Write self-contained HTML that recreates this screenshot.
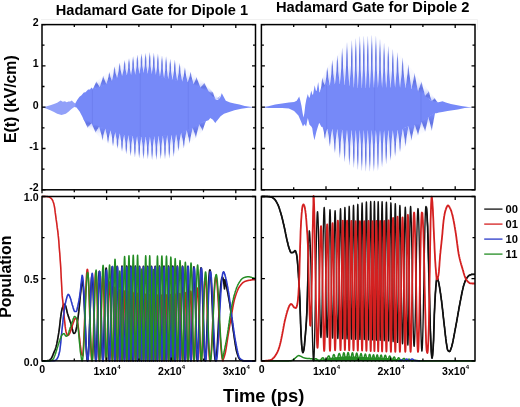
<!DOCTYPE html>
<html><head><meta charset="utf-8"><title>Hadamard Gate</title>
<style>html,body{margin:0;padding:0;background:#fff;}svg{display:block;}</style>
</head><body>
<svg width="520" height="407" viewBox="0 0 520 407">
<rect width="520" height="407" fill="#fff"/>
<path d="M41 19.6 H477.5 V30" stroke="#f0f0f0" stroke-width="1" fill="none"/>
<defs>
<clipPath id="ctl"><rect x="42.0" y="22.6" width="213.5" height="169.2"/></clipPath>
<clipPath id="ctr"><rect x="261.4" y="22.6" width="213.6" height="169.2"/></clipPath>
<clipPath id="cbl"><rect x="42.0" y="194.5" width="213.5" height="168.4"/></clipPath>
<clipPath id="cbr"><rect x="261.4" y="194.5" width="213.6" height="168.4"/></clipPath>
<linearGradient id="gu" x1="0" y1="0" x2="0" y2="1"><stop offset="0" stop-color="#6274e4" stop-opacity="0.45"/><stop offset="0.2" stop-color="#6274e4" stop-opacity="0.85"/><stop offset="0.45" stop-color="#6274e4"/><stop offset="0.85" stop-color="#7689f8"/></linearGradient>
<linearGradient id="ggu" x1="0" y1="0" x2="0" y2="1"><stop offset="0" stop-color="#7689f8" stop-opacity="0"/><stop offset="0.5" stop-color="#7689f8" stop-opacity="0.08"/><stop offset="1" stop-color="#7689f8" stop-opacity="0.45"/></linearGradient>
<linearGradient id="gd" x1="0" y1="1" x2="0" y2="0"><stop offset="0" stop-color="#6274e4" stop-opacity="0.45"/><stop offset="0.2" stop-color="#6274e4" stop-opacity="0.85"/><stop offset="0.45" stop-color="#6274e4"/><stop offset="0.85" stop-color="#7689f8"/></linearGradient>
<linearGradient id="ggd" x1="0" y1="1" x2="0" y2="0"><stop offset="0" stop-color="#7689f8" stop-opacity="0"/><stop offset="0.5" stop-color="#7689f8" stop-opacity="0.08"/><stop offset="1" stop-color="#7689f8" stop-opacity="0.45"/></linearGradient>
</defs>
<g clip-path="url(#ctl)"><path d="M42 107.2 L46 106.6 L50.3 105.3 L54 104 L57.2 102.7 L60.6 100.5 L62.8 101.8 L64.9 101.2 L66.8 102.2 L68.4 101.6 L70.2 101.4 L71.8 100.5 L73.5 102.2 L75.2 103.4 L77.5 99.5 L79.5 96.7 L81.5 95.3 L83.8 92.4 L85.5 92.3 L88.1 89.5 L90 89.4 L91.5 87.5 L92.5 88.5 L92.8 88.9 L93.3 88.8 L93.8 88.6 L94.3 88.5 L94.8 88.4 L95.3 88.3 L95.8 88.1 L96.3 88 L96.8 87.9 L97.3 87.7 L97.8 87.5 L98.3 87.4 L98.8 87.2 L99.3 87.1 L99.8 86.9 L100.3 86.7 L100.8 86.5 L101.3 86.3 L101.8 86 L102.3 85.8 L102.8 85.6 L103.3 85.3 L103.8 85.1 L104.3 84.8 L104.8 84.5 L105.3 84.3 L105.8 84 L106.3 83.8 L106.8 83.5 L107.3 83.2 L107.8 83 L108.3 82.7 L108.8 82.4 L109.3 82.1 L109.8 81.8 L110.3 81.5 L110.8 81.2 L111.3 81 L111.8 80.7 L112.3 80.4 L112.8 80.1 L113.3 79.8 L113.8 79.6 L114.3 79.3 L114.8 79 L115.3 78.7 L115.8 78.5 L116.3 78.2 L116.8 78 L117.3 77.7 L117.8 77.5 L118.3 77.3 L118.8 77.1 L119.3 76.8 L119.8 76.6 L120.3 76.4 L120.8 76.3 L121.3 76.1 L121.8 75.9 L122.3 75.8 L122.8 75.7 L123.3 75.6 L123.8 75.5 L124.3 75.4 L124.8 75.3 L125.3 75.2 L125.8 75.1 L126.3 75.1 L126.8 75 L127.3 75 L127.8 75 L128.3 74.9 L128.8 74.9 L129.3 74.9 L129.8 74.9 L130.3 74.8 L130.8 74.8 L131.3 74.8 L131.8 74.7 L132.3 74.7 L132.8 74.7 L133.3 74.6 L133.8 74.6 L134.3 74.5 L134.8 74.5 L135.3 74.4 L135.8 74.3 L136.3 74.2 L136.8 74.1 L137.3 74 L137.8 73.9 L138.3 73.8 L138.8 73.7 L139.3 73.6 L139.8 73.5 L140.3 73.3 L140.8 73.2 L141.3 73.1 L141.8 72.9 L142.3 72.8 L142.8 72.7 L143.3 72.6 L143.8 72.6 L144.3 72.6 L144.8 72.7 L145.3 72.8 L145.8 72.9 L146.3 73.1 L146.8 73.2 L147.3 73.3 L147.8 73.4 L148.3 73.5 L148.8 73.6 L149.3 73.6 L149.8 73.6 L150.3 73.6 L150.8 73.7 L151.3 73.7 L151.8 73.7 L152.3 73.8 L152.8 73.8 L153.3 73.9 L153.8 74 L154.3 74.2 L154.8 74.3 L155.3 74.5 L155.8 74.7 L156.3 74.9 L156.8 75.1 L157.3 75.3 L157.8 75.4 L158.3 75.6 L158.8 75.8 L159.3 76.1 L159.8 76.3 L160.3 76.6 L160.8 76.8 L161.3 77 L161.8 77.3 L162.3 77.5 L162.8 77.6 L163.3 77.8 L163.8 77.9 L164.3 78 L164.8 78.1 L165.3 78.2 L165.8 78.3 L166.3 78.3 L166.8 78.4 L167.3 78.5 L167.8 78.6 L168.3 78.7 L168.8 78.7 L169.3 78.8 L169.8 78.9 L170.3 79 L170.8 79.1 L171.3 79.2 L171.8 79.3 L172.3 79.4 L172.8 79.5 L173.3 79.7 L173.8 79.8 L174.3 79.9 L174.8 80 L175.3 80.1 L175.8 80.2 L176.3 80.2 L176.8 80.3 L177.3 80.4 L177.8 80.5 L178.3 80.6 L178.8 80.7 L179.3 80.7 L179.8 80.8 L180.3 80.9 L180.8 81 L181.3 81 L181.8 81.1 L182.3 81.2 L182.8 81.2 L183.3 81.3 L183.8 81.4 L184.3 81.4 L184.8 81.5 L185.3 81.6 L185.8 81.7 L186.3 81.8 L186.8 81.9 L187.3 82 L187.8 82.1 L188.3 82.2 L188.8 82.3 L189.3 82.4 L189.8 82.6 L190.3 82.7 L190.8 82.9 L191.3 83 L191.8 83.2 L192.3 83.4 L192.8 83.6 L193.3 83.7 L193.8 83.9 L194.3 84.1 L194.8 84.4 L195.3 84.6 L195.8 84.9 L196.3 85.1 L196.8 85.4 L197.3 85.7 L197.8 86 L198.3 86.2 L198.8 86.5 L199.3 86.8 L199.8 87 L200.3 87.3 L200.8 87.5 L201.3 87.7 L201.8 87.9 L202.3 88.1 L202.8 88.3 L203.3 88.5 L203.8 88.7 L204.3 88.9 L204.8 89.1 L205.3 89.3 L205.8 89.5 L206.3 89.7 L206.8 90 L207.3 90.3 L207.8 90.6 L208.3 91 L208.8 91.4 L209.3 92 L209.8 92.5 L210.3 93.1 L210.8 93.7 L211.3 94.3 L211.8 94.8 L212.3 95.4 L212.8 96.1 L213.3 96.8 L213.8 97.6 L214.3 98.3 L214.8 99 L215.3 99.5 L215.8 99.8 L216.3 99.9 L216.8 99.9 L217.3 99.8 L217.8 99.7 L218.3 99.5 L218.8 99.1 L219.3 98.6 L219.8 98 L220.3 97.2 L220.8 96.1 L221.3 94.8 L221.8 93.3 L225.8 100.8 L230.1 102.5 L234.4 103.4 L239.5 104.6 L244.7 105.9 L249.8 106.8 L255.5 107.2 L255.5 107.2 L248.1 107.7 L241.2 108.8 L234.4 110.2 L229.2 111.9 L224 113.7 L220.6 116.2 L217.2 120.5 L216.3 121.5 L215.5 123.1 L214.5 122 L212.9 119.7 L210.3 118 L208.5 120.3 L205.5 121.2 L205 121.3 L204.5 121.5 L204 121.7 L203.5 121.9 L203 122.2 L202.5 122.4 L202 122.7 L201.5 123 L201 123.3 L200.5 123.6 L200 123.9 L199.5 124.2 L199 124.5 L198.5 124.8 L198 125.1 L197.5 125.4 L197 125.7 L196.5 126 L196 126.4 L195.5 126.7 L195 127 L194.5 127.2 L194 127.5 L193.5 127.7 L193 128 L192.5 128.2 L192 128.4 L191.5 128.6 L191 128.8 L190.5 128.9 L190 129.1 L189.5 129.3 L189 129.5 L188.5 129.7 L188 129.9 L187.5 130.1 L187 130.4 L186.5 130.6 L186 130.8 L185.5 131.1 L185 131.3 L184.5 131.6 L184 131.8 L183.5 132.1 L183 132.3 L182.5 132.5 L182 132.7 L181.5 132.9 L181 133.1 L180.5 133.3 L180 133.5 L179.5 133.7 L179 133.9 L178.5 134.1 L178 134.2 L177.5 134.4 L177 134.5 L176.5 134.6 L176 134.7 L175.5 134.8 L175 134.9 L174.5 134.9 L174 135 L173.5 135.1 L173 135.1 L172.5 135.2 L172 135.2 L171.5 135.3 L171 135.3 L170.5 135.4 L170 135.4 L169.5 135.4 L169 135.5 L168.5 135.5 L168 135.5 L167.5 135.6 L167 135.6 L166.5 135.6 L166 135.6 L165.5 135.7 L165 135.7 L164.5 135.7 L164 135.8 L163.5 135.8 L163 135.9 L162.5 135.9 L162 135.9 L161.5 136 L161 136 L160.5 136 L160 136.1 L159.5 136.1 L159 136.2 L158.5 136.2 L158 136.3 L157.5 136.3 L157 136.3 L156.5 136.4 L156 136.4 L155.5 136.5 L155 136.5 L154.5 136.6 L154 136.6 L153.5 136.7 L153 136.8 L152.5 136.9 L152 136.9 L151.5 137 L151 137 L150.5 137 L150 137 L149.5 137 L149 137 L148.5 137 L148 137 L147.5 137 L147 137 L146.5 137 L146 137 L145.5 137 L145 137 L144.5 137 L144 137 L143.5 137 L143 137 L142.5 137 L142 137 L141.5 137 L141 136.9 L140.5 136.9 L140 136.8 L139.5 136.7 L139 136.6 L138.5 136.6 L138 136.5 L137.5 136.4 L137 136.4 L136.5 136.3 L136 136.3 L135.5 136.2 L135 136.1 L134.5 136.1 L134 136 L133.5 136 L133 135.9 L132.5 135.9 L132 135.9 L131.5 135.8 L131 135.8 L130.5 135.8 L130 135.7 L129.5 135.7 L129 135.7 L128.5 135.6 L128 135.6 L127.5 135.5 L127 135.5 L126.5 135.4 L126 135.3 L125.5 135.2 L125 135.2 L124.5 135.1 L124 135 L123.5 134.8 L123 134.7 L122.5 134.5 L122 134.4 L121.5 134.2 L121 134 L120.5 133.9 L120 133.7 L119.5 133.6 L119 133.5 L118.5 133.4 L118 133.3 L117.5 133.1 L117 133 L116.5 132.9 L116 132.7 L115.5 132.6 L115 132.4 L114.5 132.3 L114 132.1 L113.5 131.9 L113 131.7 L112.5 131.5 L112 131.3 L111.5 131.1 L111 130.9 L110.5 130.7 L110 130.5 L109.5 130.4 L109 130.2 L108.5 130 L108 129.8 L107.5 129.6 L107 129.5 L106.5 129.3 L106 129.1 L105.5 128.9 L105 128.8 L104.5 128.6 L104 128.4 L103.5 128.3 L103 128.1 L102.5 128 L102 127.8 L101.5 127.7 L101 127.5 L100.5 127.4 L100 127.2 L99.5 127.1 L99 126.9 L98.5 126.7 L98 126.6 L97.5 126.4 L97 126.2 L96.5 126 L96 125.8 L95.5 125.6 L95 125.4 L94.5 125.2 L94 125 L93.5 124.8 L93 124.5 L92.5 124.2 L92 123.8 L91.5 123.4 L91 123 L90.5 122.6 L90 122.3 L89.5 122.1 L89 122 L88.5 121.9 L88 121.8 L87.5 121.7 L87 121.6 L86.5 121.5 L86 121.4 L85.5 121.2 L85 121 L84.5 120.8 L84 120.2 L83.5 119.2 L82 116 L79.6 111.5 L76.5 107.6 L74.4 107.1 L72.8 107.9 L70.9 109.5 L68.5 111.8 L65.8 113.7 L61.5 115.1 L57.2 113.7 L54 112 L50.3 110.3 L46 108.5 L42 107.2 Z" fill="#7689f8"/><path d="M96.3 81.4 L99.8 87.2 L103.2 75.8 Z" fill="url(#ggu)"/><path d="M103.2 75.8 L106.2 84.1 L109.3 72.1 Z" fill="url(#ggu)"/><path d="M109.3 72.1 L111.9 81 L114.5 66.4 Z" fill="url(#ggu)"/><path d="M114.5 66.4 L117 78.2 L119.6 62.8 Z" fill="url(#ggu)"/><path d="M119.6 62.8 L122.1 76.2 L124.6 60.1 Z" fill="url(#ggu)"/><path d="M124.6 60.1 L126.8 75.3 L129 58.2 Z" fill="url(#ggu)"/><path d="M129 58.2 L131.1 75.1 L133.1 56.3 Z" fill="url(#ggu)"/><path d="M133.1 56.3 L135.2 74.7 L137.4 54.7 Z" fill="url(#ggu)"/><path d="M137.4 54.7 L139.4 73.9 L141.5 53.4 Z" fill="url(#ggu)"/><path d="M141.5 53.4 L143.6 72.9 L145.6 53 Z" fill="url(#ggu)"/><path d="M145.6 53 L147.6 73.7 L149.7 52 Z" fill="url(#ggu)"/><path d="M149.7 52 L151.8 74 L153.8 52.8 Z" fill="url(#ggu)"/><path d="M153.8 52.8 L155.9 75 L157.9 53.6 Z" fill="url(#ggu)"/><path d="M157.9 53.6 L159.9 76.7 L162 55.6 Z" fill="url(#ggu)"/><path d="M162 55.6 L164.1 78.2 L166.1 56.3 Z" fill="url(#ggu)"/><path d="M166.1 56.3 L168.2 78.9 L170.3 58.9 Z" fill="url(#ggu)"/><path d="M170.3 58.9 L172.6 79.8 L174.8 59.7 Z" fill="url(#ggu)"/><path d="M174.8 59.7 L177.2 80.7 L179.6 63 Z" fill="url(#ggu)"/><path d="M179.6 63 L182.2 81.4 L184.9 67.5 Z" fill="url(#ggu)"/><path d="M184.9 67.5 L187.8 82.4 L190.6 71.8 Z" fill="url(#ggu)"/><path d="M190.6 71.8 L193.6 84.1 L196.6 77 Z" fill="url(#ggu)"/><path d="M196.6 77 L200.6 87.7 L204.5 82.8 Z" fill="url(#ggu)"/><path d="M204.5 82.8 L208.7 91.6 L212.9 92.2 Z" fill="url(#ggu)"/><path d="M212.9 92.2 L215.9 100.1 L218.9 98.2 Z" fill="url(#ggu)"/><path d="M92.8 89.5 L93.2 88.3 L93.5 87.7 L93.8 87 L94.2 86.2 L94.5 85.5 L95 84.4 L95.4 83.5 L95.8 82.7 L96 82.2 L96.1 81.7 L96.3 81.4 L96.5 81.6 L96.6 82 L96.8 82.4 L97.2 82.9 L97.6 83.6 L98.1 84.4 L98.4 85 L98.8 85.5 L99.1 86 L99.4 86.5 L99.8 87.5 Z" fill="url(#gu)"/><path d="M99.8 87.5 L100.1 86 L100.4 85.1 L100.7 84.1 L101.1 83 L101.4 81.9 L102 80.2 L102.4 78.9 L102.7 77.8 L102.9 76.9 L103 76.2 L103.2 75.8 L103.4 76.1 L103.5 76.6 L103.7 77.2 L103.9 78 L104.3 79 L104.7 80.2 L105.1 81 L105.4 81.8 L105.7 82.5 L106 83.2 L106.2 84.4 Z" fill="url(#gu)"/><path d="M106.2 84.4 L106.6 82.9 L106.9 81.9 L107.3 80.9 L107.7 79.7 L108 78.5 L108.5 76.8 L108.6 75.4 L108.8 74.2 L109 73.3 L109.1 72.5 L109.3 72.1 L109.5 72.4 L109.6 72.9 L109.8 73.6 L110 74.5 L110.1 75.5 L110.4 76.8 L110.7 77.7 L111 78.5 L111.3 79.3 L111.6 80 L111.9 81.3 Z" fill="url(#gu)"/><path d="M111.9 81.3 L112.2 79.5 L112.5 78.4 L112.8 77.1 L113.1 75.7 L113.4 74.2 L113.7 72.1 L113.8 70.4 L114 69 L114.2 67.8 L114.3 67 L114.5 66.4 L114.7 66.9 L114.8 67.5 L115 68.5 L115.2 69.6 L115.3 71 L115.5 72.7 L115.8 73.9 L116.2 75 L116.5 76 L116.8 77 L117 78.5 Z" fill="url(#gu)"/><path d="M117 78.5 L117.4 76.7 L117.6 75.5 L118 74.1 L118.3 72.6 L118.6 71.1 L118.8 68.8 L118.9 67 L119.1 65.5 L119.3 64.3 L119.4 63.4 L119.6 62.8 L119.8 63.3 L119.9 64.1 L120.1 65.2 L120.3 66.5 L120.4 68 L120.6 70 L120.9 71.3 L121.2 72.6 L121.5 73.8 L121.8 74.8 L122.1 76.5 Z" fill="url(#gu)"/><path d="M122.1 76.5 L122.4 74.6 L122.8 73.3 L123.1 71.9 L123.4 70.4 L123.7 68.8 L123.8 66.4 L123.9 64.5 L124.1 62.9 L124.3 61.7 L124.4 60.7 L124.6 60.1 L124.8 60.7 L124.9 61.6 L125.1 62.8 L125.3 64.3 L125.4 66.1 L125.4 68.3 L125.6 69.8 L125.9 71.3 L126.2 72.6 L126.5 73.8 L126.8 75.6 Z" fill="url(#gu)"/><path d="M126.8 75.6 L127.1 73.7 L127.4 72.3 L127.7 70.8 L128 69.1 L128.2 67.5 L128.2 64.9 L128.3 62.9 L128.5 61.2 L128.7 59.9 L128.8 58.9 L129 58.2 L129.2 58.9 L129.3 59.9 L129.5 61.2 L129.7 62.8 L129.8 64.8 L129.8 67.3 L129.9 69 L130.2 70.7 L130.5 72.1 L130.8 73.5 L131.1 75.4 Z" fill="url(#gu)"/><path d="M131.1 75.4 L131.3 73.3 L131.6 71.8 L131.9 70.2 L132.2 68.3 L132.3 66.5 L132.3 63.7 L132.4 61.5 L132.6 59.6 L132.8 58.2 L132.9 57 L133.1 56.3 L133.3 57 L133.4 58.1 L133.6 59.6 L133.8 61.4 L133.9 63.5 L133.9 66.3 L134.1 68.1 L134.4 69.9 L134.7 71.5 L135 73 L135.2 75 Z" fill="url(#gu)"/><path d="M135.2 75 L135.5 72.8 L135.8 71.3 L136.1 69.5 L136.4 67.5 L136.6 65.5 L136.6 62.6 L136.7 60.2 L136.9 58.2 L137.1 56.6 L137.2 55.5 L137.4 54.7 L137.6 55.4 L137.7 56.6 L137.9 58.1 L138.1 60 L138.2 62.2 L138.2 65.1 L138.3 66.9 L138.6 68.8 L138.9 70.5 L139.2 72 L139.4 74.2 Z" fill="url(#gu)"/><path d="M139.4 74.2 L139.7 71.9 L140 70.3 L140.3 68.5 L140.6 66.5 L140.7 64.5 L140.7 61.5 L140.8 59.1 L141 57.1 L141.2 55.4 L141.3 54.2 L141.5 53.4 L141.7 54.2 L141.8 55.4 L142 56.9 L142.2 58.8 L142.3 61.1 L142.3 64 L142.4 65.9 L142.7 67.8 L143 69.5 L143.3 71.1 L143.6 73.2 Z" fill="url(#gu)"/><path d="M143.6 73.2 L143.8 71 L144.1 69.5 L144.4 67.7 L144.7 65.7 L144.8 63.8 L144.8 60.8 L144.9 58.5 L145.1 56.5 L145.3 54.9 L145.4 53.8 L145.6 53 L145.8 53.8 L145.9 55 L146.1 56.7 L146.3 58.7 L146.4 61.1 L146.4 64.2 L146.5 66.3 L146.8 68.3 L147.1 70.1 L147.4 71.8 L147.6 74 Z" fill="url(#gu)"/><path d="M147.6 74 L147.9 71.7 L148.2 70 L148.5 68.1 L148.8 65.9 L148.9 63.8 L148.9 60.6 L149 58 L149.2 55.9 L149.4 54.2 L149.5 52.9 L149.7 52 L149.9 52.9 L150 54.2 L150.2 55.9 L150.4 58.1 L150.5 60.7 L150.5 64 L150.6 66.1 L150.9 68.3 L151.2 70.3 L151.5 72 L151.8 74.3 Z" fill="url(#gu)"/><path d="M151.8 74.3 L152 72 L152.3 70.4 L152.6 68.5 L152.9 66.4 L153 64.3 L153 61.2 L153.1 58.6 L153.3 56.6 L153.5 54.9 L153.6 53.6 L153.8 52.8 L154 53.7 L154.1 55 L154.3 56.7 L154.5 58.9 L154.6 61.5 L154.6 64.8 L154.7 67 L155 69.2 L155.3 71.2 L155.6 72.9 L155.9 75.3 Z" fill="url(#gu)"/><path d="M155.9 75.3 L156.1 73 L156.4 71.3 L156.7 69.4 L157 67.3 L157.1 65.2 L157.1 62 L157.2 59.5 L157.4 57.4 L157.6 55.7 L157.7 54.4 L157.9 53.6 L158.1 54.5 L158.2 55.8 L158.4 57.7 L158.6 59.9 L158.7 62.7 L158.7 66.1 L158.8 68.4 L159.1 70.7 L159.4 72.7 L159.7 74.5 L159.9 77 Z" fill="url(#gu)"/><path d="M159.9 77 L160.2 74.7 L160.5 73 L160.8 71.2 L161.1 69.1 L161.2 67 L161.2 63.9 L161.3 61.4 L161.5 59.3 L161.7 57.7 L161.8 56.4 L162 55.6 L162.2 56.5 L162.3 57.8 L162.5 59.6 L162.7 61.8 L162.8 64.5 L162.8 67.9 L162.9 70.1 L163.2 72.4 L163.5 74.4 L163.8 76.2 L164.1 78.5 Z" fill="url(#gu)"/><path d="M164.1 78.5 L164.3 76.2 L164.6 74.5 L164.9 72.5 L165.2 70.4 L165.3 68.2 L165.3 65 L165.4 62.4 L165.6 60.2 L165.8 58.5 L165.9 57.2 L166.1 56.3 L166.3 57.2 L166.4 58.6 L166.6 60.3 L166.8 62.6 L166.9 65.3 L166.9 68.6 L167.1 70.8 L167.4 73.1 L167.6 75.1 L167.9 76.8 L168.2 79.2 Z" fill="url(#gu)"/><path d="M168.2 79.2 L168.5 77.1 L168.8 75.5 L169 73.7 L169.3 71.7 L169.5 69.8 L169.5 66.8 L169.6 64.4 L169.8 62.5 L170 60.9 L170.1 59.7 L170.3 58.9 L170.5 59.7 L170.6 61 L170.8 62.6 L171 64.7 L171.1 67.1 L171.1 70.2 L171.3 72.3 L171.6 74.3 L171.9 76.2 L172.2 77.8 L172.6 80.1 Z" fill="url(#gu)"/><path d="M172.6 80.1 L172.8 77.9 L173.1 76.3 L173.4 74.5 L173.7 72.6 L174 70.6 L174 67.6 L174.1 65.3 L174.3 63.3 L174.5 61.7 L174.6 60.5 L174.8 59.7 L175 60.5 L175.1 61.8 L175.3 63.4 L175.5 65.5 L175.6 68 L175.7 71.1 L176 73.2 L176.3 75.2 L176.6 77.1 L176.9 78.7 L177.2 81 Z" fill="url(#gu)"/><path d="M177.2 81 L177.5 79 L177.8 77.6 L178.1 76.1 L178.4 74.3 L178.7 72.6 L178.8 70 L178.9 67.9 L179.1 66.2 L179.3 64.8 L179.4 63.7 L179.6 63 L179.8 63.8 L179.9 64.9 L180.1 66.3 L180.3 68.1 L180.4 70.3 L180.6 73 L180.9 74.8 L181.3 76.6 L181.6 78.2 L181.9 79.7 L182.2 81.7 Z" fill="url(#gu)"/><path d="M182.2 81.7 L182.5 80 L182.8 79 L183.1 77.7 L183.5 76.4 L183.8 75 L184.1 73 L184.2 71.3 L184.4 70 L184.6 68.9 L184.7 68 L184.9 67.5 L185.1 68.1 L185.2 69 L185.4 70.1 L185.6 71.6 L185.7 73.3 L186.1 75.5 L186.4 77 L186.8 78.4 L187.1 79.7 L187.4 80.9 L187.8 82.7 Z" fill="url(#gu)"/><path d="M187.8 82.7 L188 81.2 L188.3 80.4 L188.6 79.5 L189 78.5 L189.3 77.4 L189.7 75.9 L189.9 74.7 L190.1 73.6 L190.3 72.8 L190.4 72.2 L190.6 71.8 L190.8 72.3 L190.9 73 L191.1 74 L191.3 75.2 L191.5 76.6 L192 78.4 L192.3 79.6 L192.7 80.8 L193 81.9 L193.3 82.9 L193.6 84.4 Z" fill="url(#gu)"/><path d="M193.6 84.4 L193.9 83.3 L194.2 82.7 L194.5 82.1 L194.8 81.4 L195.1 80.8 L195.6 79.7 L195.9 78.9 L196.1 78.2 L196.3 77.7 L196.4 77.3 L196.6 77 L196.8 77.4 L196.9 78 L197.1 78.9 L197.5 79.9 L198 81.1 L198.6 82.7 L199 83.7 L199.4 84.8 L199.8 85.7 L200.2 86.5 L200.6 88 Z" fill="url(#gu)"/><path d="M200.6 88 L200.9 87 L201.2 86.6 L201.6 86.2 L202 85.8 L202.5 85.3 L203.1 84.6 L203.5 84.1 L203.9 83.6 L204.2 83.3 L204.3 83 L204.5 82.8 L204.7 83.1 L204.8 83.6 L205.1 84.3 L205.5 85.2 L206 86.2 L206.7 87.5 L207.1 88.3 L207.6 89.2 L208 89.9 L208.3 90.6 L208.7 91.9 Z" fill="url(#gu)"/><path d="M208.7 91.9 L209.1 91.4 L209.5 91.4 L209.9 91.5 L210.4 91.6 L210.8 91.7 L211.5 91.8 L212 91.9 L212.3 92 L212.6 92.1 L212.7 92.2 L212.9 92.2 L213.1 92.5 L213.2 93 L213.4 93.6 L213.6 94.3 L213.9 95.2 L214.4 96.4 L214.7 97.2 L215 97.9 L215.3 98.6 L215.6 99.2 L215.9 100.4 Z" fill="url(#gu)"/><path d="M215.9 100.4 L216.2 99.7 L216.5 99.6 L216.8 99.4 L217.1 99.3 L217.4 99.1 L217.9 98.8 L218.2 98.7 L218.4 98.5 L218.6 98.4 L218.7 98.3 L218.9 98.2 L219.1 98 L219.2 97.7 L219.4 97.3 L219.6 96.8 L219.9 96.2 L220.4 95.4 L220.7 94.9 L221 94.4 L221.3 93.9 L221.6 93.5 L221.9 93.7 Z" fill="url(#gu)"/><path d="M87.5 127.9 L91.5 123.1 L95.5 132.7 Z" fill="url(#ggd)"/><path d="M95.5 132.7 L99 126.6 L102.5 140.5 Z" fill="url(#ggd)"/><path d="M102.5 140.5 L105.2 128.6 L108 143.4 Z" fill="url(#ggd)"/><path d="M108 143.4 L110.5 130.4 L113 146.3 Z" fill="url(#ggd)"/><path d="M113 146.3 L115.2 132.2 L117.5 148.7 Z" fill="url(#ggd)"/><path d="M117.5 148.7 L119.8 133.4 L122 151.6 Z" fill="url(#ggd)"/><path d="M122 151.6 L124.2 134.7 L126.3 154.1 Z" fill="url(#ggd)"/><path d="M126.3 154.1 L128.4 135.3 L130.6 156.1 Z" fill="url(#ggd)"/><path d="M130.6 156.1 L132.8 135.6 L134.9 157.3 Z" fill="url(#ggd)"/><path d="M134.9 157.3 L137.1 136.1 L139.2 158.2 Z" fill="url(#ggd)"/><path d="M139.2 158.2 L141.3 136.7 L143.5 159.1 Z" fill="url(#ggd)"/><path d="M143.5 159.1 L145.7 136.7 L147.8 159.1 Z" fill="url(#ggd)"/><path d="M147.8 159.1 L149.9 136.7 L152.1 160 Z" fill="url(#ggd)"/><path d="M152.1 160 L154.2 136.3 L156.4 160 Z" fill="url(#ggd)"/><path d="M156.4 160 L158.6 135.9 L160.7 159.1 Z" fill="url(#ggd)"/><path d="M160.7 159.1 L162.8 135.6 L165 159.1 Z" fill="url(#ggd)"/><path d="M165 159.1 L167.2 135.3 L169.3 158.4 Z" fill="url(#ggd)"/><path d="M169.3 158.4 L171.5 135 L173.7 156.7 Z" fill="url(#ggd)"/><path d="M173.7 156.7 L176.1 134.4 L178.5 151.1 Z" fill="url(#ggd)"/><path d="M178.5 151.1 L181.2 132.8 L183.8 148.3 Z" fill="url(#ggd)"/><path d="M183.8 148.3 L186.7 130.2 L189.6 143.5 Z" fill="url(#ggd)"/><path d="M189.6 143.5 L192.8 127.8 L195.9 138.1 Z" fill="url(#ggd)"/><path d="M195.9 138.1 L199.2 124.1 L202.6 131 Z" fill="url(#ggd)"/><path d="M83.5 118.6 L83.9 119.9 L84.2 120.6 L84.6 121.4 L85 122.3 L85.4 123.1 L86 124.4 L86.5 125.5 L86.9 126.3 L87.2 127 L87.3 127.6 L87.5 127.9 L87.7 127.7 L87.8 127.5 L88.1 127.1 L88.5 126.6 L89 126.1 L89.6 125.4 L90 125 L90.4 124.5 L90.8 124.1 L91.1 123.8 L91.5 122.8 Z" fill="url(#gd)"/><path d="M91.5 122.8 L91.9 124.1 L92.2 124.9 L92.6 125.7 L93 126.7 L93.4 127.6 L94 129 L94.5 130.1 L94.9 131 L95.2 131.8 L95.3 132.3 L95.5 132.7 L95.7 132.5 L95.8 132.1 L96 131.7 L96.4 131.1 L96.8 130.4 L97.3 129.5 L97.7 128.9 L98.1 128.4 L98.4 127.8 L98.7 127.4 L99 126.3 Z" fill="url(#gd)"/><path d="M99 126.3 L99.4 128 L99.7 129.1 L100.1 130.3 L100.5 131.7 L100.9 133 L101.5 135.1 L101.8 136.7 L102 138.1 L102.2 139.1 L102.3 140 L102.5 140.5 L102.7 140 L102.8 139.3 L103 138.4 L103.2 137.2 L103.3 135.8 L103.7 134.1 L104 132.9 L104.4 131.8 L104.7 130.7 L105 129.8 L105.2 128.3 Z" fill="url(#gd)"/><path d="M105.2 128.3 L105.6 130 L105.9 131.2 L106.2 132.5 L106.6 133.9 L106.9 135.4 L107.2 137.6 L107.3 139.3 L107.5 140.8 L107.7 141.9 L107.8 142.8 L108 143.4 L108.2 142.9 L108.3 142.1 L108.5 141.1 L108.7 139.9 L108.8 138.3 L109 136.4 L109.3 135.2 L109.6 133.9 L109.9 132.8 L110.2 131.7 L110.5 130.1 Z" fill="url(#gd)"/><path d="M110.5 130.1 L110.8 132 L111.1 133.2 L111.5 134.6 L111.8 136.2 L112.1 137.7 L112.2 140.1 L112.3 141.9 L112.5 143.5 L112.7 144.7 L112.8 145.7 L113 146.3 L113.2 145.7 L113.3 144.9 L113.5 143.8 L113.7 142.4 L113.8 140.8 L113.8 138.7 L114.1 137.3 L114.4 136 L114.7 134.7 L115 133.6 L115.2 131.9 Z" fill="url(#gd)"/><path d="M115.2 131.9 L115.5 133.8 L115.8 135.1 L116.1 136.6 L116.4 138.2 L116.7 139.8 L116.7 142.2 L116.8 144.2 L117 145.8 L117.2 147.1 L117.3 148.1 L117.5 148.7 L117.7 148.1 L117.8 147.2 L118 146 L118.2 144.5 L118.3 142.7 L118.3 140.4 L118.6 138.9 L118.9 137.4 L119.2 136.1 L119.5 134.9 L119.8 133.1 Z" fill="url(#gd)"/><path d="M119.8 133.1 L120.1 135.1 L120.3 136.5 L120.6 138.2 L120.9 140 L121.2 141.7 L121.2 144.4 L121.3 146.6 L121.5 148.4 L121.7 149.8 L121.8 150.9 L122 151.6 L122.2 150.9 L122.3 149.9 L122.5 148.6 L122.7 146.9 L122.8 145 L122.8 142.5 L123 140.8 L123.3 139.1 L123.6 137.6 L123.9 136.3 L124.2 134.4 Z" fill="url(#gd)"/><path d="M124.2 134.4 L124.4 136.5 L124.7 138 L125 139.8 L125.3 141.7 L125.5 143.6 L125.5 146.5 L125.6 148.7 L125.8 150.7 L126 152.2 L126.1 153.3 L126.3 154.1 L126.5 153.4 L126.6 152.3 L126.8 150.8 L127 148.9 L127.1 146.7 L127.1 143.9 L127.3 142.1 L127.6 140.2 L127.9 138.6 L128.2 137.1 L128.4 135 Z" fill="url(#gd)"/><path d="M128.4 135 L128.7 137.3 L129 138.9 L129.3 140.8 L129.6 142.8 L129.8 144.9 L129.8 147.9 L129.9 150.4 L130.1 152.4 L130.3 154.1 L130.4 155.3 L130.6 156.1 L130.8 155.3 L130.9 154.1 L131.1 152.5 L131.3 150.5 L131.4 148 L131.4 145 L131.6 143 L131.9 141 L132.2 139.2 L132.5 137.5 L132.8 135.3 Z" fill="url(#gd)"/><path d="M132.8 135.3 L133 137.6 L133.3 139.3 L133.6 141.3 L133.9 143.4 L134.1 145.5 L134.1 148.7 L134.2 151.3 L134.4 153.4 L134.6 155.1 L134.7 156.4 L134.9 157.3 L135.1 156.4 L135.2 155.2 L135.4 153.5 L135.6 151.4 L135.7 148.9 L135.7 145.8 L135.9 143.7 L136.2 141.6 L136.5 139.7 L136.8 138.1 L137.1 135.8 Z" fill="url(#gd)"/><path d="M137.1 135.8 L137.3 138.1 L137.6 139.9 L137.9 141.8 L138.2 144 L138.4 146.2 L138.4 149.5 L138.5 152.1 L138.7 154.3 L138.9 156 L139 157.3 L139.2 158.2 L139.4 157.4 L139.5 156.1 L139.7 154.4 L139.9 152.3 L140 149.7 L140 146.5 L140.2 144.4 L140.5 142.3 L140.8 140.4 L141.1 138.7 L141.3 136.4 Z" fill="url(#gd)"/><path d="M141.3 136.4 L141.6 138.7 L141.9 140.5 L142.2 142.5 L142.5 144.7 L142.7 146.9 L142.7 150.2 L142.8 152.9 L143 155.1 L143.2 156.9 L143.3 158.2 L143.5 159.1 L143.7 158.2 L143.8 156.9 L144 155.1 L144.2 152.9 L144.3 150.2 L144.3 146.9 L144.5 144.7 L144.8 142.5 L145.1 140.5 L145.4 138.8 L145.7 136.4 Z" fill="url(#gd)"/><path d="M145.7 136.4 L145.9 138.8 L146.2 140.5 L146.5 142.5 L146.8 144.7 L147 146.9 L147 150.3 L147.1 152.9 L147.3 155.1 L147.5 156.9 L147.6 158.2 L147.8 159.1 L148 158.2 L148.1 156.9 L148.3 155.1 L148.5 152.9 L148.6 150.3 L148.6 146.9 L148.8 144.7 L149.1 142.5 L149.4 140.5 L149.7 138.8 L149.9 136.4 Z" fill="url(#gd)"/><path d="M149.9 136.4 L150.2 138.8 L150.5 140.7 L150.8 142.7 L151.1 145 L151.3 147.3 L151.3 150.8 L151.4 153.5 L151.6 155.8 L151.8 157.7 L151.9 159 L152.1 160 L152.3 159 L152.4 157.6 L152.6 155.8 L152.8 153.4 L152.9 150.6 L152.9 147.1 L153.1 144.8 L153.4 142.4 L153.7 140.3 L154 138.5 L154.2 136 Z" fill="url(#gd)"/><path d="M154.2 136 L154.5 138.5 L154.8 140.3 L155.1 142.5 L155.4 144.8 L155.6 147.1 L155.6 150.6 L155.7 153.4 L155.9 155.8 L156.1 157.7 L156.2 159.1 L156.4 160 L156.6 159 L156.7 157.6 L156.9 155.7 L157.1 153.3 L157.2 150.5 L157.2 146.9 L157.4 144.5 L157.7 142.2 L158 140 L158.3 138.1 L158.6 135.6 Z" fill="url(#gd)"/><path d="M158.6 135.6 L158.8 138 L159.1 139.9 L159.4 141.9 L159.7 144.2 L159.9 146.5 L159.9 150 L160 152.7 L160.2 155 L160.4 156.8 L160.5 158.2 L160.7 159.1 L160.9 158.2 L161 156.8 L161.2 154.9 L161.4 152.6 L161.5 149.8 L161.5 146.3 L161.7 144 L162 141.7 L162.3 139.6 L162.6 137.7 L162.8 135.3 Z" fill="url(#gd)"/><path d="M162.8 135.3 L163.1 137.7 L163.4 139.6 L163.7 141.7 L164 144 L164.2 146.3 L164.2 149.8 L164.3 152.6 L164.5 154.9 L164.7 156.8 L164.8 158.2 L165 159.1 L165.2 158.2 L165.3 156.7 L165.5 154.9 L165.7 152.5 L165.8 149.7 L165.8 146.2 L166 143.8 L166.3 141.5 L166.6 139.3 L166.9 137.5 L167.2 135 Z" fill="url(#gd)"/><path d="M167.2 135 L167.4 137.4 L167.7 139.2 L168 141.3 L168.3 143.6 L168.5 145.9 L168.5 149.3 L168.6 152 L168.8 154.3 L169 156.1 L169.1 157.5 L169.3 158.4 L169.5 157.5 L169.6 156.1 L169.8 154.3 L170 151.9 L170.1 149.2 L170.1 145.7 L170.3 143.4 L170.6 141.1 L170.9 139 L171.2 137.1 L171.5 134.7 Z" fill="url(#gd)"/><path d="M171.5 134.7 L171.8 137 L172.1 138.7 L172.4 140.6 L172.7 142.8 L172.9 144.9 L172.9 148.2 L173 150.7 L173.2 152.9 L173.4 154.6 L173.5 155.9 L173.7 156.7 L173.9 155.9 L174 154.5 L174.2 152.8 L174.4 150.6 L174.5 147.9 L174.6 144.6 L174.8 142.4 L175.2 140.2 L175.5 138.2 L175.8 136.5 L176.1 134.1 Z" fill="url(#gd)"/><path d="M176.1 134.1 L176.4 136 L176.7 137.3 L177 138.8 L177.3 140.4 L177.6 142.1 L177.7 144.5 L177.8 146.5 L178 148.2 L178.2 149.5 L178.3 150.5 L178.5 151.1 L178.7 150.4 L178.8 149.3 L179 147.9 L179.2 146.1 L179.3 143.9 L179.5 141.2 L179.8 139.4 L180.2 137.6 L180.5 135.9 L180.8 134.5 L181.2 132.5 Z" fill="url(#gd)"/><path d="M181.2 132.5 L181.4 134.3 L181.7 135.5 L182 136.9 L182.4 138.4 L182.7 139.9 L183 142.2 L183.1 144.1 L183.3 145.6 L183.5 146.8 L183.6 147.7 L183.8 148.3 L184 147.6 L184.1 146.6 L184.3 145.1 L184.5 143.3 L184.6 141.2 L185 138.5 L185.4 136.7 L185.7 135 L186.1 133.4 L186.4 131.9 L186.7 129.9 Z" fill="url(#gd)"/><path d="M186.7 129.9 L187 131.5 L187.3 132.6 L187.6 133.8 L187.9 135.1 L188.2 136.4 L188.7 138.3 L188.9 139.9 L189.1 141.2 L189.3 142.2 L189.4 143 L189.6 143.5 L189.8 142.9 L189.9 142 L190.1 140.7 L190.3 139.2 L190.6 137.3 L191.1 135 L191.4 133.5 L191.8 131.9 L192.1 130.5 L192.4 129.3 L192.8 127.5 Z" fill="url(#gd)"/><path d="M192.8 127.5 L193 128.9 L193.3 129.7 L193.6 130.6 L193.9 131.6 L194.3 132.6 L194.8 134.1 L195.1 135.3 L195.4 136.3 L195.6 137.1 L195.7 137.7 L195.9 138.1 L196.1 137.5 L196.2 136.7 L196.4 135.6 L196.7 134.2 L197.1 132.6 L197.6 130.5 L198 129.2 L198.3 127.8 L198.7 126.6 L199 125.5 L199.2 123.8 Z" fill="url(#gd)"/><path d="M199.2 123.8 L199.5 124.9 L199.8 125.4 L200.2 126 L200.5 126.7 L200.9 127.3 L201.4 128.3 L201.8 129.1 L202.1 129.8 L202.3 130.3 L202.4 130.7 L202.6 131 L202.8 130.6 L202.9 130 L203.1 129.2 L203.4 128.2 L203.8 127 L204.3 125.5 L204.7 124.5 L205 123.5 L205.4 122.6 L205.7 121.9 L205.9 120.5 Z" fill="url(#gd)"/></g>
<g clip-path="url(#ctr)"><path d="M261.4 107.2 L268.3 106.3 L275.2 104.6 L282.1 103.4 L288.9 102.5 L294.1 102.1 L296.7 100.8 L299.2 96.5 L300.3 100.5 L301.5 106 L302.6 113 L303.5 117.5 L304.4 113 L305.3 105 L306.3 99.5 L307.8 93.9 L308.8 97.3 L309.6 97.8 L311.3 90.5 L312.3 94.5 L313 94.8 L314.7 85.3 L315.8 90.5 L316.6 91 L318.2 81.9 L319.5 92.5 L319.9 91.9 L320.4 90.7 L320.9 89.6 L321.4 88.5 L321.9 87.5 L322.4 86.7 L322.9 86 L323.4 85.5 L323.9 85.1 L324.4 85 L324.9 85 L325.4 85 L325.9 85.1 L326.4 85.1 L326.9 85.1 L327.4 85.2 L327.9 85.2 L328.4 85.3 L328.9 85.3 L329.4 85.3 L329.9 85.3 L330.4 85.2 L330.9 85.1 L331.4 85 L331.9 84.8 L332.4 84.7 L332.9 84.5 L333.4 84.3 L333.9 84.2 L334.4 84.1 L334.9 84 L335.4 84 L335.9 84 L336.4 84 L336.9 84 L337.4 84 L337.9 84 L338.4 84 L338.9 84 L339.4 84 L339.9 84 L340.4 84 L340.9 84 L341.4 84.1 L341.9 84.2 L342.4 84.3 L342.9 84.4 L343.4 84.5 L343.9 84.7 L344.4 84.8 L344.9 84.9 L345.4 85 L345.9 85 L346.4 85.1 L346.9 85.2 L347.4 85.3 L347.9 85.4 L348.4 85.5 L348.9 85.6 L349.4 85.7 L349.9 85.8 L350.4 86 L350.9 86.2 L351.4 86.4 L351.9 86.6 L352.4 86.8 L352.9 87 L353.4 87.2 L353.9 87.4 L354.4 87.5 L354.9 87.6 L355.4 87.7 L355.9 87.8 L356.4 87.8 L356.9 87.9 L357.4 88 L357.9 88 L358.4 88 L358.9 88 L359.4 88 L359.9 88 L360.4 88 L360.9 88 L361.4 88 L361.9 88 L362.4 88 L362.9 88 L363.4 88 L363.9 88 L364.4 88 L364.9 88 L365.4 87.9 L365.9 87.9 L366.4 87.9 L366.9 87.9 L367.4 87.9 L367.9 87.8 L368.4 87.8 L368.9 87.8 L369.4 87.8 L369.9 87.8 L370.4 87.7 L370.9 87.7 L371.4 87.7 L371.9 87.7 L372.4 87.6 L372.9 87.6 L373.4 87.6 L373.9 87.6 L374.4 87.6 L374.9 87.6 L375.4 87.6 L375.9 87.6 L376.4 87.6 L376.9 87.6 L377.4 87.5 L377.9 87.5 L378.4 87.5 L378.9 87.5 L379.4 87.5 L379.9 87.5 L380.4 87.5 L380.9 87.5 L381.4 87.5 L381.9 87.5 L382.4 87.5 L382.9 87.5 L383.4 87.5 L383.9 87.4 L384.4 87.4 L384.9 87.4 L385.4 87.4 L385.9 87.4 L386.4 87.4 L386.9 87.4 L387.4 87.4 L387.9 87.4 L388.4 87.4 L388.9 87.4 L389.4 87.4 L389.9 87.4 L390.4 87.4 L390.9 87.4 L391.4 87.4 L391.9 87.4 L392.4 87.4 L392.9 87.4 L393.4 87.4 L393.9 87.4 L394.4 87.4 L394.9 87.4 L395.4 87.4 L395.9 87.4 L396.4 87.4 L396.9 87.4 L397.4 87.4 L397.9 87.4 L398.4 87.4 L398.9 87.4 L399.4 87.4 L399.9 87.4 L400.4 87.4 L400.9 87.4 L401.4 87.4 L401.9 87.5 L402.4 87.5 L402.9 87.5 L403.4 87.5 L403.9 87.6 L404.4 87.6 L404.9 87.7 L405.4 87.7 L405.9 87.7 L406.4 87.8 L406.9 87.9 L407.4 87.9 L407.9 88 L408.4 88.1 L408.9 88.2 L409.4 88.3 L409.9 88.4 L410.4 88.6 L410.9 88.7 L411.4 88.8 L411.9 88.9 L412.4 89 L412.9 89.2 L413.4 89.3 L413.9 89.5 L414.4 89.6 L414.9 89.8 L415.4 90 L415.9 90.1 L416.4 90.3 L416.9 90.5 L417.4 90.7 L417.9 90.9 L418.4 91.2 L418.9 91.4 L419.4 91.7 L419.9 92 L420.4 92.3 L420.9 92.6 L421.4 93 L421.9 93.3 L422.4 93.7 L422.9 94.1 L423.4 94.4 L423.9 94.8 L424.4 95.1 L424.9 95.5 L425.4 95.9 L425.9 96.3 L426.4 96.7 L426.9 97.2 L427.4 97.7 L427.9 98.1 L428.4 98.6 L428.9 99 L429.4 99.4 L429.9 99.8 L430.4 100.2 L430.9 100.5 L431.4 100.8 L431.9 101 L432.4 101.2 L432.9 101.3 L433.4 101.5 L433.9 101.7 L434.4 101.8 L434.9 101.9 L435.4 102.1 L435.9 102.1 L436.4 102.2 L436.9 102.3 L437.4 102.3 L438.5 102.3 L440.6 101.8 L442.5 101.3 L445.8 102.5 L450.9 103.9 L456.1 105.1 L461.2 106 L468.1 107 L475 107.2 L475 107.2 L469.8 107.5 L464.7 108 L457.8 109.4 L452.6 110.2 L447.5 111.1 L442.3 111.9 L439 112.6 L436.5 113.3 L434.9 113.3 L434.4 113.5 L433.9 113.7 L433.4 114 L432.9 114.3 L432.4 114.6 L431.9 114.9 L431.4 115.2 L430.9 115.6 L430.4 115.9 L429.9 116.3 L429.4 116.6 L428.9 117 L428.4 117.3 L427.9 117.7 L427.4 118 L426.9 118.4 L426.4 118.7 L425.9 119 L425.4 119.3 L424.9 119.7 L424.4 120 L423.9 120.4 L423.4 120.7 L422.9 121.1 L422.4 121.4 L421.9 121.8 L421.4 122.1 L420.9 122.4 L420.4 122.7 L419.9 123 L419.4 123.2 L418.9 123.5 L418.4 123.7 L417.9 123.9 L417.4 124.1 L416.9 124.3 L416.4 124.4 L415.9 124.6 L415.4 124.7 L414.9 124.9 L414.4 125.1 L413.9 125.2 L413.4 125.3 L412.9 125.5 L412.4 125.6 L411.9 125.7 L411.4 125.9 L410.9 126 L410.4 126.1 L409.9 126.2 L409.4 126.3 L408.9 126.4 L408.4 126.5 L407.9 126.6 L407.4 126.8 L406.9 126.9 L406.4 127.1 L405.9 127.3 L405.4 127.5 L404.9 127.8 L404.4 128.1 L403.9 128.4 L403.4 128.7 L402.9 129 L402.4 129.3 L401.9 129.5 L401.4 129.7 L400.9 129.9 L400.4 130 L399.9 130 L399.4 130.1 L398.9 130.2 L398.4 130.2 L397.9 130.3 L397.4 130.3 L396.9 130.3 L396.4 130.4 L395.9 130.4 L395.4 130.5 L394.9 130.5 L394.4 130.5 L393.9 130.5 L393.4 130.6 L392.9 130.6 L392.4 130.6 L391.9 130.6 L391.4 130.6 L390.9 130.6 L390.4 130.6 L389.9 130.6 L389.4 130.6 L388.9 130.6 L388.4 130.6 L387.9 130.6 L387.4 130.6 L386.9 130.6 L386.4 130.6 L385.9 130.6 L385.4 130.6 L384.9 130.6 L384.4 130.6 L383.9 130.6 L383.4 130.6 L382.9 130.6 L382.4 130.6 L381.9 130.6 L381.4 130.6 L380.9 130.6 L380.4 130.6 L379.9 130.6 L379.4 130.6 L378.9 130.6 L378.4 130.6 L377.9 130.6 L377.4 130.6 L376.9 130.6 L376.4 130.6 L375.9 130.6 L375.4 130.6 L374.9 130.6 L374.4 130.6 L373.9 130.6 L373.4 130.6 L372.9 130.6 L372.4 130.6 L371.9 130.6 L371.4 130.6 L370.9 130.6 L370.4 130.6 L369.9 130.6 L369.4 130.6 L368.9 130.6 L368.4 130.6 L367.9 130.6 L367.4 130.6 L366.9 130.6 L366.4 130.6 L365.9 130.6 L365.4 130.6 L364.9 130.6 L364.4 130.6 L363.9 130.6 L363.4 130.6 L362.9 130.6 L362.4 130.6 L361.9 130.6 L361.4 130.6 L360.9 130.6 L360.4 130.6 L359.9 130.6 L359.4 130.6 L358.9 130.6 L358.4 130.6 L357.9 130.6 L357.4 130.5 L356.9 130.5 L356.4 130.5 L355.9 130.5 L355.4 130.5 L354.9 130.5 L354.4 130.5 L353.9 130.4 L353.4 130.4 L352.9 130.4 L352.4 130.4 L351.9 130.4 L351.4 130.4 L350.9 130.3 L350.4 130.3 L349.9 130.3 L349.4 130.3 L348.9 130.3 L348.4 130.2 L347.9 130.2 L347.4 130.2 L346.9 130.2 L346.4 130.1 L345.9 130.1 L345.4 130.1 L344.9 130 L344.4 130 L343.9 130 L343.4 129.9 L342.9 129.9 L342.4 129.9 L341.9 129.8 L341.4 129.8 L340.9 129.7 L340.4 129.7 L339.9 129.6 L339.4 129.6 L338.9 129.5 L338.4 129.5 L337.9 129.4 L337.4 129.4 L336.9 129.4 L336.4 129.3 L335.9 129.3 L335.4 129.3 L334.9 129.3 L334.4 129.2 L333.9 129.2 L333.4 129.2 L332.9 129.2 L332.4 129.2 L331.9 129.2 L331.4 129.2 L330.9 129.2 L330.4 129.1 L329.9 129.1 L329.4 129.1 L328.9 129.1 L328.4 129.1 L327.9 129 L327.4 129 L326.9 128.9 L326.4 128.8 L325.9 128.7 L325.4 128.5 L324.9 128.3 L324.4 128 L323.9 127.8 L323.4 127.5 L322.9 127.2 L322.4 126.7 L321.5 127 L319.2 122.7 L317.5 128 L316.4 131.7 L314.4 140.3 L313 133.4 L312.2 128 L311.3 126.5 L309.5 124.8 L307.8 118 L307.2 121 L306.1 126.5 L304.4 124 L303 126.5 L301 121.4 L298.4 115.4 L294.1 111.1 L288.9 108.5 L282.1 108 L275.2 108 L268.3 108 L261.4 107.2 Z" fill="#7689f8"/><path d="M322.4 77.9 L324.9 85.3 L327.3 67.3 Z" fill="url(#ggu)"/><path d="M327.3 67.3 L329.8 85.6 L332.3 59.9 Z" fill="url(#ggu)"/><path d="M332.3 59.9 L334.9 84.3 L337.4 55.2 Z" fill="url(#ggu)"/><path d="M337.4 55.2 L339.8 84.3 L342.2 47.7 Z" fill="url(#ggu)"/><path d="M342.2 47.7 L344.6 85.1 L347 42.1 Z" fill="url(#ggu)"/><path d="M347 42.1 L349.4 86 L351.8 40 Z" fill="url(#ggu)"/><path d="M351.8 40 L353.8 87.6 L355.8 37.9 Z" fill="url(#ggu)"/><path d="M355.8 37.9 L357.8 88.3 L359.8 35.7 Z" fill="url(#ggu)"/><path d="M359.8 35.7 L361.8 88.3 L363.8 35.6 Z" fill="url(#ggu)"/><path d="M363.8 35.6 L365.8 88.2 L367.8 35.6 Z" fill="url(#ggu)"/><path d="M367.8 35.6 L369.8 88.1 L371.8 34.7 Z" fill="url(#ggu)"/><path d="M371.8 34.7 L373.9 87.9 L375.9 35.6 Z" fill="url(#ggu)"/><path d="M375.9 35.6 L377.9 87.8 L380 38.7 Z" fill="url(#ggu)"/><path d="M380 38.7 L382.1 87.8 L384.1 42.7 Z" fill="url(#ggu)"/><path d="M384.1 42.7 L386.2 87.7 L388.3 46 Z" fill="url(#ggu)"/><path d="M388.3 46 L390.6 87.7 L392.8 49.1 Z" fill="url(#ggu)"/><path d="M392.8 49.1 L395.1 87.7 L397.5 52.2 Z" fill="url(#ggu)"/><path d="M397.5 52.2 L400.1 87.7 L402.6 57.5 Z" fill="url(#ggu)"/><path d="M402.6 57.5 L405.5 88 L408.4 64.4 Z" fill="url(#ggu)"/><path d="M408.4 64.4 L411.5 89.1 L414.6 73 Z" fill="url(#ggu)"/><path d="M414.6 73 L418.1 91.3 L421.5 81.5 Z" fill="url(#ggu)"/><path d="M421.5 81.5 L425.1 96 L428.8 91 Z" fill="url(#ggu)"/><path d="M428.8 91 L431.8 101.2 L434.7 98 Z" fill="url(#ggu)"/><path d="M319.9 92.5 L320.2 90.8 L320.5 89.7 L320.8 88.4 L321.1 87 L321.4 85.6 L321.6 83.5 L321.7 81.8 L321.9 80.4 L322.1 79.3 L322.2 78.5 L322.4 77.9 L322.6 78.2 L322.7 78.6 L322.9 79.2 L323.1 79.9 L323.2 80.7 L323.4 81.8 L323.7 82.5 L324 83.2 L324.3 83.9 L324.6 84.4 L324.9 85.6 Z" fill="url(#gu)"/><path d="M324.9 85.6 L325.1 83.6 L325.4 82.2 L325.7 80.6 L326 78.8 L326.3 77 L326.5 74.4 L326.6 72.3 L326.8 70.5 L327 69.1 L327.1 68 L327.3 67.3 L327.5 68 L327.6 69.1 L327.8 70.5 L328 72.3 L328.1 74.5 L328.3 77.2 L328.6 79 L328.9 80.8 L329.2 82.4 L329.5 83.9 L329.8 85.9 Z" fill="url(#gu)"/><path d="M329.8 85.9 L330.1 83.3 L330.4 81.2 L330.7 79 L331 76.4 L331.3 73.9 L331.5 70.1 L331.6 67 L331.8 64.5 L332 62.4 L332.1 60.9 L332.3 59.9 L332.5 60.9 L332.6 62.3 L332.8 64.2 L333 66.7 L333.1 69.5 L333.3 73.2 L333.6 75.6 L333.9 78 L334.3 80.2 L334.5 82.1 L334.9 84.6 Z" fill="url(#gu)"/><path d="M334.9 84.6 L335.2 81.7 L335.5 79.4 L335.8 76.8 L336.1 73.9 L336.4 71 L336.6 66.7 L336.7 63.2 L336.9 60.3 L337.1 58 L337.2 56.3 L337.4 55.2 L337.6 56.3 L337.7 58 L337.9 60.3 L338.1 63.2 L338.2 66.7 L338.3 71 L338.6 73.9 L338.9 76.8 L339.2 79.4 L339.5 81.7 L339.8 84.6 Z" fill="url(#gu)"/><path d="M339.8 84.6 L340.1 81.1 L340.4 78.2 L340.7 74.9 L341 71.3 L341.3 67.7 L341.4 62.2 L341.5 57.9 L341.7 54.2 L341.9 51.3 L342 49.2 L342.2 47.7 L342.4 49.2 L342.5 51.4 L342.7 54.4 L342.9 58.1 L343 62.5 L343.1 68.1 L343.4 71.8 L343.7 75.5 L344 78.9 L344.3 81.8 L344.6 85.4 Z" fill="url(#gu)"/><path d="M344.6 85.4 L344.9 81.4 L345.2 78 L345.5 74.1 L345.8 69.8 L346.1 65.6 L346.2 59.2 L346.3 54 L346.5 49.8 L346.7 46.3 L346.8 43.8 L347 42.1 L347.2 43.8 L347.3 46.4 L347.5 49.9 L347.7 54.3 L347.8 59.5 L347.9 66.1 L348.2 70.4 L348.5 74.8 L348.8 78.7 L349.1 82.2 L349.4 86.3 Z" fill="url(#gu)"/><path d="M349.4 86.3 L349.7 82 L350 78.4 L350.4 74.3 L350.7 69.7 L351 65.1 L351 58.3 L351.1 52.8 L351.3 48.2 L351.5 44.6 L351.6 41.8 L351.8 40 L352 41.9 L352.1 44.7 L352.3 48.5 L352.5 53.2 L352.6 58.9 L352.6 66 L352.7 70.8 L353 75.5 L353.3 79.8 L353.5 83.5 L353.8 87.9 Z" fill="url(#gu)"/><path d="M353.8 87.9 L354.1 83.4 L354.3 79.4 L354.6 75 L354.9 70 L355 65.1 L355 57.7 L355.1 51.7 L355.3 46.8 L355.5 42.8 L355.6 39.9 L355.8 37.9 L356 39.9 L356.1 42.9 L356.3 46.9 L356.5 51.9 L356.6 57.9 L356.6 65.5 L356.7 70.5 L357 75.5 L357.3 80 L357.5 84 L357.8 88.6 Z" fill="url(#gu)"/><path d="M357.8 88.6 L358.1 83.8 L358.3 79.6 L358.6 74.9 L358.9 69.7 L359 64.5 L359 56.6 L359.1 50.3 L359.3 45.1 L359.5 40.9 L359.6 37.8 L359.8 35.7 L360 37.8 L360.1 40.9 L360.3 45.1 L360.5 50.3 L360.6 56.6 L360.6 64.5 L360.7 69.7 L361 74.9 L361.3 79.6 L361.5 83.8 L361.8 88.6 Z" fill="url(#gu)"/><path d="M361.8 88.6 L362.1 83.8 L362.3 79.6 L362.6 74.9 L362.9 69.7 L363 64.4 L363 56.6 L363.1 50.3 L363.3 45 L363.5 40.8 L363.6 37.7 L363.8 35.6 L364 37.7 L364.1 40.8 L364.3 45 L364.5 50.3 L364.6 56.5 L364.6 64.4 L364.7 69.6 L365 74.9 L365.3 79.6 L365.5 83.8 L365.8 88.5 Z" fill="url(#gu)"/><path d="M365.8 88.5 L366.1 83.8 L366.3 79.6 L366.6 74.9 L366.9 69.6 L367 64.4 L367 56.5 L367.1 50.3 L367.3 45 L367.5 40.8 L367.6 37.7 L367.8 35.6 L368 37.7 L368.1 40.8 L368.3 45 L368.5 50.2 L368.6 56.5 L368.6 64.3 L368.7 69.5 L369 74.7 L369.3 79.4 L369.5 83.6 L369.8 88.4 Z" fill="url(#gu)"/><path d="M369.8 88.4 L370.1 83.5 L370.3 79.3 L370.6 74.5 L370.9 69.2 L371 63.9 L371 55.9 L371.1 49.6 L371.3 44.2 L371.5 40 L371.6 36.8 L371.8 34.7 L372 36.8 L372.1 40 L372.3 44.2 L372.5 49.5 L372.6 55.9 L372.6 63.8 L372.7 69.1 L373 74.4 L373.3 79.1 L373.6 83.4 L373.9 88.2 Z" fill="url(#gu)"/><path d="M373.9 88.2 L374.1 83.4 L374.4 79.3 L374.7 74.6 L375 69.4 L375.1 64.2 L375.1 56.4 L375.2 50.2 L375.4 45 L375.6 40.8 L375.7 37.7 L375.9 35.6 L376.1 37.7 L376.2 40.8 L376.4 44.9 L376.6 50.1 L376.7 56.4 L376.7 64.2 L376.8 69.4 L377.1 74.6 L377.4 79.2 L377.7 83.4 L377.9 88.1 Z" fill="url(#gu)"/><path d="M377.9 88.1 L378.2 83.6 L378.5 79.7 L378.8 75.3 L379.1 70.4 L379.2 65.6 L379.2 58.2 L379.3 52.4 L379.5 47.5 L379.7 43.6 L379.8 40.7 L380 38.7 L380.2 40.7 L380.3 43.6 L380.5 47.5 L380.7 52.4 L380.8 58.2 L380.8 65.5 L380.9 70.4 L381.2 75.3 L381.5 79.7 L381.8 83.6 L382.1 88.1 Z" fill="url(#gu)"/><path d="M382.1 88.1 L382.3 83.9 L382.6 80.3 L382.9 76.3 L383.2 71.8 L383.3 67.3 L383.3 60.6 L383.4 55.3 L383.6 50.8 L383.8 47.2 L383.9 44.5 L384.1 42.7 L384.3 44.5 L384.4 47.2 L384.6 50.8 L384.8 55.2 L384.9 60.6 L384.9 67.3 L385.1 71.8 L385.4 76.3 L385.6 80.3 L385.9 83.8 L386.2 88 Z" fill="url(#gu)"/><path d="M386.2 88 L386.5 84.1 L386.8 80.8 L387 77.1 L387.3 72.9 L387.5 68.8 L387.5 62.6 L387.6 57.6 L387.8 53.4 L388 50.1 L388.1 47.6 L388.3 46 L388.5 47.6 L388.6 50.1 L388.8 53.4 L389 57.6 L389.1 62.6 L389.1 68.8 L389.3 72.9 L389.6 77 L389.9 80.8 L390.2 84.1 L390.6 88 Z" fill="url(#gu)"/><path d="M390.6 88 L390.8 84.3 L391.1 81.3 L391.4 77.8 L391.7 74 L392 70.1 L392 64.4 L392.1 59.8 L392.3 56 L392.5 52.9 L392.6 50.6 L392.8 49.1 L393 50.6 L393.1 52.9 L393.3 56 L393.5 59.8 L393.6 64.4 L393.7 70.1 L393.9 74 L394.2 77.8 L394.5 81.3 L394.8 84.3 L395.1 88 Z" fill="url(#gu)"/><path d="M395.1 88 L395.4 84.6 L395.7 81.8 L396 78.6 L396.3 75.1 L396.6 71.6 L396.7 66.3 L396.8 62 L397 58.5 L397.2 55.7 L397.3 53.6 L397.5 52.2 L397.7 53.6 L397.8 55.7 L398 58.5 L398.2 62 L398.3 66.3 L398.5 71.6 L398.8 75.1 L399.1 78.6 L399.4 81.8 L399.7 84.6 L400.1 88 Z" fill="url(#gu)"/><path d="M400.1 88 L400.3 85 L400.6 82.6 L400.9 79.9 L401.3 76.9 L401.6 73.9 L401.8 69.5 L401.9 65.9 L402.1 62.9 L402.3 60.5 L402.4 58.7 L402.6 57.5 L402.8 58.7 L402.9 60.5 L403.1 62.9 L403.3 66 L403.4 69.6 L403.8 74.1 L404.1 77.1 L404.5 80.2 L404.8 82.9 L405.2 85.3 L405.5 88.3 Z" fill="url(#gu)"/><path d="M405.5 88.3 L405.8 85.8 L406.1 84 L406.4 81.9 L406.7 79.5 L407 77.2 L407.5 73.7 L407.7 70.9 L407.9 68.6 L408.1 66.7 L408.2 65.3 L408.4 64.4 L408.6 65.4 L408.7 66.8 L408.9 68.8 L409.1 71.2 L409.4 74.2 L409.9 77.8 L410.2 80.3 L410.6 82.7 L410.9 84.9 L411.2 86.8 L411.5 89.4 Z" fill="url(#gu)"/><path d="M411.5 89.4 L411.8 87.5 L412 86.3 L412.3 84.8 L412.7 83.3 L413 81.7 L413.5 79.3 L413.8 77.4 L414.1 75.8 L414.3 74.6 L414.4 73.6 L414.6 73 L414.8 73.7 L414.9 74.8 L415.1 76.2 L415.5 78 L415.9 80.2 L416.4 82.9 L416.7 84.7 L417.1 86.5 L417.4 88.1 L417.7 89.5 L418.1 91.6 Z" fill="url(#gu)"/><path d="M418.1 91.6 L418.4 90.2 L418.7 89.5 L419 88.6 L419.4 87.7 L419.7 86.7 L420.2 85.3 L420.6 84.2 L421 83.2 L421.2 82.4 L421.3 81.9 L421.5 81.5 L421.7 82.1 L421.8 82.9 L422.1 84 L422.4 85.5 L422.8 87.2 L423.4 89.3 L423.8 90.7 L424.2 92.1 L424.5 93.4 L424.8 94.5 L425.1 96.3 Z" fill="url(#gu)"/><path d="M425.1 96.3 L425.5 95.3 L425.8 94.9 L426.2 94.5 L426.6 94 L427 93.6 L427.6 92.9 L428 92.3 L428.3 91.8 L428.5 91.5 L428.6 91.2 L428.8 91 L429 91.4 L429.1 92 L429.3 92.8 L429.5 93.8 L429.8 95 L430.2 96.4 L430.6 97.4 L430.9 98.4 L431.2 99.3 L431.5 100.1 L431.8 101.5 Z" fill="url(#gu)"/><path d="M431.8 101.5 L432 100.7 L432.3 100.4 L432.6 100.2 L432.9 99.9 L433.3 99.6 L433.7 99.2 L434 98.8 L434.2 98.5 L434.4 98.3 L434.5 98.1 L434.7 98 L434.9 98.2 L435 98.4 L435.2 98.8 L435.4 99.2 L435.7 99.7 L436.1 100.4 L436.5 100.8 L436.8 101.2 L437.1 101.6 L437.4 102 L437.6 102.9 Z" fill="url(#gu)"/><path d="M324.9 139.2 L327.3 128.7 L329.8 146.6 Z" fill="url(#ggd)"/><path d="M329.8 146.6 L332.3 128.9 L334.9 153.1 Z" fill="url(#ggd)"/><path d="M334.9 153.1 L337.3 129.1 L339.8 158 Z" fill="url(#ggd)"/><path d="M339.8 158 L342.2 129.5 L344.6 162.1 Z" fill="url(#ggd)"/><path d="M344.6 162.1 L347 129.9 L349.4 165.6 Z" fill="url(#ggd)"/><path d="M349.4 165.6 L351.6 130.1 L353.8 168 Z" fill="url(#ggd)"/><path d="M353.8 168 L355.8 130.2 L357.8 170.1 Z" fill="url(#ggd)"/><path d="M357.8 170.1 L359.8 130.3 L361.8 171.2 Z" fill="url(#ggd)"/><path d="M361.8 171.2 L363.8 130.3 L365.8 171.7 Z" fill="url(#ggd)"/><path d="M365.8 171.7 L367.8 130.3 L369.8 171.8 Z" fill="url(#ggd)"/><path d="M369.8 171.8 L371.8 130.3 L373.9 171.8 Z" fill="url(#ggd)"/><path d="M373.9 171.8 L375.9 130.3 L377.9 171 Z" fill="url(#ggd)"/><path d="M377.9 171 L380 130.3 L382.1 167.4 Z" fill="url(#ggd)"/><path d="M382.1 167.4 L384.1 130.3 L386.2 164.3 Z" fill="url(#ggd)"/><path d="M386.2 164.3 L388.4 130.3 L390.6 160.9 Z" fill="url(#ggd)"/><path d="M390.6 160.9 L392.9 130.3 L395.1 156.7 Z" fill="url(#ggd)"/><path d="M395.1 156.7 L397.6 130 L400.1 152.3 Z" fill="url(#ggd)"/><path d="M400.1 152.3 L402.8 128.8 L405.5 146.5 Z" fill="url(#ggd)"/><path d="M405.5 146.5 L408.5 126.2 L411.5 140.5 Z" fill="url(#ggd)"/><path d="M411.5 140.5 L414.8 124.6 L418.1 135.5 Z" fill="url(#ggd)"/><path d="M418.1 135.5 L421.6 121.6 L425.1 131.8 Z" fill="url(#ggd)"/><path d="M425.1 131.8 L428.4 117 L431.8 131 Z" fill="url(#ggd)"/><path d="M322.4 126.1 L322.7 127.7 L323 128.7 L323.3 129.8 L323.6 131.1 L323.9 132.3 L324.1 134.2 L324.2 135.7 L324.3 136.9 L324.5 137.9 L324.7 138.7 L324.9 139.2 L325 138.7 L325.2 138.1 L325.4 137.3 L325.5 136.3 L325.6 135.1 L325.8 133.6 L326.1 132.5 L326.4 131.5 L326.7 130.6 L327 129.8 L327.3 128.4 Z" fill="url(#gd)"/><path d="M327.3 128.4 L327.6 130.4 L327.9 131.8 L328.2 133.4 L328.5 135.1 L328.8 136.9 L329 139.5 L329.1 141.6 L329.3 143.4 L329.5 144.8 L329.6 145.9 L329.8 146.6 L330 145.9 L330.1 144.8 L330.3 143.4 L330.5 141.7 L330.6 139.6 L330.8 137 L331.1 135.3 L331.4 133.5 L331.7 132 L332 130.6 L332.3 128.6 Z" fill="url(#gd)"/><path d="M332.3 128.6 L332.6 131.1 L332.9 133 L333.2 135.2 L333.5 137.6 L333.8 140 L334.1 143.5 L334.2 146.4 L334.3 148.8 L334.5 150.7 L334.7 152.2 L334.9 153.1 L335 152.2 L335.2 150.7 L335.4 148.8 L335.5 146.5 L335.6 143.6 L335.8 140.1 L336.1 137.7 L336.4 135.3 L336.7 133.2 L337 131.3 L337.3 128.8 Z" fill="url(#gd)"/><path d="M337.3 128.8 L337.6 131.7 L337.9 134 L338.2 136.5 L338.6 139.4 L338.8 142.3 L339 146.6 L339.1 150 L339.3 152.9 L339.5 155.2 L339.6 156.9 L339.8 158 L340 156.9 L340.1 155.2 L340.3 152.9 L340.5 150.1 L340.6 146.7 L340.7 142.5 L341 139.7 L341.3 136.9 L341.6 134.4 L341.9 132.1 L342.2 129.2 Z" fill="url(#gd)"/><path d="M342.2 129.2 L342.5 132.4 L342.8 135 L343.1 137.9 L343.4 141.1 L343.7 144.4 L343.8 149.2 L343.9 153.1 L344.1 156.3 L344.3 158.9 L344.4 160.8 L344.6 162.1 L344.8 160.8 L344.9 158.9 L345.1 156.3 L345.3 153.2 L345.4 149.3 L345.5 144.5 L345.8 141.3 L346.1 138.1 L346.4 135.3 L346.7 132.7 L347 129.6 Z" fill="url(#gd)"/><path d="M347 129.6 L347.3 133 L347.6 135.8 L347.9 139 L348.3 142.6 L348.5 146.1 L348.6 151.4 L348.7 155.7 L348.9 159.2 L349.1 162 L349.2 164.2 L349.4 165.6 L349.6 164.2 L349.7 162.1 L349.9 159.2 L350.1 155.7 L350.2 151.5 L350.2 146.2 L350.4 142.7 L350.7 139.2 L351 136 L351.3 133.2 L351.6 129.8 Z" fill="url(#gd)"/><path d="M351.6 129.8 L351.9 133.4 L352.2 136.4 L352.5 139.8 L352.8 143.5 L353 147.3 L353 153 L353.1 157.5 L353.3 161.2 L353.5 164.2 L353.6 166.5 L353.8 168 L354 166.5 L354.1 164.3 L354.3 161.3 L354.5 157.5 L354.6 153 L354.6 147.4 L354.7 143.6 L355 139.9 L355.3 136.5 L355.5 133.5 L355.8 129.9 Z" fill="url(#gd)"/><path d="M355.8 129.9 L356.1 133.7 L356.3 136.8 L356.6 140.4 L356.9 144.4 L357 148.3 L357 154.3 L357.1 159 L357.3 163 L357.5 166.1 L357.6 168.5 L357.8 170.1 L358 168.5 L358.1 166.2 L358.3 163 L358.5 159 L358.6 154.3 L358.6 148.4 L358.7 144.4 L359 140.5 L359.3 136.9 L359.5 133.8 L359.8 130 Z" fill="url(#gd)"/><path d="M359.8 130 L360.1 133.8 L360.3 137.1 L360.6 140.7 L360.9 144.8 L361 148.9 L361 155 L361.1 159.8 L361.3 163.9 L361.5 167.1 L361.6 169.6 L361.8 171.2 L362 169.6 L362.1 167.1 L362.3 163.9 L362.5 159.8 L362.6 155 L362.6 148.9 L362.7 144.8 L363 140.7 L363.3 137.1 L363.5 133.8 L363.8 130 Z" fill="url(#gd)"/><path d="M363.8 130 L364.1 133.9 L364.3 137.2 L364.6 140.9 L364.9 145 L365 149.1 L365 155.2 L365.1 160.2 L365.3 164.3 L365.5 167.6 L365.6 170 L365.8 171.7 L366 170 L366.1 167.6 L366.3 164.3 L366.5 160.2 L366.6 155.2 L366.6 149.1 L366.7 145 L367 140.9 L367.3 137.2 L367.5 133.9 L367.8 130 Z" fill="url(#gd)"/><path d="M367.8 130 L368.1 133.9 L368.3 137.2 L368.6 140.9 L368.9 145 L369 149.1 L369 155.3 L369.1 160.3 L369.3 164.4 L369.5 167.7 L369.6 170.2 L369.8 171.8 L370 170.2 L370.1 167.7 L370.3 164.4 L370.5 160.3 L370.6 155.3 L370.6 149.1 L370.7 145 L371 140.9 L371.3 137.2 L371.5 133.9 L371.8 130 Z" fill="url(#gd)"/><path d="M371.8 130 L372.1 133.9 L372.4 137.2 L372.6 140.9 L372.9 145 L373 149.1 L373.1 155.3 L373.2 160.3 L373.3 164.4 L373.5 167.7 L373.7 170.2 L373.9 171.8 L374 170.2 L374.2 167.7 L374.4 164.4 L374.5 160.3 L374.6 155.3 L374.7 149.1 L374.8 145 L375.1 140.9 L375.3 137.2 L375.6 133.9 L375.9 130 Z" fill="url(#gd)"/><path d="M375.9 130 L376.2 133.8 L376.5 137.1 L376.7 140.7 L377 144.7 L377.1 148.8 L377.2 154.8 L377.3 159.7 L377.4 163.7 L377.6 167 L377.8 169.4 L377.9 171 L378.1 169.4 L378.3 167 L378.5 163.7 L378.6 159.7 L378.7 154.8 L378.8 148.8 L378.9 144.7 L379.2 140.7 L379.4 137.1 L379.7 133.8 L380 130 Z" fill="url(#gd)"/><path d="M380 130 L380.3 133.5 L380.6 136.5 L380.8 139.8 L381.1 143.5 L381.2 147.2 L381.3 152.7 L381.4 157.1 L381.5 160.8 L381.7 163.8 L381.9 166 L382.1 167.4 L382.2 166 L382.4 163.8 L382.6 160.8 L382.7 157.1 L382.8 152.7 L382.9 147.2 L383 143.5 L383.3 139.8 L383.6 136.5 L383.8 133.5 L384.1 130 Z" fill="url(#gd)"/><path d="M384.1 130 L384.4 133.3 L384.7 136 L385 139 L385.2 142.4 L385.4 145.8 L385.4 150.8 L385.5 154.9 L385.7 158.3 L385.9 161 L386 163 L386.2 164.3 L386.4 163 L386.5 161 L386.7 158.3 L386.9 154.9 L387 150.8 L387 145.8 L387.2 142.4 L387.5 139 L387.8 136 L388.1 133.3 L388.4 130 Z" fill="url(#gd)"/><path d="M388.4 130 L388.7 133 L388.9 135.4 L389.2 138.2 L389.5 141.2 L389.7 144.2 L389.8 148.8 L389.9 152.4 L390 155.4 L390.2 157.8 L390.4 159.6 L390.6 160.9 L390.7 159.6 L390.9 157.8 L391.1 155.4 L391.2 152.4 L391.3 148.7 L391.4 144.2 L391.6 141.2 L391.9 138.1 L392.2 135.4 L392.5 133 L392.9 130 Z" fill="url(#gd)"/><path d="M392.9 130 L393.1 132.7 L393.4 134.8 L393.7 137.1 L394 139.7 L394.3 142.3 L394.4 146.3 L394.5 149.4 L394.6 152 L394.8 154.1 L395 155.7 L395.1 156.7 L395.3 155.7 L395.5 154.1 L395.7 152 L395.8 149.3 L395.9 146.1 L396.1 142.2 L396.3 139.5 L396.7 136.9 L397 134.5 L397.3 132.4 L397.6 129.7 Z" fill="url(#gd)"/><path d="M397.6 129.7 L397.9 132 L398.2 133.8 L398.5 135.8 L398.8 138 L399.1 140.2 L399.3 143.5 L399.4 146.1 L399.5 148.3 L399.7 150.1 L399.9 151.4 L400.1 152.3 L400.2 151.3 L400.4 150 L400.6 148.1 L400.7 145.8 L400.8 143 L401.1 139.5 L401.4 137.2 L401.8 134.9 L402.1 132.8 L402.4 130.9 L402.8 128.5 Z" fill="url(#gd)"/><path d="M402.8 128.5 L403.1 130.5 L403.4 131.8 L403.7 133.4 L404 135.2 L404.3 136.9 L404.7 139.5 L404.8 141.6 L405 143.4 L405.2 144.8 L405.3 145.8 L405.5 146.5 L405.7 145.7 L405.8 144.5 L406 142.9 L406.2 140.9 L406.4 138.5 L406.8 135.5 L407.2 133.5 L407.5 131.5 L407.9 129.7 L408.2 128.1 L408.5 125.9 Z" fill="url(#gd)"/><path d="M408.5 125.9 L408.8 127.6 L409.1 128.7 L409.4 130 L409.7 131.4 L410 132.8 L410.5 134.9 L410.8 136.6 L411 138 L411.2 139.1 L411.3 139.9 L411.5 140.5 L411.7 139.9 L411.8 138.9 L412 137.7 L412.2 136.1 L412.6 134.3 L413.1 131.9 L413.5 130.4 L413.8 128.8 L414.2 127.4 L414.5 126.2 L414.8 124.3 Z" fill="url(#gd)"/><path d="M414.8 124.3 L415.1 125.8 L415.3 126.6 L415.7 127.6 L416 128.6 L416.4 129.7 L416.9 131.3 L417.2 132.5 L417.5 133.6 L417.7 134.4 L417.9 135 L418.1 135.5 L418.2 134.9 L418.4 134.1 L418.6 133 L418.9 131.7 L419.3 130.1 L419.9 128 L420.3 126.7 L420.6 125.3 L421 124.1 L421.3 123 L421.6 121.3 Z" fill="url(#gd)"/><path d="M421.6 121.3 L421.9 122.7 L422.2 123.5 L422.6 124.4 L422.9 125.4 L423.3 126.4 L423.9 127.9 L424.3 129 L424.6 130 L424.8 130.8 L425 131.4 L425.1 131.8 L425.3 131.2 L425.5 130.4 L425.7 129.2 L426 127.7 L426.4 126 L426.9 123.8 L427.2 122.4 L427.6 120.9 L427.9 119.6 L428.2 118.4 L428.4 116.7 Z" fill="url(#gd)"/><path d="M428.4 116.7 L428.7 118.4 L429 119.5 L429.3 120.7 L429.7 122.1 L430 123.5 L430.5 125.5 L430.9 127.2 L431.2 128.5 L431.4 129.6 L431.6 130.5 L431.8 131 L431.9 130.3 L432.1 129.2 L432.3 127.8 L432.6 126 L433 123.9 L433.5 121.2 L433.8 119.4 L434.2 117.7 L434.5 116.1 L434.8 114.6 L435.1 112.6 Z" fill="url(#gd)"/></g>
<rect x="42.8" y="96" width="32.6" height="22" fill="#fff" fill-opacity="0.2"/>
<line x1="92.4" y1="90" x2="92.4" y2="124" stroke="#6a7cec" stroke-width="0.7"/>
<line x1="140.3" y1="73.35934068698351" x2="140.3" y2="136.83397688253862" stroke="#6a7cec" stroke-width="0.7"/>
<line x1="188.3" y1="82.17935143958562" x2="188.3" y2="129.79016715097347" stroke="#6a7cec" stroke-width="0.7"/>
<line x1="326.6" y1="85.10397240675188" x2="326.6" y2="128.86079486265692" stroke="#6a7cec" stroke-width="0.7"/>
<line x1="374.6" y1="87.59274040788208" x2="374.6" y2="130.6" stroke="#6a7cec" stroke-width="0.7"/>
<line x1="421" y1="92.66509348346837" x2="421" y2="122.32539224997072" stroke="#6a7cec" stroke-width="0.7"/>
<path d="M42 360.9 L42.2 360.9 L42.5 360.9 L42.8 360.9 L43 360.9 L43.2 360.9 L43.5 360.9 L43.8 360.9 L44 360.9 L44.2 360.9 L44.5 360.9 L44.8 360.9 L45 360.9 L45.2 360.8 L45.5 360.8 L45.8 360.8 L46 360.8 L46.2 360.8 L46.5 360.8 L46.8 360.8 L47 360.8 L47.2 360.7 L47.5 360.7 L47.8 360.7 L48 360.7 L48.2 360.7 L48.5 360.6 L48.8 360.5 L49 360.4 L49.2 360.3 L49.5 360.1 L49.8 359.9 L50 359.7 L50.2 359.5 L50.5 359.3 L50.8 359 L51 358.8 L51.2 358.5 L51.5 358.1 L51.8 357.7 L52 357.1 L52.2 356.6 L52.5 356 L52.8 355.4 L53 354.7 L53.2 354.1 L53.5 353.5 L53.8 352.9 L54 352.3 L54.2 351.7 L54.5 351.1 L54.8 350.5 L55 349.9 L55.2 349.2 L55.5 348.5 L55.8 347.7 L56 346.9 L56.2 345.9 L56.5 345 L56.8 343.9 L57 342.7 L57.2 341.5 L57.5 340.2 L57.8 338.8 L58 337.3 L58.2 335.9 L58.5 334.3 L58.8 332.7 L59 331.1 L59.2 329.3 L59.5 327.3 L59.8 325.1 L60 322.8 L60.2 320.6 L60.5 318.5 L60.8 316.7 L61 314.9 L61.2 313.2 L61.5 311.7 L61.8 310.3 L62 309.2 L62.2 308.3 L62.5 307.5 L62.8 306.7 L63 306 L63.2 305.4 L63.5 304.9 L63.8 304.5 L64 304.3 L64.2 304.2 L64.5 304.3 L64.8 304.6 L65 304.9 L65.2 305.3 L65.5 305.8 L65.8 306.3 L66 307.1 L66.2 308.1 L66.5 309.2 L66.8 310.3 L67 311.5 L67.2 312.6 L67.5 313.5 L67.8 314.3 L68 315.1 L68.2 315.9 L68.5 316.7 L68.8 317.4 L69 318.1 L69.2 318.8 L69.5 319.5 L69.8 320.2 L70 320.9 L70.2 321.6 L70.5 322.3 L70.8 323 L71 323.8 L71.2 324.6 L71.5 325.5 L71.8 326.5 L72 327.5 L72.2 328.7 L72.5 329.7 L72.8 330.8 L73 331.7 L73.2 332.5 L73.5 333 L73.8 333.3 L74 333.4 L74.2 333.3 L74.5 333.2 L74.8 333 L75 332.7 L75.2 332.4 L75.5 331.9 L75.8 331.1 L76 330.1 L76.2 328.9 L76.5 327.7 L76.8 326.4 L77 325 L77.2 323.5 L77.5 321.8 L77.8 319.9 L78 318 L78.2 316 L78.5 313.9 L78.8 311.7 L79 309.5 L79.2 307.2 L79.5 304.7 L79.8 302 L80 299.2 L80.2 296.6 L80.5 294.2 L80.8 291.8 L81 289.6 L81.2 287.4 L82.3 280.1 L82.4 280.4 L82.5 280.7 L82.6 281.2 L82.7 281.7 L82.8 282.4 L82.9 283.2 L83 284.1 L83.1 285.1 L83.2 286.2 L83.3 287.4 L83.4 288.7 L83.5 290.1 L83.6 291.7 L83.7 293.3 L83.8 295 L83.9 296.8 L84 298.7 L84.1 300.6 L84.2 302.7 L84.3 304.8 L84.4 306.9 L84.5 309.1 L84.6 311.4 L84.7 313.7 L84.8 316.1 L84.9 318.4 L85 320.8 L85.1 323.2 L85.2 325.6 L85.3 328 L85.4 330.4 L85.5 332.8 L85.6 335.1 L85.7 337.4 L85.8 339.6 L85.9 341.7 L86 343.8 L86.1 345.8 L86.2 347.7 L86.3 349.6 L86.4 351.3 L86.5 352.9 L86.6 354.3 L86.7 355.7 L86.8 356.9 L86.9 357.9 L87 358.8 L87.1 359.6 L87.2 360.2 L87.3 360.6 L87.4 360.8 L87.5 360.9 L87.6 360.8 L87.7 360.5 L87.8 360.1 L87.9 359.4 L88 358.6 L88.1 357.6 L88.2 356.4 L88.3 355.1 L88.4 353.6 L88.5 351.9 L88.6 350.1 L88.7 348.1 L88.8 346 L88.9 343.8 L89 341.4 L89.1 338.9 L89.2 336.4 L89.3 333.7 L89.4 330.9 L89.5 328.1 L89.6 325.2 L89.7 322.3 L89.8 319.4 L89.9 316.4 L90 313.5 L90.1 310.5 L90.2 307.6 L90.3 304.8 L90.4 301.9 L90.5 299.2 L90.6 296.6 L90.7 294.1 L90.8 291.6 L90.9 289.4 L91 287.2 L91.1 285.2 L91.2 283.4 L91.3 281.8 L91.4 280.3 L91.5 279.1 L91.6 278 L91.7 277.2 L91.8 276.6 L91.9 276.2 L92 276 L92.1 276.1 L92.2 276.3 L92.3 276.9 L92.4 277.6 L92.5 278.6 L92.6 279.8 L92.7 281.3 L92.8 283 L92.9 284.9 L93 287 L93.1 289.4 L93.2 291.9 L93.3 294.6 L93.4 297.5 L93.5 300.5 L93.6 303.7 L93.7 306.9 L93.8 310.3 L93.9 313.8 L94 317.3 L94.1 320.8 L94.2 324.3 L94.3 327.8 L94.4 331.3 L94.5 334.7 L94.6 337.9 L94.7 341.1 L94.8 344.1 L94.9 346.9 L95 349.5 L95.1 351.9 L95.2 354.1 L95.3 355.9 L95.4 357.5 L95.5 358.9 L95.6 359.8 L95.7 360.5 L95.8 360.9 L95.9 360.9 L96 360.5 L96.1 359.8 L96.2 358.8 L96.3 357.5 L96.4 355.8 L96.5 353.8 L96.6 351.5 L96.7 348.9 L96.8 346.1 L96.9 343 L97 339.7 L97.1 336.2 L97.2 332.6 L97.3 328.8 L97.4 324.9 L97.5 320.9 L97.6 316.9 L97.7 312.8 L97.8 308.8 L97.9 304.9 L98 301 L98.1 297.3 L98.2 293.7 L98.3 290.3 L98.4 287.1 L98.5 284.1 L98.6 281.4 L98.7 279 L98.8 276.9 L98.9 275.1 L99 273.7 L99.1 272.6 L99.2 271.8 L99.3 271.4 L99.4 271.4 L99.5 271.7 L99.6 272.4 L99.7 273.4 L99.8 274.8 L99.9 276.5 L100 278.5 L100.1 280.9 L100.2 283.5 L100.3 286.4 L100.4 289.5 L100.5 292.8 L100.6 296.4 L100.7 300.1 L100.8 303.9 L100.9 307.9 L101 311.9 L101.1 316 L101.2 320 L101.3 324.1 L101.4 328 L101.5 331.9 L101.6 335.7 L101.7 339.3 L101.8 342.7 L101.9 345.9 L102 348.8 L102.1 351.5 L102.2 353.9 L102.3 355.9 L102.4 357.6 L102.5 359 L102.6 360 L102.7 360.6 L102.8 360.9 L102.9 360.8 L103 360.2 L103.1 359.3 L103.2 358 L103.3 356.4 L103.4 354.3 L103.5 352 L103.6 349.3 L103.7 346.3 L103.8 343 L103.9 339.5 L104 335.7 L104.1 331.8 L104.2 327.7 L104.3 323.4 L104.4 319.1 L104.5 314.8 L104.6 310.4 L104.7 306.1 L104.8 301.8 L104.9 297.6 L105 293.6 L105.1 289.8 L105.2 286.2 L105.3 282.8 L105.4 279.7 L105.5 276.9 L105.6 274.5 L105.7 272.4 L105.8 270.7 L105.9 269.4 L106 268.6 L106.1 268.1 L106.2 268.1 L106.3 268.6 L106.4 269.4 L106.5 270.7 L106.6 272.5 L106.7 274.6 L106.8 277.1 L106.9 279.9 L107 283.1 L107.1 286.6 L107.2 290.4 L107.3 294.3 L107.4 298.5 L107.5 302.9 L107.6 307.3 L107.7 311.9 L107.8 316.4 L107.9 321 L108 325.5 L108.1 329.9 L108.2 334.1 L108.3 338.2 L108.4 342 L108.5 345.6 L108.6 348.9 L108.7 351.8 L108.8 354.4 L108.9 356.6 L109 358.3 L109.1 359.6 L109.2 360.5 L109.3 360.9 L109.4 360.8 L109.5 360.2 L109.6 359.2 L109.7 357.6 L109.8 355.7 L109.9 353.2 L110 350.4 L110.1 347.1 L110.2 343.5 L110.3 339.6 L110.4 335.3 L110.5 330.8 L110.6 326.1 L110.7 321.3 L110.8 316.3 L110.9 311.3 L111 306.3 L111.1 301.4 L111.2 296.6 L111.3 291.9 L111.4 287.5 L111.5 283.4 L111.6 279.7 L111.7 276.3 L111.8 273.4 L111.9 271 L112 269.1 L112.1 267.7 L112.2 266.9 L112.3 266.7 L112.4 267.1 L112.5 268.2 L112.6 269.8 L112.7 272 L112.8 274.9 L112.9 278.3 L113 282.2 L113.1 286.6 L113.2 291.5 L113.3 296.7 L113.4 302.2 L113.5 307.9 L113.6 313.7 L113.7 319.5 L113.8 325.4 L113.9 331 L114 336.4 L114.1 341.5 L114.2 346.1 L114.3 350.2 L114.4 353.8 L114.5 356.7 L114.6 358.8 L114.7 360.2 L114.8 360.9 L114.9 360.7 L115 359.7 L115.1 357.9 L115.2 355.4 L115.3 352.1 L115.4 348.1 L115.5 343.5 L115.6 338.4 L115.7 332.9 L115.8 327 L115.9 320.9 L116 314.6 L116.1 308.4 L116.2 302.2 L116.3 296.2 L116.4 290.6 L116.5 285.3 L116.6 280.5 L116.7 276.4 L116.8 272.9 L116.9 270.1 L117 268 L117.1 266.7 L117.2 266.3 L117.3 266.6 L117.4 267.8 L117.5 269.7 L117.6 272.3 L117.7 275.6 L117.8 279.6 L117.9 284.1 L118 289.2 L118.1 294.6 L118.2 300.4 L118.3 306.4 L118.4 312.6 L118.5 318.7 L118.6 324.8 L118.7 330.7 L118.8 336.2 L118.9 341.4 L119 346.2 L119.1 350.4 L119.2 353.9 L119.3 356.8 L119.4 358.9 L119.5 360.3 L119.6 360.9 L119.7 360.6 L119.8 359.6 L119.9 357.8 L120 355.2 L120.1 351.9 L120.2 347.9 L120.3 343.3 L120.4 338.3 L120.5 332.8 L120.6 326.9 L120.7 320.9 L120.8 314.7 L120.9 308.5 L121 302.3 L121.1 296.4 L121.2 290.8 L121.3 285.5 L121.4 280.7 L121.5 276.5 L121.6 273 L121.7 270.1 L121.8 268 L121.9 266.7 L122 266.2 L122.1 266.5 L122.2 267.7 L122.3 269.6 L122.4 272.4 L122.5 275.8 L122.6 279.8 L122.7 284.5 L122.8 289.6 L122.9 295.2 L123 301 L123.1 307.1 L123.2 313.2 L123.3 319.4 L123.4 325.5 L123.5 331.3 L123.6 336.9 L123.7 342 L123.8 346.7 L123.9 350.8 L124 354.3 L124.1 357.1 L124.2 359.2 L124.3 360.4 L124.4 360.9 L124.5 360.5 L124.6 359.4 L124.7 357.4 L124.8 354.7 L124.9 351.2 L125 347.1 L125.1 342.4 L125.2 337.1 L125.3 331.4 L125.4 325.4 L125.5 319.1 L125.6 312.7 L125.7 306.4 L125.8 300.1 L125.9 294 L126 288.3 L126.1 283.1 L126.2 278.4 L126.3 274.3 L126.4 271 L126.5 268.5 L126.6 266.9 L126.7 266.2 L126.8 266.5 L126.9 267.7 L127 269.8 L127.1 272.9 L127.2 276.9 L127.3 281.7 L127.4 287.2 L127.5 293.4 L127.6 300.1 L127.7 307.1 L127.8 314.2 L127.9 321.4 L128 328.5 L128.1 335.2 L128.2 341.5 L128.3 347.1 L128.4 351.8 L128.5 355.7 L128.6 358.6 L128.7 360.3 L128.8 360.9 L128.9 360.3 L129 358.6 L129.1 355.7 L129.2 351.8 L129.3 347 L129.4 341.3 L129.5 335 L129.6 328.1 L129.7 320.9 L129.8 313.6 L129.9 306.2 L130 299.1 L130.1 292.3 L130.2 286.1 L130.3 280.5 L130.4 275.7 L130.5 271.8 L130.6 268.9 L130.7 267.1 L130.8 266.2 L130.9 266.5 L131 267.7 L131.1 269.9 L131.2 273 L131.3 276.9 L131.4 281.6 L131.5 286.9 L131.6 292.7 L131.7 298.9 L131.8 305.3 L131.9 311.9 L132 318.5 L132.1 325 L132.2 331.3 L132.3 337.1 L132.4 342.6 L132.5 347.4 L132.6 351.6 L132.7 355.1 L132.8 357.8 L132.9 359.7 L133 360.7 L133.1 360.8 L133.2 360.1 L133.3 358.5 L133.4 356.1 L133.5 352.8 L133.6 348.9 L133.7 344.2 L133.8 339 L133.9 333.4 L134 327.3 L134.1 320.9 L134.2 314.4 L134.3 307.9 L134.4 301.5 L134.5 295.2 L134.6 289.3 L134.7 283.9 L134.8 279 L134.9 274.8 L135 271.3 L135.1 268.7 L135.2 267 L135.3 266.2 L135.4 266.5 L135.5 267.7 L135.6 269.9 L135.7 273.1 L135.8 277.1 L135.9 282 L136 287.5 L136.1 293.7 L136.2 300.4 L136.3 307.3 L136.4 314.4 L136.5 321.5 L136.6 328.5 L136.7 335.1 L136.8 341.2 L136.9 346.8 L137 351.5 L137.1 355.4 L137.2 358.3 L137.3 360.1 L137.4 360.9 L137.5 360.5 L137.6 359 L137.7 356.4 L137.8 352.8 L137.9 348.3 L138 342.9 L138.1 336.8 L138.2 330.1 L138.3 323 L138.4 315.7 L138.5 308.4 L138.6 301.1 L138.7 294.2 L138.8 287.7 L138.9 281.9 L139 276.8 L139.1 272.6 L139.2 269.4 L139.3 267.3 L139.4 266.3 L139.5 266.4 L139.6 267.7 L139.7 270.1 L139.8 273.5 L139.9 277.9 L140 283.2 L140.1 289.2 L140.2 295.9 L140.3 303 L140.4 310.3 L140.5 317.8 L140.6 325.2 L140.7 332.2 L140.8 338.9 L140.9 344.8 L141 350.1 L141.1 354.4 L141.2 357.6 L141.3 359.8 L141.4 360.8 L141.5 360.7 L141.6 359.3 L141.7 356.8 L141.8 353.2 L141.9 348.6 L142 343.2 L142.1 337 L142.2 330.3 L142.3 323.1 L142.4 315.7 L142.5 308.3 L142.6 301 L142.7 294 L142.8 287.5 L142.9 281.7 L143 276.6 L143.1 272.5 L143.2 269.3 L143.3 267.2 L143.4 266.3 L143.5 266.4 L143.6 267.7 L143.7 270 L143.8 273.3 L143.9 277.6 L144 282.6 L144.1 288.4 L144.2 294.6 L144.3 301.3 L144.4 308.2 L144.5 315.2 L144.6 322.2 L144.7 329 L144.8 335.4 L144.9 341.3 L145 346.7 L145.1 351.3 L145.2 355 L145.3 357.9 L145.4 359.9 L145.5 360.8 L145.6 360.7 L145.7 359.6 L145.8 357.6 L145.9 354.5 L146 350.6 L146.1 345.9 L146.2 340.5 L146.3 334.4 L146.4 327.9 L146.5 321.1 L146.6 314.1 L146.7 307 L146.8 300.1 L146.9 293.4 L147 287.2 L147.1 281.6 L147.2 276.6 L147.3 272.6 L147.4 269.4 L147.5 267.3 L147.6 266.3 L147.7 266.4 L147.8 267.7 L147.9 270.1 L148 273.6 L148.1 278.2 L148.2 283.6 L148.3 289.9 L148.4 296.8 L148.5 304.1 L148.6 311.8 L148.7 319.5 L148.8 327.1 L148.9 334.3 L149 341 L149.1 347 L149.2 352.1 L149.3 356.1 L149.4 358.9 L149.5 360.6 L149.6 360.9 L149.7 359.8 L149.8 357.5 L149.9 354 L150 349.3 L150.1 343.6 L150.2 337 L150.3 329.8 L150.4 322.2 L150.5 314.3 L150.6 306.3 L150.7 298.6 L150.8 291.3 L150.9 284.7 L151 278.8 L151.1 273.9 L151.2 270.2 L151.3 267.6 L151.4 266.4 L151.5 266.4 L151.6 267.7 L151.7 270.3 L151.8 274 L151.9 278.9 L152 284.7 L152.1 291.3 L152.2 298.6 L152.3 306.3 L152.4 314.2 L152.5 322.1 L152.6 329.8 L152.7 337 L152.8 343.5 L152.9 349.2 L153 353.9 L153.1 357.5 L153.2 359.8 L153.3 360.9 L153.4 360.5 L153.5 358.9 L153.6 356 L153.7 352 L153.8 346.8 L153.9 340.8 L154 334 L154.1 326.7 L154.2 319 L154.3 311.3 L154.4 303.5 L154.5 296.1 L154.6 289.2 L154.7 283 L154.8 277.5 L154.9 273.1 L155 269.6 L155.1 267.4 L155.2 266.3 L155.3 266.4 L155.4 267.7 L155.5 270.1 L155.6 273.6 L155.7 278 L155.8 283.3 L155.9 289.3 L156 295.8 L156.1 302.8 L156.2 310 L156.3 317.3 L156.4 324.5 L156.5 331.4 L156.6 337.8 L156.7 343.7 L156.8 348.9 L156.9 353.3 L157 356.7 L157.1 359.1 L157.2 360.5 L157.3 360.9 L157.4 360.2 L157.5 358.4 L157.6 355.6 L157.7 352 L157.8 347.4 L157.9 342.2 L158 336.3 L158.1 330 L158.2 323.3 L158.3 316.4 L158.4 309.5 L158.5 302.6 L158.6 296 L158.7 289.8 L158.8 284.2 L158.9 279.1 L159 274.8 L159.1 271.3 L159.2 268.6 L159.3 267 L159.4 266.2 L159.5 266.5 L159.6 267.7 L159.7 269.8 L159.8 272.8 L159.9 276.7 L160 281.2 L160.1 286.3 L160.2 292 L160.3 298.1 L160.4 304.4 L160.5 310.9 L160.6 317.5 L160.7 323.9 L160.8 330.1 L160.9 336 L161 341.5 L161.1 346.4 L161.2 350.7 L161.3 354.4 L161.4 357.2 L161.5 359.3 L161.6 360.5 L161.7 360.9 L161.8 360.4 L161.9 359.1 L162 356.9 L162.1 354 L162.2 350.3 L162.3 346 L162.4 341 L162.5 335.6 L162.6 329.8 L162.7 323.7 L162.8 317.4 L162.9 311 L163 304.7 L163.1 298.5 L163.2 292.6 L163.3 287.1 L163.4 282 L163.5 277.5 L163.6 273.7 L163.7 270.6 L163.8 268.3 L163.9 266.8 L164 266.2 L164.1 266.5 L164.2 267.7 L164.3 269.7 L164.4 272.6 L164.5 276.3 L164.6 280.7 L164.7 285.7 L164.8 291.2 L164.9 297.2 L165 303.5 L165.1 309.9 L165.2 316.5 L165.3 323 L165.4 329.3 L165.5 335.3 L165.6 340.9 L165.7 346 L165.8 350.4 L165.9 354.2 L166 357.1 L166.1 359.3 L166.2 360.5 L166.3 360.9 L166.4 360.3 L166.5 358.9 L166.6 356.5 L166.7 353.3 L166.8 349.4 L166.9 344.7 L167 339.4 L167.1 333.7 L167.2 327.5 L167.3 321 L167.4 314.4 L167.5 307.8 L167.6 301.2 L167.7 294.9 L167.8 289 L167.9 283.6 L168 278.7 L168.1 274.5 L168.2 271.1 L168.3 268.6 L168.4 266.9 L168.5 266.2 L168.6 266.5 L168.7 267.7 L168.8 269.8 L168.9 272.9 L169 276.8 L169.1 281.5 L169.2 286.8 L169.3 292.7 L169.4 299.1 L169.5 305.8 L169.6 312.7 L169.7 319.6 L169.8 326.4 L169.9 332.9 L170 339 L170.1 344.6 L170.2 349.5 L170.3 353.6 L170.4 356.9 L170.5 359.2 L170.6 360.6 L170.7 360.9 L170.8 360.2 L170.9 358.4 L171 355.7 L171.1 352.1 L171.2 347.6 L171.3 342.4 L171.4 336.6 L171.5 330.2 L171.6 323.5 L171.7 316.7 L171.8 309.7 L171.9 302.8 L172 296.2 L172.1 290 L172.2 284.3 L172.3 279.2 L172.4 274.8 L172.5 271.3 L172.6 268.7 L172.7 267 L172.8 266.2 L172.9 266.5 L173 267.7 L173.1 269.8 L173.2 272.9 L173.3 276.7 L173.4 281.4 L173.5 286.7 L173.6 292.5 L173.7 298.8 L173.8 305.4 L173.9 312.1 L174 318.9 L174.1 325.6 L174.2 332 L174.3 338 L174.4 343.5 L174.5 348.5 L174.6 352.7 L174.7 356.1 L174.8 358.6 L174.9 360.2 L175 360.9 L175.1 360.6 L175.2 359.4 L175.3 357.2 L175.4 354.3 L175.5 350.5 L175.6 345.9 L175.7 340.8 L175.8 335.2 L175.9 329.1 L176 322.8 L176.1 316.3 L176.2 309.8 L176.3 303.3 L176.4 297.1 L176.5 291.2 L176.6 285.8 L176.7 280.9 L176.8 276.6 L176.9 272.9 L177 270.1 L177.1 268 L177.2 266.7 L177.3 266.2 L177.4 266.5 L177.5 267.7 L177.6 269.6 L177.7 272.2 L177.8 275.5 L177.9 279.4 L178 283.9 L178.1 288.8 L178.2 294 L178.3 299.6 L178.4 305.4 L178.5 311.2 L178.6 317.1 L178.7 322.9 L178.8 328.5 L178.9 333.9 L179 339 L179.1 343.7 L179.2 347.9 L179.3 351.6 L179.4 354.7 L179.5 357.3 L179.6 359.1 L179.7 360.3 L179.8 360.9 L179.9 360.7 L180 359.9 L180.1 358.4 L180.2 356.3 L180.3 353.6 L180.4 350.3 L180.5 346.6 L180.6 342.3 L180.7 337.7 L180.8 332.7 L180.9 327.5 L181 322.1 L181.1 316.5 L181.2 311 L181.3 305.4 L181.4 300 L181.5 294.8 L181.6 289.8 L181.7 285.2 L181.8 280.9 L181.9 277.1 L182 273.8 L182.1 271.1 L182.2 268.9 L182.3 267.4 L182.4 266.5 L182.5 266.2 L182.6 266.6 L182.7 267.7 L182.8 269.4 L182.9 271.7 L183 274.7 L183.1 278.2 L183.2 282.1 L183.3 286.6 L183.4 291.4 L183.5 296.5 L183.6 301.9 L183.7 307.4 L183.8 313 L183.9 318.6 L184 324.2 L184.1 329.6 L184.2 334.8 L184.3 339.6 L184.4 344.1 L184.5 348.2 L184.6 351.8 L184.7 354.8 L184.8 357.3 L184.9 359.1 L185 360.3 L185.1 360.9 L185.2 360.8 L185.3 360 L185.4 358.6 L185.5 356.6 L185.6 354 L185.7 350.8 L185.8 347.2 L185.9 343.1 L186 338.6 L186.1 333.7 L186.2 328.6 L186.3 323.4 L186.4 318 L186.5 312.5 L186.6 307.1 L186.7 301.8 L186.8 296.7 L186.9 291.8 L187 287.1 L187.1 282.9 L187.2 279 L187.3 275.6 L187.4 272.7 L187.5 270.4 L187.6 268.5 L187.7 267.2 L187.8 266.6 L187.9 266.4 L188 266.9 L188.1 267.9 L188.2 269.5 L188.3 271.6 L188.4 274.1 L188.5 277.2 L188.6 280.7 L188.7 284.5 L188.8 288.7 L188.9 293.2 L189 297.9 L189.1 302.8 L189.2 307.8 L189.3 312.9 L189.4 317.9 L189.5 322.9 L189.6 327.8 L189.7 332.5 L189.8 337 L189.9 341.3 L190 345.2 L190.1 348.7 L190.2 351.8 L190.3 354.6 L190.4 356.8 L190.5 358.6 L190.6 359.9 L190.7 360.6 L190.8 360.9 L190.9 360.6 L191 359.9 L191.1 358.6 L191.2 356.9 L191.3 354.7 L191.4 352.1 L191.5 349.1 L191.6 345.7 L191.7 342 L191.8 338 L191.9 333.8 L192 329.4 L192.1 324.8 L192.2 320.1 L192.3 315.4 L192.4 310.7 L192.5 306 L192.6 301.5 L192.7 297 L192.8 292.8 L192.9 288.7 L193 284.9 L193.1 281.4 L193.2 278.3 L193.3 275.4 L193.4 273 L193.5 270.9 L193.6 269.3 L193.7 268.1 L193.8 267.3 L193.9 266.9 L194 267 L194.1 267.5 L194.2 268.4 L194.3 269.7 L194.4 271.4 L194.5 273.5 L194.6 276 L194.7 278.7 L194.8 281.8 L194.9 285.1 L195 288.7 L195.1 292.5 L195.2 296.5 L195.3 300.7 L195.4 304.9 L195.5 309.2 L195.6 313.5 L195.7 317.9 L195.8 322.1 L195.9 326.3 L196 330.4 L196.1 334.4 L196.2 338.2 L196.3 341.7 L196.4 345 L196.5 348.1 L196.6 350.9 L196.7 353.3 L196.8 355.5 L196.9 357.3 L197 358.7 L197.1 359.8 L197.2 360.5 L197.3 360.9 L197.4 360.8 L197.5 360.5 L197.6 359.7 L197.7 358.6 L197.8 357.2 L197.9 355.4 L198 353.3 L198.1 350.9 L198.2 348.3 L198.3 345.4 L198.4 342.3 L198.5 339 L198.6 335.5 L198.7 331.8 L198.8 328.1 L198.9 324.3 L199 320.4 L199.1 316.4 L199.2 312.5 L199.3 308.6 L199.4 304.7 L199.5 301 L199.6 297.3 L199.7 293.7 L199.8 290.4 L199.9 287.1 L200 284.1 L200.1 281.3 L200.2 278.8 L200.3 276.4 L200.4 274.4 L200.5 272.6 L200.6 271 L200.7 269.8 L200.8 268.9 L200.9 268.2 L201 267.8 L201.1 267.8 L201.2 268 L201.3 268.5 L201.4 269.3 L201.5 270.3 L201.6 271.7 L201.7 273.2 L201.8 275.1 L201.9 277.1 L202 279.4 L202.1 281.9 L202.2 284.6 L202.3 287.4 L202.4 290.4 L202.5 293.6 L202.6 296.8 L202.7 300.2 L202.8 303.6 L202.9 307.1 L203 310.6 L203.1 314.2 L203.2 317.7 L203.3 321.2 L203.4 324.7 L203.5 328.1 L203.6 331.4 L203.7 334.6 L203.8 337.7 L203.9 340.7 L204 343.5 L204.1 346.1 L204.2 348.5 L204.3 350.8 L204.4 352.8 L204.5 354.7 L204.6 356.3 L204.7 357.6 L204.8 358.8 L204.9 359.7 L205 360.3 L205.1 360.7 L205.2 360.9 L205.3 360.8 L205.4 360.5 L205.5 359.9 L205.6 359.1 L205.7 358.1 L205.8 356.9 L205.9 355.4 L206 353.8 L206.1 352 L206.2 349.9 L206.3 347.8 L206.4 345.4 L206.5 342.9 L206.6 340.3 L206.7 337.6 L206.8 334.8 L206.9 331.9 L207 328.9 L207.1 325.9 L207.2 322.9 L207.3 319.8 L207.4 316.7 L207.5 313.6 L207.6 310.6 L207.7 307.5 L207.8 304.6 L207.9 301.7 L208 298.8 L208.1 296.1 L208.2 293.4 L208.3 290.8 L208.4 288.4 L208.5 286.1 L208.6 283.9 L208.7 281.9 L208.8 280 L208.9 278.2 L209 276.6 L209.1 275.2 L209.2 274 L209.3 272.9 L209.4 272 L209.5 271.2 L209.6 270.6 L209.7 270.2 L209.8 270 L209.9 269.9 L210 270 L210.1 270.2 L210.2 270.6 L210.3 271.2 L210.4 271.9 L210.5 272.7 L210.6 273.7 L210.7 274.8 L210.8 276.1 L210.9 277.5 L211 279 L211.1 280.6 L211.2 282.3 L211.3 284.2 L211.4 286.1 L211.5 288.2 L211.6 290.3 L211.7 292.5 L211.8 294.7 L211.9 297.1 L212 299.4 L212.1 301.9 L212.2 304.3 L212.3 306.8 L212.4 309.3 L212.5 311.8 L212.6 314.4 L212.7 316.9 L212.8 319.4 L212.9 321.9 L213 324.4 L213.1 326.8 L213.2 329.2 L213.3 331.6 L213.4 333.9 L213.5 336.1 L213.6 338.3 L213.7 340.4 L213.8 342.4 L213.9 344.3 L214 346.2 L214.1 347.9 L214.2 349.6 L214.3 351.1 L214.4 352.6 L214.5 353.9 L214.6 355.1 L214.7 356.2 L214.8 357.2 L214.9 358.1 L215 358.9 L215.1 359.5 L215.2 360 L215.3 360.4 L215.4 360.7 L215.5 360.9 L215.6 360.9 L215.7 360.8 L215.8 360.6 L215.9 360.3 L216 359.9 L216.1 359.3 L216.2 358.7 L216.3 358 L216.4 357.1 L216.5 356.2 L216.6 355.1 L216.7 354 L216.8 352.8 L216.9 351.5 L217 350.1 L217.1 348.6 L217.2 347.1 L217.3 345.5 L217.4 343.9 L217.5 342.2 L217.6 340.4 L217.7 338.6 L217.8 336.8 L217.9 334.9 L218 333 L218.1 331.1 L218.2 329.1 L218.3 327.2 L218.4 325.2 L218.5 323.2 L218.6 321.2 L218.7 319.3 L218.8 317.3 L218.9 315.3 L219 313.4 L219.1 311.5 L219.2 309.6 L219.3 307.7 L219.4 305.9 L219.5 304.1 L219.6 302.4 L219.7 300.6 L219.8 299 L219.9 297.4 L220 295.8 L220.1 294.3 L220.2 292.8 L220.3 291.4 L220.4 290.1 L220.5 288.8 L220.6 287.6 L220.7 286.4 L220.8 285.3 L220.9 284.3 L221 283.3 L221.1 282.5 L221.2 281.6 L221.3 280.9 L221.4 280.2 L221.5 279.6 L221.6 279.1 L221.7 278.6 L221.8 278.2 L221.9 277.8 L222 277.6 L222.1 277.4 L222.2 277.2 L222.3 277.2 L222.4 277.2 L222.5 277.2 L222.6 277.3 L222.7 277.5 L222.8 277.7 L222.9 278 L223 278.4 L223.1 278.8 L223.2 279.2 L223.3 279.7 L223.4 280.3 L223.5 280.9 L223.6 281.5 L223.7 282.2 L223.8 282.9 L223.9 283.7 L224 284.5 L224.1 285.3 L224.2 286.2 L224.3 287.1 L224.4 288 L224.5 288.9 L225 279.5 L225.2 280.6 L225.5 281.8 L225.8 282.9 L226 284.1 L226.2 285.3 L226.5 286.5 L226.8 287.7 L227 289 L227.2 290.3 L227.5 291.5 L227.8 292.8 L228 294.1 L228.2 295.5 L228.5 296.8 L228.8 298.2 L229 299.6 L229.2 301.1 L229.5 302.6 L229.8 304.1 L230 305.8 L230.2 307.5 L230.5 309.3 L230.8 311.2 L231 313.2 L231.2 315.1 L231.5 317.1 L231.8 319.1 L232 321.1 L232.2 323.1 L232.5 325 L232.8 326.9 L233 328.7 L233.2 330.5 L233.5 332.1 L233.8 333.9 L234 335.6 L234.2 337.3 L234.5 339.1 L234.8 340.8 L235 342.5 L235.2 344.1 L235.5 345.7 L235.8 347.2 L236 348.6 L236.2 349.8 L236.5 351 L236.8 352 L237 352.9 L237.2 353.7 L237.5 354.4 L237.8 355.2 L238 355.9 L238.2 356.6 L238.5 357.2 L238.8 357.7 L239 358.2 L239.2 358.7 L239.5 359 L239.8 359.3 L240 359.5 L240.2 359.6 L240.5 359.8 L240.8 359.9 L241 360 L241.2 360.1 L241.5 360.2 L241.8 360.3 L242 360.4 L242.2 360.5 L242.5 360.6 L242.8 360.6 L243 360.7 L243.2 360.7 L243.5 360.8 L243.8 360.8 L244 360.8 L244.2 360.8 L244.5 360.8 L244.8 360.8 L245 360.8 L245.2 360.8 L245.5 360.8 L245.8 360.8 L246 360.8 L246.2 360.8 L246.5 360.8 L246.8 360.8 L247 360.8 L247.2 360.9 L247.5 360.9 L247.8 360.9 L248 360.9 L248.2 360.9 L248.5 360.9 L248.8 360.9 L249 360.9 L249.2 360.9 L249.5 360.9 L249.8 360.9 L250 360.9 L250.2 360.9 L250.5 360.9 L250.8 360.9 L251 360.9 L251.2 360.9 L251.5 360.9 L251.8 360.9 L252 360.9 L252.2 360.9 L252.5 360.9 L252.8 360.9 L253 360.9 L253.2 360.9 L253.5 360.9 L253.8 360.9 L254 360.9 L254.2 360.9 L254.5 360.9 L254.8 360.9 L255 360.9 L255.2 360.9 L255.5 360.9" fill="none" stroke="#111" stroke-width="1.7" stroke-linejoin="round" clip-path="url(#cbl)"/>
<path d="M42 196.5 L42.2 196.5 L42.5 196.5 L42.8 196.5 L43 196.5 L43.2 196.5 L43.5 196.5 L43.8 196.5 L44 196.5 L44.2 196.5 L44.5 196.5 L44.8 196.5 L45 196.5 L45.2 196.5 L45.5 196.5 L45.8 196.5 L46 196.5 L46.2 196.5 L46.5 196.5 L46.8 196.5 L47 196.6 L47.2 196.6 L47.5 196.6 L47.8 196.7 L48 196.7 L48.2 196.8 L48.5 196.8 L48.8 196.9 L49 197 L49.2 197.1 L49.5 197.1 L49.8 197.2 L50 197.4 L50.2 197.6 L50.5 197.8 L50.8 198 L51 198.2 L51.2 198.4 L51.5 198.7 L51.8 199 L52 199.4 L52.2 199.8 L52.5 200.2 L52.8 200.7 L53 201.3 L53.2 202 L53.5 202.8 L53.8 203.6 L54 204.6 L54.2 205.6 L54.5 207 L54.8 208.6 L55 210.5 L55.2 212.4 L55.5 214.4 L55.8 216.3 L56 218.1 L56.2 219.9 L56.5 221.7 L56.8 223.6 L57 225.5 L57.2 227.4 L57.5 229.3 L57.8 231.2 L58 233.2 L58.2 235.4 L58.5 237.8 L58.8 240.8 L59 244 L59.2 247.3 L59.5 250.6 L59.8 253.7 L60 256.9 L60.2 260.2 L60.5 263.9 L60.8 268.1 L61 272.8 L61.2 277.6 L61.5 282.5 L61.8 287.8 L62 292.5 L62.2 295.9 L62.5 298.6 L62.8 300.9 L63 303.1 L63.2 305.5 L63.5 308.2 L63.8 311.2 L64 314.2 L64.2 317.2 L64.5 320 L64.8 322.3 L65 324.6 L65.2 326.7 L65.5 328.7 L65.8 330.3 L66 331.5 L66.2 332.4 L66.5 333.2 L66.8 334 L67 334.6 L67.2 335.1 L67.5 335.4 L67.8 335.5 L68 335.4 L68.2 335.3 L68.5 335 L68.8 334.8 L69 334.5 L69.2 334.1 L69.5 333.7 L69.8 333.1 L70 332.5 L70.2 331.9 L70.5 331.2 L70.8 330.6 L71 329.8 L71.2 329 L71.5 328.2 L71.8 327.4 L72 326.6 L72.2 325.8 L72.5 325 L72.8 324.3 L73 323.6 L73.2 322.9 L73.5 322.2 L73.8 321.5 L74 320.8 L74.2 320.1 L74.5 319.5 L74.8 319.1 L75 318.7 L75.2 318.6 L75.5 318.6 L75.8 318.7 L76 318.7 L76.2 318.8 L76.5 318.9 L76.8 319.2 L77 319.8 L77.2 320.8 L77.5 322 L77.8 323.3 L78 324.8 L78.2 326.6 L78.5 328.7 L78.8 330.9 L79 333 L79.2 335.2 L79.5 337.5 L79.8 339.9 L80 342.2 L80.2 344.4 L80.5 346.5 L80.8 348.6 L81 350.6 L81.2 352.6 L81.5 354.5 L82.8 355.8 L82.9 354.7 L83 353.4 L83.1 352 L83.2 350.6 L83.3 349 L83.4 347.3 L83.5 345.5 L83.6 343.6 L83.7 341.6 L83.8 339.5 L83.9 337.4 L84 335.1 L84.1 332.8 L84.2 330.4 L84.3 328 L84.4 325.5 L84.5 322.9 L84.6 320.3 L84.7 317.7 L84.8 315.1 L84.9 312.4 L85 309.7 L85.1 307.1 L85.2 304.5 L85.3 301.8 L85.4 299.3 L85.5 296.7 L85.6 294.3 L85.7 291.8 L85.8 289.5 L85.9 287.2 L86 285.1 L86.1 283 L86.2 281.1 L86.3 279.2 L86.4 277.5 L86.5 276 L86.6 274.6 L86.7 273.3 L86.8 272.2 L86.9 271.3 L87 270.5 L87.1 270 L87.2 269.6 L87.3 269.3 L87.4 269.3 L87.5 269.5 L87.6 269.9 L87.7 270.4 L87.8 271.2 L87.9 272.1 L88 273.2 L88.1 274.6 L88.2 276.1 L88.3 277.7 L88.4 279.6 L88.5 281.6 L88.6 283.7 L88.7 286 L88.8 288.5 L88.9 291 L89 293.7 L89.1 296.5 L89.2 299.4 L89.3 302.4 L89.4 305.4 L89.5 308.5 L89.6 311.7 L89.7 314.8 L89.8 318 L89.9 321.1 L90 324.3 L90.1 327.4 L90.2 330.4 L90.3 333.4 L90.4 336.3 L90.5 339.1 L90.6 341.8 L90.7 344.3 L90.8 346.8 L90.9 349 L91 351.1 L91.1 353 L91.2 354.8 L91.3 356.3 L91.4 357.6 L91.5 358.7 L91.6 359.6 L91.7 360.3 L91.8 360.7 L91.9 360.9 L92 360.8 L92.1 360.5 L92.2 360 L92.3 359.2 L92.4 358.2 L92.5 357 L92.6 355.5 L92.7 353.7 L92.8 351.8 L92.9 349.6 L93 347.2 L93.1 344.6 L93.2 341.8 L93.3 338.8 L93.4 335.7 L93.5 332.4 L93.6 329 L93.7 325.5 L93.8 322 L93.9 318.4 L94 314.7 L94.1 311.1 L94.2 307.4 L94.3 303.8 L94.4 300.3 L94.5 296.9 L94.6 293.6 L94.7 290.4 L94.8 287.5 L94.9 284.7 L95 282.1 L95.1 279.8 L95.2 277.8 L95.3 276 L95.4 274.5 L95.5 273.4 L95.6 272.5 L95.7 272 L95.8 271.8 L95.9 272 L96 272.5 L96.1 273.3 L96.2 274.5 L96.3 276 L96.4 277.8 L96.5 280 L96.6 282.4 L96.7 285.1 L96.8 288 L96.9 291.2 L97 294.6 L97.1 298.1 L97.2 301.8 L97.3 305.7 L97.4 309.6 L97.5 313.5 L97.6 317.5 L97.7 321.5 L97.8 325.4 L97.9 329.3 L98 333.1 L98.1 336.7 L98.2 340.2 L98.3 343.4 L98.4 346.5 L98.5 349.3 L98.6 351.8 L98.7 354.1 L98.8 356.1 L98.9 357.7 L99 359 L99.1 360 L99.2 360.6 L99.3 360.9 L99.4 360.8 L99.5 360.4 L99.6 359.6 L99.7 358.6 L99.8 357.2 L99.9 355.4 L100 353.4 L100.1 351.1 L100.2 348.5 L100.3 345.7 L100.4 342.6 L100.5 339.4 L100.6 336 L100.7 332.4 L100.8 328.7 L100.9 324.9 L101 321.1 L101.1 317.2 L101.2 313.4 L101.3 309.6 L101.4 305.8 L101.5 302.2 L101.6 298.7 L101.7 295.3 L101.8 292.2 L101.9 289.2 L102 286.5 L102.1 284.1 L102.2 281.9 L102.3 280.1 L102.4 278.5 L102.5 277.3 L102.6 276.5 L102.7 276 L102.8 275.8 L102.9 276 L103 276.6 L103.1 277.5 L103.2 278.8 L103.3 280.4 L103.4 282.4 L103.5 284.6 L103.6 287.2 L103.7 290 L103.8 293.1 L103.9 296.4 L104 299.9 L104.1 303.5 L104.2 307.3 L104.3 311.2 L104.4 315.1 L104.5 319.1 L104.6 323.1 L104.7 327 L104.8 330.9 L104.9 334.7 L105 338.3 L105.1 341.8 L105.2 345 L105.3 348 L105.4 350.8 L105.5 353.2 L105.6 355.4 L105.7 357.2 L105.8 358.7 L105.9 359.8 L106 360.5 L106.1 360.9 L106.2 360.8 L106.3 360.4 L106.4 359.6 L106.5 358.4 L106.6 356.9 L106.7 355 L106.8 352.8 L106.9 350.3 L107 347.5 L107.1 344.4 L107.2 341.2 L107.3 337.7 L107.4 334.1 L107.5 330.3 L107.6 326.5 L107.7 322.6 L107.8 318.7 L107.9 314.9 L108 311 L108.1 307.3 L108.2 303.8 L108.3 300.3 L108.4 297.1 L108.5 294.2 L108.6 291.5 L108.7 289.1 L108.8 287 L108.9 285.2 L109 283.8 L109.1 282.8 L109.2 282.2 L109.3 282 L109.4 282.2 L109.5 282.7 L109.6 283.7 L109.7 285.1 L109.8 286.8 L109.9 289 L110 291.4 L110.1 294.2 L110.2 297.3 L110.3 300.7 L110.4 304.3 L110.5 308.1 L110.6 312 L110.7 316.1 L110.8 320.2 L110.9 324.4 L111 328.5 L111.1 332.6 L111.2 336.6 L111.3 340.4 L111.4 344 L111.5 347.3 L111.6 350.4 L111.7 353.1 L111.8 355.5 L111.9 357.5 L112 359 L112.1 360.1 L112.2 360.7 L112.3 360.9 L112.4 360.5 L112.5 359.7 L112.6 358.4 L112.7 356.6 L112.8 354.3 L112.9 351.6 L113 348.5 L113.1 344.9 L113.2 341.1 L113.3 337 L113.4 332.6 L113.5 328.1 L113.6 323.6 L113.7 319 L113.8 314.4 L113.9 310 L114 305.8 L114.1 301.9 L114.2 298.3 L114.3 295.1 L114.4 292.4 L114.5 290.2 L114.6 288.6 L114.7 287.6 L114.8 287.2 L114.9 287.4 L115 288.2 L115.1 289.7 L115.2 291.8 L115.3 294.4 L115.4 297.5 L115.5 301.1 L115.6 305.2 L115.7 309.5 L115.8 314.1 L115.9 318.9 L116 323.7 L116.1 328.6 L116.2 333.3 L116.3 337.9 L116.4 342.3 L116.5 346.4 L116.6 350 L116.7 353.2 L116.8 355.9 L116.9 358 L117 359.6 L117.1 360.6 L117.2 360.9 L117.3 360.6 L117.4 359.8 L117.5 358.3 L117.6 356.3 L117.7 353.8 L117.8 350.8 L117.9 347.3 L118 343.5 L118.1 339.4 L118.2 335.1 L118.3 330.5 L118.4 325.9 L118.5 321.3 L118.6 316.8 L118.7 312.4 L118.8 308.2 L118.9 304.3 L119 300.8 L119.1 297.6 L119.2 295 L119.3 292.9 L119.4 291.3 L119.5 290.3 L119.6 289.9 L119.7 290.1 L119.8 290.9 L119.9 292.3 L120 294.3 L120.1 296.8 L120.2 299.8 L120.3 303.2 L120.4 307 L120.5 311.1 L120.6 315.5 L120.7 320.1 L120.8 324.7 L120.9 329.3 L121 333.9 L121.1 338.4 L121.2 342.6 L121.3 346.5 L121.4 350.1 L121.5 353.2 L121.6 355.9 L121.7 358 L121.8 359.6 L121.9 360.5 L122 360.9 L122.1 360.7 L122.2 359.8 L122.3 358.3 L122.4 356.3 L122.5 353.8 L122.6 350.8 L122.7 347.3 L122.8 343.5 L122.9 339.4 L123 335.1 L123.1 330.6 L123.2 326.1 L123.3 321.5 L123.4 317 L123.5 312.7 L123.6 308.6 L123.7 304.8 L123.8 301.3 L123.9 298.3 L124 295.8 L124.1 293.7 L124.2 292.2 L124.3 291.3 L124.4 291 L124.5 291.3 L124.6 292.2 L124.7 293.6 L124.8 295.7 L124.9 298.2 L125 301.3 L125.1 304.8 L125.2 308.7 L125.3 312.9 L125.4 317.3 L125.5 322 L125.6 326.7 L125.7 331.4 L125.8 336 L125.9 340.5 L126 344.7 L126.1 348.5 L126.2 352 L126.3 354.9 L126.4 357.4 L126.5 359.2 L126.6 360.4 L126.7 360.9 L126.8 360.7 L126.9 359.8 L127 358.2 L127.1 356 L127.2 353.1 L127.3 349.5 L127.4 345.5 L127.5 341 L127.6 336.1 L127.7 331 L127.8 325.8 L127.9 320.5 L128 315.4 L128.1 310.5 L128.2 306 L128.3 301.9 L128.4 298.4 L128.5 295.6 L128.6 293.5 L128.7 292.3 L128.8 291.9 L128.9 292.3 L129 293.6 L129.1 295.7 L129.2 298.6 L129.3 302.1 L129.4 306.2 L129.5 310.9 L129.6 315.9 L129.7 321.1 L129.8 326.5 L129.9 331.8 L130 337 L130.1 342 L130.2 346.5 L130.3 350.5 L130.4 354 L130.5 356.8 L130.6 358.9 L130.7 360.3 L130.8 360.9 L130.9 360.7 L131 359.8 L131.1 358.2 L131.2 356 L131.3 353.1 L131.4 349.8 L131.5 345.9 L131.6 341.7 L131.7 337.3 L131.8 332.6 L131.9 327.8 L132 323.1 L132.1 318.4 L132.2 313.9 L132.3 309.7 L132.4 305.8 L132.5 302.3 L132.6 299.3 L132.7 296.8 L132.8 294.8 L132.9 293.5 L133 292.8 L133.1 292.7 L133.2 293.2 L133.3 294.4 L133.4 296.2 L133.5 298.5 L133.6 301.4 L133.7 304.7 L133.8 308.5 L133.9 312.6 L134 317 L134.1 321.5 L134.2 326.2 L134.3 330.9 L134.4 335.6 L134.5 340.1 L134.6 344.3 L134.7 348.2 L134.8 351.7 L134.9 354.7 L135 357.2 L135.1 359.1 L135.2 360.3 L135.3 360.9 L135.4 360.7 L135.5 359.8 L135.6 358.3 L135.7 356 L135.8 353.1 L135.9 349.6 L136 345.6 L136.1 341.2 L136.2 336.5 L136.3 331.5 L136.4 326.4 L136.5 321.3 L136.6 316.4 L136.7 311.7 L136.8 307.3 L136.9 303.3 L137 300 L137.1 297.2 L137.2 295.2 L137.3 293.9 L137.4 293.3 L137.5 293.6 L137.6 294.7 L137.7 296.5 L137.8 299.1 L137.9 302.4 L138 306.3 L138.1 310.6 L138.2 315.4 L138.3 320.4 L138.4 325.6 L138.5 330.9 L138.6 336 L138.7 341 L138.8 345.6 L138.9 349.8 L139 353.4 L139.1 356.3 L139.2 358.6 L139.3 360.1 L139.4 360.8 L139.5 360.7 L139.6 359.8 L139.7 358.2 L139.8 355.7 L139.9 352.6 L140 348.8 L140.1 344.6 L140.2 339.8 L140.3 334.8 L140.4 329.6 L140.5 324.3 L140.6 319.1 L140.7 314.1 L140.8 309.4 L140.9 305.2 L141 301.5 L141.1 298.5 L141.2 296.1 L141.3 294.6 L141.4 293.9 L141.5 294 L141.6 295 L141.7 296.8 L141.8 299.3 L141.9 302.6 L142 306.4 L142.1 310.8 L142.2 315.6 L142.3 320.7 L142.4 325.9 L142.5 331.2 L142.6 336.3 L142.7 341.3 L142.8 345.9 L142.9 350 L143 353.5 L143.1 356.5 L143.2 358.7 L143.3 360.2 L143.4 360.8 L143.5 360.7 L143.6 359.9 L143.7 358.2 L143.8 355.9 L143.9 352.9 L144 349.3 L144.1 345.3 L144.2 340.9 L144.3 336.2 L144.4 331.3 L144.5 326.4 L144.6 321.4 L144.7 316.7 L144.8 312.2 L144.9 308 L145 304.3 L145.1 301 L145.2 298.4 L145.3 296.4 L145.4 295 L145.5 294.4 L145.6 294.4 L145.7 295.2 L145.8 296.7 L145.9 298.8 L146 301.6 L146.1 304.9 L146.2 308.7 L146.3 313 L146.4 317.5 L146.5 322.4 L146.6 327.3 L146.7 332.2 L146.8 337.1 L146.9 341.8 L147 346.2 L147.1 350.1 L147.2 353.6 L147.3 356.4 L147.4 358.6 L147.5 360.1 L147.6 360.8 L147.7 360.8 L147.8 359.9 L147.9 358.2 L148 355.7 L148.1 352.5 L148.2 348.7 L148.3 344.3 L148.4 339.5 L148.5 334.3 L148.6 329 L148.7 323.6 L148.8 318.3 L148.9 313.2 L149 308.5 L149.1 304.3 L149.2 300.8 L149.3 298 L149.4 296 L149.5 294.9 L149.6 294.7 L149.7 295.4 L149.8 297 L149.9 299.5 L150 302.8 L150.1 306.8 L150.2 311.4 L150.3 316.4 L150.4 321.8 L150.5 327.3 L150.6 332.8 L150.7 338.2 L150.8 343.3 L150.9 348 L151 352.1 L151.1 355.5 L151.2 358.1 L151.3 359.9 L151.4 360.8 L151.5 360.8 L151.6 359.9 L151.7 358.1 L151.8 355.4 L151.9 352 L152 348 L152.1 343.3 L152.2 338.3 L152.3 332.9 L152.4 327.4 L152.5 321.9 L152.6 316.5 L152.7 311.5 L152.8 306.9 L152.9 303 L153 299.7 L153.1 297.2 L153.2 295.6 L153.3 294.9 L153.4 295.1 L153.5 296.2 L153.6 298.3 L153.7 301.1 L153.8 304.7 L153.9 308.9 L154 313.6 L154.1 318.7 L154.2 324.1 L154.3 329.5 L154.4 334.9 L154.5 340 L154.6 344.9 L154.7 349.2 L154.8 353 L154.9 356.1 L155 358.5 L155.1 360.1 L155.2 360.8 L155.3 360.8 L155.4 359.9 L155.5 358.2 L155.6 355.8 L155.7 352.7 L155.8 349 L155.9 344.8 L156 340.3 L156.1 335.4 L156.2 330.4 L156.3 325.3 L156.4 320.3 L156.5 315.5 L156.6 311 L156.7 306.9 L156.8 303.3 L156.9 300.3 L157 297.9 L157.1 296.2 L157.2 295.2 L157.3 295 L157.4 295.5 L157.5 296.7 L157.6 298.6 L157.7 301.2 L157.8 304.4 L157.9 308 L158 312.1 L158.1 316.5 L158.2 321.2 L158.3 326 L158.4 330.8 L158.5 335.6 L158.6 340.1 L158.7 344.4 L158.8 348.4 L158.9 351.9 L159 354.9 L159.1 357.4 L159.2 359.2 L159.3 360.4 L159.4 360.9 L159.5 360.7 L159.6 359.9 L159.7 358.4 L159.8 356.3 L159.9 353.6 L160 350.5 L160.1 346.9 L160.2 342.9 L160.3 338.7 L160.4 334.3 L160.5 329.8 L160.6 325.2 L160.7 320.8 L160.8 316.4 L160.9 312.3 L161 308.5 L161.1 305.1 L161.2 302.1 L161.3 299.5 L161.4 297.5 L161.5 296.1 L161.6 295.2 L161.7 295 L161.8 295.3 L161.9 296.3 L162 297.8 L162.1 299.8 L162.2 302.4 L162.3 305.4 L162.4 308.8 L162.5 312.6 L162.6 316.6 L162.7 320.9 L162.8 325.2 L162.9 329.7 L163 334.1 L163.1 338.4 L163.2 342.5 L163.3 346.4 L163.4 349.9 L163.5 353 L163.6 355.7 L163.7 357.8 L163.8 359.4 L163.9 360.5 L164 360.9 L164.1 360.7 L164.2 359.9 L164.3 358.4 L164.4 356.4 L164.5 353.9 L164.6 350.8 L164.7 347.3 L164.8 343.5 L164.9 339.3 L165 334.9 L165.1 330.4 L165.2 325.9 L165.3 321.3 L165.4 316.9 L165.5 312.7 L165.6 308.8 L165.7 305.3 L165.8 302.2 L165.9 299.6 L166 297.5 L166.1 296 L166.2 295.1 L166.3 294.9 L166.4 295.2 L166.5 296.3 L166.6 297.9 L166.7 300.1 L166.8 302.9 L166.9 306.1 L167 309.8 L167.1 313.8 L167.2 318.1 L167.3 322.6 L167.4 327.2 L167.5 331.9 L167.6 336.4 L167.7 340.8 L167.8 345 L167.9 348.8 L168 352.2 L168.1 355.1 L168.2 357.5 L168.3 359.2 L168.4 360.4 L168.5 360.9 L168.6 360.7 L168.7 359.9 L168.8 358.4 L168.9 356.2 L169 353.5 L169.1 350.2 L169.2 346.5 L169.3 342.3 L169.4 337.9 L169.5 333.2 L169.6 328.4 L169.7 323.5 L169.8 318.8 L169.9 314.2 L170 309.9 L170.1 306 L170.2 302.6 L170.3 299.7 L170.4 297.4 L170.5 295.7 L170.6 294.8 L170.7 294.6 L170.8 295.1 L170.9 296.3 L171 298.2 L171.1 300.7 L171.2 303.8 L171.3 307.5 L171.4 311.6 L171.5 316 L171.6 320.7 L171.7 325.5 L171.8 330.4 L171.9 335.2 L172 339.8 L172.1 344.2 L172.2 348.2 L172.3 351.8 L172.4 354.8 L172.5 357.3 L172.6 359.2 L172.7 360.4 L172.8 360.9 L172.9 360.7 L173 359.9 L173.1 358.3 L173.2 356.2 L173.3 353.5 L173.4 350.2 L173.5 346.5 L173.6 342.4 L173.7 338 L173.8 333.3 L173.9 328.6 L174 323.8 L174.1 319.1 L174.2 314.6 L174.3 310.3 L174.4 306.4 L174.5 303 L174.6 300 L174.7 297.6 L174.8 295.8 L174.9 294.6 L175 294.1 L175.1 294.3 L175.2 295.2 L175.3 296.7 L175.4 298.8 L175.5 301.4 L175.6 304.6 L175.7 308.2 L175.8 312.2 L175.9 316.5 L176 320.9 L176.1 325.5 L176.2 330.1 L176.3 334.7 L176.4 339 L176.5 343.2 L176.6 347.1 L176.7 350.5 L176.8 353.6 L176.9 356.1 L177 358.2 L177.1 359.7 L177.2 360.6 L177.3 360.9 L177.4 360.7 L177.5 359.8 L177.6 358.5 L177.7 356.6 L177.8 354.3 L177.9 351.5 L178 348.4 L178.1 344.9 L178.2 341.2 L178.3 337.2 L178.4 333.1 L178.5 328.9 L178.6 324.8 L178.7 320.6 L178.8 316.6 L178.9 312.8 L179 309.1 L179.1 305.8 L179.2 302.8 L179.3 300.2 L179.4 297.9 L179.5 296.1 L179.6 294.8 L179.7 293.9 L179.8 293.5 L179.9 293.6 L180 294.1 L180.1 295.2 L180.2 296.7 L180.3 298.6 L180.4 300.9 L180.5 303.6 L180.6 306.6 L180.7 309.9 L180.8 313.4 L180.9 317.1 L181 321 L181.1 324.9 L181.2 328.9 L181.3 332.9 L181.4 336.7 L181.5 340.5 L181.6 344 L181.7 347.3 L181.8 350.4 L181.9 353.1 L182 355.4 L182.1 357.4 L182.2 359 L182.3 360.1 L182.4 360.7 L182.5 360.9 L182.6 360.6 L182.7 359.8 L182.8 358.6 L182.9 356.9 L183 354.8 L183.1 352.3 L183.2 349.5 L183.3 346.3 L183.4 342.8 L183.5 339.1 L183.6 335.3 L183.7 331.3 L183.8 327.2 L183.9 323.2 L184 319.2 L184.1 315.3 L184.2 311.5 L184.3 308 L184.4 304.7 L184.5 301.8 L184.6 299.2 L184.7 297 L184.8 295.2 L184.9 293.8 L185 292.9 L185.1 292.5 L185.2 292.6 L185.3 293.1 L185.4 294.1 L185.5 295.5 L185.6 297.4 L185.7 299.7 L185.8 302.3 L185.9 305.3 L186 308.5 L186.1 312 L186.2 315.7 L186.3 319.5 L186.4 323.4 L186.5 327.3 L186.6 331.3 L186.7 335.1 L186.8 338.8 L186.9 342.4 L187 345.8 L187.1 348.9 L187.2 351.7 L187.3 354.1 L187.4 356.3 L187.5 358 L187.6 359.4 L187.7 360.3 L187.8 360.8 L187.9 360.9 L188 360.6 L188.1 359.8 L188.2 358.7 L188.3 357.2 L188.4 355.3 L188.5 353 L188.6 350.5 L188.7 347.7 L188.8 344.6 L188.9 341.3 L189 337.9 L189.1 334.3 L189.2 330.6 L189.3 326.9 L189.4 323.1 L189.5 319.4 L189.6 315.8 L189.7 312.3 L189.8 309 L189.9 305.9 L190 303 L190.1 300.3 L190.2 298 L190.3 296 L190.4 294.3 L190.5 293 L190.6 292 L190.7 291.4 L190.8 291.2 L190.9 291.3 L191 291.9 L191.1 292.8 L191.2 294 L191.3 295.6 L191.4 297.5 L191.5 299.8 L191.6 302.2 L191.7 305 L191.8 307.9 L191.9 311 L192 314.3 L192.1 317.7 L192.2 321.1 L192.3 324.6 L192.4 328.1 L192.5 331.6 L192.6 335 L192.7 338.3 L192.8 341.5 L192.9 344.5 L193 347.4 L193.1 350 L193.2 352.4 L193.3 354.5 L193.4 356.3 L193.5 357.8 L193.6 359.1 L193.7 360 L193.8 360.6 L193.9 360.9 L194 360.8 L194.1 360.5 L194.2 359.8 L194.3 358.8 L194.4 357.5 L194.5 356 L194.6 354.1 L194.7 352 L194.8 349.7 L194.9 347.2 L195 344.5 L195.1 341.6 L195.2 338.6 L195.3 335.5 L195.4 332.2 L195.5 329 L195.6 325.7 L195.7 322.3 L195.8 319.1 L195.9 315.8 L196 312.7 L196.1 309.6 L196.2 306.7 L196.3 303.9 L196.4 301.2 L196.5 298.8 L196.6 296.6 L196.7 294.6 L196.8 292.9 L196.9 291.4 L197 290.1 L197.1 289.2 L197.2 288.5 L197.3 288.1 L197.4 288 L197.5 288.1 L197.6 288.6 L197.7 289.3 L197.8 290.3 L197.9 291.5 L198 293 L198.1 294.8 L198.2 296.7 L198.3 298.9 L198.4 301.2 L198.5 303.7 L198.6 306.4 L198.7 309.2 L198.8 312.1 L198.9 315.1 L199 318.1 L199.1 321.2 L199.2 324.3 L199.3 327.4 L199.4 330.4 L199.5 333.5 L199.6 336.4 L199.7 339.3 L199.8 342 L199.9 344.6 L200 347.1 L200.1 349.4 L200.2 351.5 L200.3 353.5 L200.4 355.2 L200.5 356.7 L200.6 358 L200.7 359.1 L200.8 359.9 L200.9 360.5 L201 360.8 L201.1 360.9 L201.2 360.8 L201.3 360.4 L201.4 359.7 L201.5 358.9 L201.6 357.8 L201.7 356.5 L201.8 355 L201.9 353.2 L202 351.3 L202.1 349.2 L202.2 346.9 L202.3 344.5 L202.4 341.9 L202.5 339.2 L202.6 336.3 L202.7 333.4 L202.8 330.4 L202.9 327.3 L203 324.2 L203.1 321.1 L203.2 318 L203.3 314.8 L203.4 311.7 L203.5 308.7 L203.6 305.7 L203.7 302.8 L203.8 300 L203.9 297.3 L204 294.7 L204.1 292.3 L204.2 290.1 L204.3 288 L204.4 286 L204.5 284.3 L204.6 282.8 L204.7 281.4 L204.8 280.3 L204.9 279.4 L205 278.7 L205.1 278.3 L205.2 278 L205.3 278 L205.4 278.1 L205.5 278.5 L205.6 279.1 L205.7 279.9 L205.8 280.9 L205.9 282.1 L206 283.4 L206.1 285 L206.2 286.7 L206.3 288.5 L206.4 290.5 L206.5 292.6 L206.6 294.9 L206.7 297.2 L206.8 299.7 L206.9 302.2 L207 304.8 L207.1 307.5 L207.2 310.2 L207.3 312.9 L207.4 315.7 L207.5 318.4 L207.6 321.2 L207.7 323.9 L207.8 326.6 L207.9 329.3 L208 331.9 L208.1 334.4 L208.2 336.9 L208.3 339.3 L208.4 341.6 L208.5 343.8 L208.6 345.8 L208.7 347.8 L208.8 349.7 L208.9 351.4 L209 353 L209.1 354.4 L209.2 355.7 L209.3 356.9 L209.4 357.9 L209.5 358.8 L209.6 359.5 L209.7 360.1 L209.8 360.5 L209.9 360.8 L210 360.9 L210.1 360.9 L210.2 360.7 L210.3 360.4 L210.4 360 L210.5 359.5 L210.6 358.8 L210.7 358 L210.8 357 L210.9 356 L211 354.8 L211.1 353.5 L211.2 352.1 L211.3 350.6 L211.4 349 L211.5 347.3 L211.6 345.6 L211.7 343.7 L211.8 341.8 L211.9 339.8 L212 337.8 L212.1 335.7 L212.2 333.5 L212.3 331.3 L212.4 329.1 L212.5 326.8 L212.6 324.6 L212.7 322.3 L212.8 320 L212.9 317.7 L213 315.4 L213.1 313.2 L213.2 310.9 L213.3 308.7 L213.4 306.5 L213.5 304.4 L213.6 302.3 L213.7 300.3 L213.8 298.3 L213.9 296.4 L214 294.5 L214.1 292.7 L214.2 291 L214.3 289.4 L214.4 287.9 L214.5 286.4 L214.6 285.1 L214.7 283.8 L214.8 282.6 L214.9 281.6 L215 280.6 L215.1 279.8 L215.2 279 L215.3 278.4 L215.4 277.8 L215.5 277.4 L215.6 277.1 L215.7 276.8 L215.8 276.7 L215.9 276.7 L216 276.8 L216.1 277 L216.2 277.3 L216.3 277.7 L216.4 278.2 L216.5 278.8 L216.6 279.5 L216.7 280.3 L216.8 281.2 L216.9 282.2 L217 283.2 L217.1 284.3 L217.2 285.5 L217.3 286.8 L217.4 288.1 L217.5 289.5 L217.6 291 L217.7 292.5 L217.8 294.1 L217.9 295.7 L218 297.3 L218.1 299 L218.2 300.8 L218.3 302.5 L218.4 304.3 L218.5 306.2 L218.6 308 L218.7 309.8 L218.8 311.7 L218.9 313.6 L219 315.4 L219.1 317.3 L219.2 319.1 L219.3 321 L219.4 322.8 L219.5 324.7 L219.6 326.5 L219.7 328.2 L219.8 330 L219.9 331.7 L220 333.4 L220.1 335.1 L220.2 336.7 L220.3 338.3 L220.4 339.8 L220.5 341.3 L220.6 342.8 L220.7 344.2 L220.8 345.5 L220.9 346.8 L221 348.1 L221.1 349.3 L221.2 350.4 L221.3 351.5 L221.4 352.5 L221.5 353.5 L221.6 354.4 L221.7 355.2 L221.8 356 L221.9 356.7 L222 357.4 L222.1 358 L222.2 358.6 L222.3 359.1 L222.4 359.5 L222.5 359.9 L222.6 360.2 L222.7 360.4 L222.8 360.6 L222.9 360.8 L223 360.9 L223.3 359 L223.6 358.5 L223.8 357.9 L224.1 357.2 L224.3 356.5 L224.6 355.6 L224.8 354.7 L225.1 353.8 L225.3 352.7 L225.6 351.5 L225.8 350.1 L226.1 348.7 L226.3 347.1 L226.6 345.5 L226.8 343.8 L227.1 342.2 L227.3 340.5 L227.6 338.8 L227.8 337.2 L228.1 335.7 L228.3 334.2 L228.6 332.6 L228.8 331.1 L229.1 329.5 L229.3 328 L229.6 326.4 L229.8 324.9 L230.1 323.4 L230.3 321.8 L230.6 320.3 L230.8 318.9 L231.1 317.4 L231.3 316 L231.6 314.6 L231.8 313.2 L232.1 311.7 L232.3 310.3 L232.6 308.8 L232.8 307.4 L233.1 306 L233.3 304.7 L233.6 303.4 L233.8 302.2 L234.1 301.1 L234.3 300 L234.6 299.1 L234.8 298.2 L235.1 297.4 L235.3 296.6 L235.6 295.8 L235.8 295 L236.1 294.3 L236.3 293.5 L236.6 292.8 L236.8 292.2 L237.1 291.5 L237.3 290.9 L237.6 290.3 L237.8 289.7 L238.1 289.2 L238.3 288.7 L238.6 288.2 L238.8 287.7 L239.1 287.3 L239.3 286.9 L239.6 286.5 L239.8 286.2 L240.1 285.8 L240.3 285.5 L240.6 285.2 L240.8 284.9 L241.1 284.6 L241.3 284.3 L241.6 284 L241.8 283.7 L242.1 283.4 L242.3 283.2 L242.6 283 L242.8 282.7 L243.1 282.5 L243.3 282.4 L243.6 282.2 L243.8 282 L244.1 281.9 L244.3 281.7 L244.6 281.6 L244.8 281.5 L245.1 281.4 L245.3 281.3 L245.6 281.2 L245.8 281.2 L246.1 281.1 L246.3 281 L246.6 280.9 L246.8 280.8 L247.1 280.8 L247.3 280.7 L247.6 280.6 L247.8 280.6 L248.1 280.5 L248.3 280.5 L248.6 280.4 L248.8 280.4 L249.1 280.3 L249.3 280.3 L249.6 280.3 L249.8 280.2 L250.1 280.2 L250.3 280.1 L250.6 280.1 L250.8 280.1 L251.1 280 L251.3 280 L251.6 279.9 L251.8 279.9 L252.1 279.9 L252.3 279.8 L252.6 279.8 L252.8 279.8 L253.1 279.8 L253.3 279.7 L253.6 279.7 L253.8 279.7 L254.1 279.7 L254.3 279.7 L254.6 279.6 L254.8 279.6 L255.1 279.6 L255.3 279.6" fill="none" stroke="#d42020" stroke-width="1.6" stroke-linejoin="round" clip-path="url(#cbl)"/>
<path d="M42 360.9 L42.2 360.9 L42.5 360.9 L42.8 360.9 L43 360.9 L43.2 360.9 L43.5 360.9 L43.8 360.9 L44 360.9 L44.2 360.9 L44.5 360.9 L44.8 360.9 L45 360.9 L45.2 360.9 L45.5 360.9 L45.8 360.9 L46 360.9 L46.2 360.9 L46.5 360.9 L46.8 360.9 L47 360.9 L47.2 360.9 L47.5 360.9 L47.8 360.9 L48 360.9 L48.2 360.9 L48.5 360.9 L48.8 360.9 L49 360.9 L49.2 360.9 L49.5 360.9 L49.8 360.9 L50 360.9 L50.2 360.8 L50.5 360.8 L50.8 360.8 L51 360.8 L51.2 360.8 L51.5 360.8 L51.8 360.8 L52 360.8 L52.2 360.8 L52.5 360.8 L52.8 360.8 L53 360.8 L53.2 360.8 L53.5 360.8 L53.8 360.7 L54 360.7 L54.2 360.7 L54.5 360.6 L54.8 360.5 L55 360.5 L55.2 360.4 L55.5 360.3 L55.8 360.2 L56 360 L56.2 359.8 L56.5 359.5 L56.8 359.2 L57 358.8 L57.2 358.4 L57.5 358 L57.8 357.5 L58 357 L58.2 356.4 L58.5 355.7 L58.8 354.9 L59 354 L59.2 353.1 L59.5 352 L59.8 350.7 L60 349.1 L60.2 347.1 L60.5 344.9 L60.8 342.5 L61 340 L61.2 337.4 L61.5 334.8 L61.8 332.3 L62 329.8 L62.2 327.6 L62.5 325.3 L62.8 322.9 L63 320.5 L63.2 318.2 L63.5 315.9 L63.8 313.9 L64 312 L64.2 310.3 L64.5 308.6 L64.8 307 L65 305.5 L65.2 304.1 L65.5 302.8 L65.8 301.6 L66 300.6 L66.2 299.7 L66.5 298.7 L66.8 297.8 L67 296.9 L67.2 296.1 L67.5 295.5 L67.8 294.9 L68 294.6 L68.2 294.4 L68.5 294.5 L68.8 294.7 L69 295 L69.2 295.5 L69.5 296 L69.8 296.6 L70 297.2 L70.2 297.9 L70.5 298.5 L70.8 299.2 L71 300 L71.2 300.9 L71.5 301.9 L71.8 302.8 L72 303.8 L72.2 304.7 L72.5 305.5 L72.8 306.3 L73 307.1 L73.2 308 L73.5 308.9 L73.8 309.7 L74 310.4 L74.2 310.9 L74.5 311.3 L74.8 311.5 L75 311.5 L75.2 311.5 L75.5 311.5 L75.8 311.5 L76 311.5 L76.2 311.5 L76.5 311.2 L76.8 310.5 L77 309.6 L77.2 308.5 L77.5 307.3 L77.8 306.2 L78 305.1 L78.2 304 L78.5 302.8 L78.8 301.5 L79 300.2 L79.2 298.7 L79.5 297.2 L79.8 295.5 L80 293.7 L80.2 291.8 L80.5 289.5 L80.8 287 L81 284.3 L82.1 275.4 L82.2 275.4 L82.3 275.6 L82.4 275.8 L82.5 276.2 L82.6 276.6 L82.7 277.2 L82.8 277.9 L82.9 278.7 L83 279.6 L83.1 280.6 L83.2 281.7 L83.3 283 L83.4 284.3 L83.5 285.7 L83.6 287.3 L83.7 288.9 L83.8 290.7 L83.9 292.5 L84 294.4 L84.1 296.4 L84.2 298.5 L84.3 300.6 L84.4 302.8 L84.5 305.1 L84.6 307.4 L84.7 309.7 L84.8 312.1 L84.9 314.6 L85 317 L85.1 319.5 L85.2 322 L85.3 324.5 L85.4 326.9 L85.5 329.4 L85.6 331.8 L85.7 334.2 L85.8 336.5 L85.9 338.8 L86 341 L86.1 343.2 L86.2 345.2 L86.3 347.2 L86.4 349.1 L86.5 350.8 L86.6 352.5 L86.7 354 L86.8 355.3 L86.9 356.6 L87 357.7 L87.1 358.6 L87.2 359.4 L87.3 360 L87.4 360.5 L87.5 360.8 L87.6 360.9 L87.7 360.8 L87.8 360.6 L87.9 360.2 L88 359.6 L88.1 358.8 L88.2 357.8 L88.3 356.7 L88.4 355.4 L88.5 353.9 L88.6 352.3 L88.7 350.5 L88.8 348.5 L88.9 346.4 L89 344.2 L89.1 341.8 L89.2 339.4 L89.3 336.8 L89.4 334.1 L89.5 331.3 L89.6 328.5 L89.7 325.6 L89.8 322.7 L89.9 319.7 L90 316.7 L90.1 313.7 L90.2 310.7 L90.3 307.7 L90.4 304.8 L90.5 301.9 L90.6 299.1 L90.7 296.3 L90.8 293.7 L90.9 291.2 L91 288.8 L91.1 286.5 L91.2 284.4 L91.3 282.4 L91.4 280.6 L91.5 279 L91.6 277.5 L91.7 276.3 L91.8 275.3 L91.9 274.5 L92 273.9 L92.1 273.5 L92.2 273.4 L92.3 273.5 L92.4 273.8 L92.5 274.4 L92.6 275.2 L92.7 276.2 L92.8 277.5 L92.9 279 L93 280.8 L93.1 282.8 L93.2 285 L93.3 287.4 L93.4 290 L93.5 292.8 L93.6 295.7 L93.7 298.8 L93.8 302.1 L93.9 305.4 L94 308.9 L94.1 312.4 L94.2 316 L94.3 319.6 L94.4 323.2 L94.5 326.8 L94.6 330.3 L94.7 333.8 L94.8 337.1 L94.9 340.3 L95 343.4 L95.1 346.3 L95.2 348.9 L95.3 351.4 L95.4 353.6 L95.5 355.6 L95.6 357.2 L95.7 358.6 L95.8 359.7 L95.9 360.4 L96 360.8 L96.1 360.9 L96.2 360.6 L96.3 360 L96.4 359.1 L96.5 357.8 L96.6 356.2 L96.7 354.3 L96.8 352.1 L96.9 349.6 L97 346.8 L97.1 343.8 L97.2 340.5 L97.3 337.1 L97.4 333.5 L97.5 329.8 L97.6 325.9 L97.7 322 L97.8 318 L97.9 314 L98 310 L98.1 306.1 L98.2 302.2 L98.3 298.5 L98.4 294.9 L98.5 291.5 L98.6 288.2 L98.7 285.2 L98.8 282.4 L98.9 280 L99 277.8 L99.1 275.9 L99.2 274.3 L99.3 273 L99.4 272.1 L99.5 271.6 L99.6 271.4 L99.7 271.6 L99.8 272.1 L99.9 272.9 L100 274.1 L100.1 275.6 L100.2 277.5 L100.3 279.6 L100.4 282.1 L100.5 284.8 L100.6 287.8 L100.7 291 L100.8 294.4 L100.9 298 L101 301.8 L101.1 305.6 L101.2 309.6 L101.3 313.6 L101.4 317.6 L101.5 321.7 L101.6 325.7 L101.7 329.6 L101.8 333.4 L101.9 337.1 L102 340.6 L102.1 343.9 L102.2 347 L102.3 349.8 L102.4 352.4 L102.5 354.6 L102.6 356.5 L102.7 358.1 L102.8 359.4 L102.9 360.3 L103 360.8 L103.1 360.9 L103.2 360.6 L103.3 360 L103.4 359 L103.5 357.6 L103.6 355.8 L103.7 353.7 L103.8 351.3 L103.9 348.5 L104 345.5 L104.1 342.2 L104.2 338.6 L104.3 334.9 L104.4 330.9 L104.5 326.9 L104.6 322.7 L104.7 318.4 L104.8 314.1 L104.9 309.9 L105 305.6 L105.1 301.4 L105.2 297.4 L105.3 293.5 L105.4 289.8 L105.5 286.4 L105.6 283.1 L105.7 280.2 L105.8 277.6 L105.9 275.4 L106 273.5 L106.1 272 L106.2 270.9 L106.3 270.2 L106.4 270 L106.5 270.2 L106.6 270.8 L106.7 271.8 L106.8 273.3 L106.9 275.1 L107 277.3 L107.1 279.9 L107.2 282.9 L107.3 286.1 L107.4 289.6 L107.5 293.4 L107.6 297.4 L107.7 301.5 L107.8 305.8 L107.9 310.3 L108 314.7 L108.1 319.2 L108.2 323.6 L108.3 328 L108.4 332.3 L108.5 336.4 L108.6 340.3 L108.7 344 L108.8 347.4 L108.9 350.5 L109 353.2 L109.1 355.6 L109.2 357.5 L109.3 359.1 L109.4 360.1 L109.5 360.8 L109.6 360.9 L109.7 360.5 L109.8 359.7 L109.9 358.4 L110 356.6 L110.1 354.4 L110.2 351.7 L110.3 348.6 L110.4 345.1 L110.5 341.3 L110.6 337.1 L110.7 332.7 L110.8 328 L110.9 323.1 L111 318.1 L111.1 313.1 L111.2 308 L111.3 303 L111.4 298.1 L111.5 293.3 L111.6 288.8 L111.7 284.5 L111.8 280.6 L111.9 277.1 L112 274 L112.1 271.4 L112.2 269.3 L112.3 267.8 L112.4 266.9 L112.5 266.6 L112.6 266.9 L112.7 267.9 L112.8 269.4 L112.9 271.6 L113 274.5 L113.1 277.9 L113.2 281.8 L113.3 286.3 L113.4 291.2 L113.5 296.4 L113.6 302 L113.7 307.8 L113.8 313.7 L113.9 319.6 L114 325.5 L114.1 331.2 L114.2 336.6 L114.3 341.7 L114.4 346.4 L114.5 350.5 L114.6 354 L114.7 356.8 L114.8 359 L114.9 360.3 L115 360.9 L115.1 360.6 L115.2 359.6 L115.3 357.7 L115.4 355.1 L115.5 351.7 L115.6 347.7 L115.7 343.1 L115.8 338 L115.9 332.4 L116 326.5 L116.1 320.4 L116.2 314.2 L116.3 308 L116.4 301.8 L116.5 296 L116.6 290.4 L116.7 285.2 L116.8 280.6 L116.9 276.5 L117 273.1 L117.1 270.4 L117.2 268.5 L117.3 267.3 L117.4 266.9 L117.5 267.3 L117.6 268.5 L117.7 270.4 L117.8 273.1 L117.9 276.5 L118 280.5 L118.1 285 L118.2 290.1 L118.3 295.5 L118.4 301.3 L118.5 307.3 L118.6 313.4 L118.7 319.5 L118.8 325.5 L118.9 331.3 L119 336.8 L119.1 342 L119.2 346.6 L119.3 350.7 L119.4 354.2 L119.5 357 L119.6 359.1 L119.7 360.4 L119.8 360.9 L119.9 360.6 L120 359.5 L120.1 357.6 L120.2 355 L120.3 351.6 L120.4 347.7 L120.5 343.1 L120.6 338 L120.7 332.5 L120.8 326.7 L120.9 320.7 L121 314.5 L121.1 308.4 L121.2 302.3 L121.3 296.4 L121.4 290.8 L121.5 285.7 L121.6 281 L121.7 276.9 L121.8 273.4 L121.9 270.6 L122 268.6 L122.1 267.4 L122.2 267 L122.3 267.4 L122.4 268.6 L122.5 270.6 L122.6 273.4 L122.7 276.8 L122.8 280.9 L122.9 285.5 L123 290.6 L123.1 296.1 L123.2 302 L123.3 308 L123.4 314.1 L123.5 320.2 L123.6 326.2 L123.7 332 L123.8 337.5 L123.9 342.6 L124 347.2 L124.1 351.2 L124.2 354.6 L124.3 357.3 L124.4 359.3 L124.5 360.5 L124.6 360.9 L124.7 360.5 L124.8 359.2 L124.9 357.2 L125 354.4 L125.1 350.9 L125.2 346.7 L125.3 341.9 L125.4 336.6 L125.5 330.9 L125.6 324.8 L125.7 318.6 L125.8 312.2 L125.9 305.8 L126 299.6 L126.1 293.6 L126.2 288 L126.3 282.8 L126.4 278.2 L126.5 274.3 L126.6 271.2 L126.7 268.9 L126.8 267.5 L126.9 267 L127 267.5 L127.1 268.9 L127.2 271.4 L127.3 274.7 L127.4 279 L127.5 284 L127.6 289.8 L127.7 296.1 L127.8 302.9 L127.9 310 L128 317.2 L128.1 324.4 L128.2 331.3 L128.3 337.9 L128.4 343.9 L128.5 349.1 L128.6 353.6 L128.7 357 L128.8 359.4 L128.9 360.7 L129 360.8 L129.1 359.8 L129.2 357.6 L129.3 354.3 L129.4 350.1 L129.5 344.9 L129.6 339.1 L129.7 332.6 L129.8 325.6 L129.9 318.4 L130 311.2 L130.1 304 L130.2 297 L130.3 290.6 L130.4 284.6 L130.5 279.4 L130.6 275 L130.7 271.5 L130.8 269 L130.9 267.5 L131 267 L131.1 267.5 L131.2 269 L131.3 271.4 L131.4 274.6 L131.5 278.7 L131.6 283.4 L131.7 288.8 L131.8 294.6 L131.9 300.7 L132 307.1 L132.1 313.6 L132.2 320.1 L132.3 326.5 L132.4 332.6 L132.5 338.3 L132.6 343.6 L132.7 348.3 L132.8 352.3 L132.9 355.7 L133 358.2 L133.1 359.9 L133.2 360.8 L133.3 360.8 L133.4 359.9 L133.5 358.2 L133.6 355.7 L133.7 352.3 L133.8 348.3 L133.9 343.6 L134 338.3 L134.1 332.6 L134.2 326.5 L134.3 320.1 L134.4 313.6 L134.5 307.1 L134.6 300.7 L134.7 294.6 L134.8 288.8 L134.9 283.4 L135 278.7 L135.1 274.6 L135.2 271.4 L135.3 269 L135.4 267.5 L135.5 267 L135.6 267.5 L135.7 269 L135.8 271.5 L135.9 274.9 L136 279.2 L136.1 284.3 L136.2 290.1 L136.3 296.4 L136.4 303.1 L136.5 310.1 L136.6 317.2 L136.7 324.3 L136.8 331.1 L136.9 337.5 L137 343.4 L137.1 348.7 L137.2 353.1 L137.3 356.6 L137.4 359.1 L137.5 360.5 L137.6 360.9 L137.7 360.1 L137.8 358.2 L137.9 355.2 L138 351.3 L138.1 346.4 L138.2 340.8 L138.3 334.5 L138.4 327.7 L138.5 320.6 L138.6 313.3 L138.7 306 L138.8 298.9 L138.9 292.2 L139 286 L139.1 280.5 L139.2 275.8 L139.3 272 L139.4 269.2 L139.5 267.6 L139.6 267 L139.7 267.6 L139.8 269.3 L139.9 272 L140 275.8 L140.1 280.6 L140.2 286.1 L140.3 292.4 L140.4 299.2 L140.5 306.4 L140.6 313.8 L140.7 321.2 L140.8 328.4 L140.9 335.2 L141 341.6 L141.1 347.2 L141.2 352 L141.3 355.9 L141.4 358.7 L141.5 360.4 L141.6 360.9 L141.7 360.2 L141.8 358.4 L141.9 355.5 L142 351.5 L142.1 346.6 L142.2 340.9 L142.3 334.6 L142.4 327.7 L142.5 320.5 L142.6 313.1 L142.7 305.8 L142.8 298.7 L142.9 292 L143 285.8 L143.1 280.3 L143.2 275.6 L143.3 271.9 L143.4 269.2 L143.5 267.6 L143.6 267 L143.7 267.5 L143.8 269.2 L143.9 271.8 L144 275.4 L144.1 279.9 L144.2 285.1 L144.3 290.9 L144.4 297.2 L144.5 303.9 L144.6 310.8 L144.7 317.7 L144.8 324.6 L144.9 331.2 L145 337.4 L145.1 343.1 L145.2 348.2 L145.3 352.5 L145.4 356 L145.5 358.6 L145.6 360.2 L145.7 360.9 L145.8 360.5 L145.9 359.2 L146 356.8 L146.1 353.5 L146.2 349.4 L146.3 344.5 L146.4 338.9 L146.5 332.7 L146.6 326.1 L146.7 319.2 L146.8 312.2 L146.9 305.2 L147 298.4 L147.1 291.8 L147.2 285.8 L147.3 280.4 L147.4 275.8 L147.5 272 L147.6 269.3 L147.7 267.6 L147.8 267 L147.9 267.6 L148 269.3 L148.1 272.2 L148.2 276.2 L148.3 281.1 L148.4 286.9 L148.5 293.5 L148.6 300.6 L148.7 308.1 L148.8 315.8 L148.9 323.4 L149 330.8 L149.1 337.8 L149.2 344.1 L149.3 349.7 L149.4 354.2 L149.5 357.7 L149.6 359.9 L149.7 360.9 L149.8 360.5 L149.9 358.9 L150 355.9 L150.1 351.8 L150.2 346.7 L150.3 340.6 L150.4 333.7 L150.5 326.3 L150.6 318.6 L150.7 310.7 L150.8 302.9 L150.9 295.5 L151 288.5 L151.1 282.3 L151.2 277 L151.3 272.7 L151.4 269.6 L151.5 267.6 L151.6 267 L151.7 267.6 L151.8 269.6 L151.9 272.7 L152 277 L152.1 282.3 L152.2 288.5 L152.3 295.5 L152.4 302.9 L152.5 310.7 L152.6 318.6 L152.7 326.3 L152.8 333.7 L152.9 340.6 L153 346.7 L153.1 351.8 L153.2 355.9 L153.3 358.9 L153.4 360.5 L153.5 360.9 L153.6 359.9 L153.7 357.7 L153.8 354.2 L153.9 349.7 L154 344.1 L154.1 337.8 L154.2 330.8 L154.3 323.4 L154.4 315.8 L154.5 308.1 L154.6 300.6 L154.7 293.5 L154.8 286.9 L154.9 281.1 L155 276.2 L155.1 272.2 L155.2 269.3 L155.3 267.6 L155.4 267 L155.5 267.6 L155.6 269.3 L155.7 272.1 L155.8 275.9 L155.9 280.6 L156 286.1 L156.1 292.3 L156.2 298.9 L156.3 305.9 L156.4 313.1 L156.5 320.3 L156.6 327.3 L156.7 333.9 L156.8 340.1 L156.9 345.7 L157 350.6 L157.1 354.6 L157.2 357.6 L157.3 359.7 L157.4 360.8 L157.5 360.8 L157.6 359.7 L157.7 357.7 L157.8 354.7 L157.9 350.8 L158 346.1 L158.1 340.7 L158.2 334.7 L158.3 328.3 L158.4 321.6 L158.5 314.8 L158.6 308 L158.7 301.3 L158.8 294.9 L158.9 288.9 L159 283.4 L159.1 278.6 L159.2 274.5 L159.3 271.3 L159.4 268.9 L159.5 267.5 L159.6 267 L159.7 267.5 L159.8 268.9 L159.9 271.2 L160 274.3 L160.1 278.3 L160.2 282.9 L160.3 288 L160.4 293.7 L160.5 299.8 L160.6 306.1 L160.7 312.5 L160.8 318.9 L160.9 325.2 L161 331.4 L161.1 337.1 L161.2 342.4 L161.3 347.2 L161.4 351.4 L161.5 354.9 L161.6 357.6 L161.7 359.5 L161.8 360.6 L161.9 360.9 L162 360.3 L162.1 358.8 L162.2 356.6 L162.3 353.6 L162.4 349.9 L162.5 345.5 L162.6 340.5 L162.7 335.1 L162.8 329.3 L162.9 323.2 L163 316.9 L163.1 310.6 L163.2 304.3 L163.3 298.2 L163.4 292.4 L163.5 286.9 L163.6 282 L163.7 277.6 L163.8 273.9 L163.9 270.9 L164 268.8 L164.1 267.4 L164.2 267 L164.3 267.4 L164.4 268.8 L164.5 271 L164.6 274 L164.7 277.7 L164.8 282.2 L164.9 287.3 L165 292.9 L165.1 298.8 L165.2 305.1 L165.3 311.5 L165.4 318 L165.5 324.5 L165.6 330.7 L165.7 336.6 L165.8 342 L165.9 347 L166 351.3 L166.1 354.9 L166.2 357.6 L166.3 359.6 L166.4 360.7 L166.5 360.9 L166.6 360.1 L166.7 358.5 L166.8 356 L166.9 352.7 L167 348.6 L167.1 343.8 L167.2 338.5 L167.3 332.7 L167.4 326.4 L167.5 320 L167.6 313.4 L167.7 306.8 L167.8 300.4 L167.9 294.2 L168 288.4 L168.1 283.1 L168.2 278.4 L168.3 274.4 L168.4 271.2 L168.5 268.9 L168.6 267.5 L168.7 267 L168.8 267.5 L168.9 268.9 L169 271.3 L169.1 274.5 L169.2 278.6 L169.3 283.5 L169.4 289 L169.5 295 L169.6 301.4 L169.7 308.2 L169.8 315 L169.9 321.9 L170 328.6 L170.1 335 L170.2 340.9 L170.3 346.2 L170.4 350.9 L170.5 354.8 L170.6 357.7 L170.7 359.8 L170.8 360.8 L170.9 360.8 L171 359.8 L171.1 357.7 L171.2 354.8 L171.3 350.9 L171.4 346.2 L171.5 340.9 L171.6 335 L171.7 328.6 L171.8 321.9 L171.9 315 L172 308.2 L172.1 301.4 L172.2 295 L172.3 288.9 L172.4 283.4 L172.5 278.6 L172.6 274.5 L172.7 271.2 L172.8 268.9 L172.9 267.4 L173 267 L173.1 267.4 L173.2 268.9 L173.3 271.2 L173.4 274.4 L173.5 278.5 L173.6 283.2 L173.7 288.6 L173.8 294.6 L173.9 300.9 L174 307.5 L174.1 314.2 L174.2 320.9 L174.3 327.4 L174.4 333.7 L174.5 339.6 L174.6 344.9 L174.7 349.6 L174.8 353.6 L174.9 356.8 L175 359.1 L175.1 360.4 L175.2 360.9 L175.3 360.4 L175.4 359 L175.5 356.7 L175.6 353.6 L175.7 349.7 L175.8 345.1 L175.9 339.9 L176 334.2 L176.1 328.2 L176.2 321.9 L176.3 315.5 L176.4 309.1 L176.5 302.8 L176.6 296.7 L176.7 291 L176.8 285.7 L176.9 280.9 L177 276.7 L177.1 273.3 L177.2 270.5 L177.3 268.5 L177.4 267.3 L177.5 266.9 L177.6 267.3 L177.7 268.5 L177.8 270.4 L177.9 273 L178 276.3 L178.1 280.1 L178.2 284.5 L178.3 289.3 L178.4 294.5 L178.5 300 L178.6 305.7 L178.7 311.4 L178.8 317.2 L178.9 323 L179 328.5 L179.1 333.9 L179.2 338.9 L179.3 343.5 L179.4 347.7 L179.5 351.4 L179.6 354.5 L179.7 357.1 L179.8 359 L179.9 360.3 L180 360.8 L180.1 360.8 L180.2 360 L180.3 358.6 L180.4 356.6 L180.5 354 L180.6 350.8 L180.7 347.2 L180.8 343 L180.9 338.5 L181 333.6 L181.1 328.4 L181.2 323.1 L181.3 317.6 L181.4 312.1 L181.5 306.6 L181.6 301.2 L181.7 296 L181.8 291 L181.9 286.4 L182 282.1 L182.1 278.2 L182.2 274.9 L182.3 272.1 L182.4 269.8 L182.5 268.2 L182.6 267.2 L182.7 266.9 L182.8 267.2 L182.9 268.2 L183 269.8 L183.1 272.1 L183.2 274.9 L183.3 278.3 L183.4 282.2 L183.5 286.6 L183.6 291.3 L183.7 296.3 L183.8 301.6 L183.9 307.1 L184 312.7 L184.1 318.2 L184.2 323.8 L184.3 329.1 L184.4 334.3 L184.5 339.2 L184.6 343.7 L184.7 347.8 L184.8 351.4 L184.9 354.5 L185 357 L185.1 358.9 L185.2 360.2 L185.3 360.8 L185.4 360.8 L185.5 360.1 L185.6 358.8 L185.7 356.9 L185.8 354.4 L185.9 351.4 L186 347.8 L186.1 343.8 L186.2 339.3 L186.3 334.6 L186.4 329.6 L186.5 324.3 L186.6 319 L186.7 313.6 L186.8 308.1 L186.9 302.8 L187 297.7 L187.1 292.7 L187.2 288 L187.3 283.7 L187.4 279.8 L187.5 276.3 L187.6 273.3 L187.7 270.7 L187.8 268.8 L187.9 267.3 L188 266.5 L188.1 266.2 L188.2 266.5 L188.3 267.3 L188.4 268.7 L188.5 270.7 L188.6 273.1 L188.7 276 L188.8 279.3 L188.9 283.1 L189 287.2 L189.1 291.6 L189.2 296.2 L189.3 301 L189.4 306 L189.5 311 L189.6 316.1 L189.7 321.1 L189.8 326 L189.9 330.8 L190 335.4 L190.1 339.7 L190.2 343.7 L190.3 347.4 L190.4 350.7 L190.5 353.6 L190.6 356 L190.7 357.9 L190.8 359.4 L190.9 360.4 L191 360.9 L191.1 360.8 L191.2 360.3 L191.3 359.2 L191.4 357.7 L191.5 355.7 L191.6 353.3 L191.7 350.5 L191.8 347.3 L191.9 343.8 L192 340 L192.1 335.9 L192.2 331.7 L192.3 327.2 L192.4 322.7 L192.5 318 L192.6 313.4 L192.7 308.7 L192.8 304.2 L192.9 299.7 L193 295.4 L193.1 291.3 L193.2 287.5 L193.3 283.9 L193.4 280.6 L193.5 277.6 L193.6 275 L193.7 272.7 L193.8 270.9 L193.9 269.4 L194 268.4 L194.1 267.8 L194.2 267.6 L194.3 267.8 L194.4 268.5 L194.5 269.5 L194.6 270.9 L194.7 272.7 L194.8 274.9 L194.9 277.4 L195 280.3 L195.1 283.4 L195.2 286.8 L195.3 290.4 L195.4 294.2 L195.5 298.2 L195.6 302.3 L195.7 306.5 L195.8 310.8 L195.9 315 L196 319.3 L196.1 323.5 L196.2 327.6 L196.3 331.6 L196.4 335.5 L196.5 339.2 L196.6 342.6 L196.7 345.9 L196.8 348.8 L196.9 351.5 L197 353.8 L197.1 355.9 L197.2 357.6 L197.3 359 L197.4 360 L197.5 360.6 L197.6 360.9 L197.7 360.8 L197.8 360.4 L197.9 359.6 L198 358.4 L198.1 357 L198.2 355.2 L198.3 353.1 L198.4 350.7 L198.5 348.1 L198.6 345.2 L198.7 342.2 L198.8 338.9 L198.9 335.4 L199 331.8 L199.1 328.1 L199.2 324.3 L199.3 320.5 L199.4 316.6 L199.5 312.7 L199.6 308.9 L199.7 305.1 L199.8 301.4 L199.9 297.8 L200 294.3 L200.1 290.9 L200.2 287.7 L200.3 284.7 L200.4 282 L200.5 279.4 L200.6 277.1 L200.7 275 L200.8 273.2 L200.9 271.7 L201 270.4 L201.1 269.4 L201.2 268.7 L201.3 268.3 L201.4 268.2 L201.5 268.4 L201.6 268.8 L201.7 269.5 L201.8 270.5 L201.9 271.7 L202 273.2 L202.1 275 L202.2 277 L202.3 279.2 L202.4 281.6 L202.5 284.2 L202.6 287 L202.7 289.9 L202.8 293 L202.9 296.2 L203 299.5 L203.1 302.9 L203.2 306.3 L203.3 309.8 L203.4 313.3 L203.5 316.8 L203.6 320.2 L203.7 323.7 L203.8 327 L203.9 330.3 L204 333.5 L204.1 336.6 L204.2 339.6 L204.3 342.4 L204.4 345.1 L204.5 347.5 L204.6 349.8 L204.7 351.9 L204.8 353.8 L204.9 355.5 L205 357 L205.1 358.2 L205.2 359.2 L205.3 360 L205.4 360.5 L205.5 360.8 L205.6 360.9 L205.7 360.7 L205.8 360.3 L205.9 359.7 L206 358.9 L206.1 357.8 L206.2 356.6 L206.3 355.1 L206.4 353.5 L206.5 351.7 L206.6 349.7 L206.7 347.5 L206.8 345.3 L206.9 342.9 L207 340.4 L207.1 337.7 L207.2 335 L207.3 332.2 L207.4 329.4 L207.5 326.5 L207.6 323.6 L207.7 320.6 L207.8 317.7 L207.9 314.8 L208 311.8 L208.1 309 L208.2 306.1 L208.3 303.3 L208.4 300.6 L208.5 298 L208.6 295.4 L208.7 293 L208.8 290.6 L208.9 288.4 L209 286.3 L209.1 284.3 L209.2 282.4 L209.3 280.7 L209.4 279.1 L209.5 277.7 L209.6 276.4 L209.7 275.3 L209.8 274.3 L209.9 273.5 L210 272.8 L210.1 272.3 L210.2 271.9 L210.3 271.7 L210.4 271.6 L210.5 271.7 L210.6 271.9 L210.7 272.3 L210.8 272.8 L210.9 273.4 L211 274.2 L211.1 275.1 L211.2 276.2 L211.3 277.4 L211.4 278.7 L211.5 280.1 L211.6 281.7 L211.7 283.3 L211.8 285 L211.9 286.9 L212 288.8 L212.1 290.8 L212.2 292.9 L212.3 295 L212.4 297.2 L212.5 299.5 L212.6 301.8 L212.7 304.2 L212.8 306.5 L212.9 308.9 L213 311.4 L213.1 313.8 L213.2 316.2 L213.3 318.6 L213.4 321.1 L213.5 323.5 L213.6 325.8 L213.7 328.2 L213.8 330.4 L213.9 332.7 L214 334.9 L214.1 337 L214.2 339.1 L214.3 341.1 L214.4 343 L214.5 344.9 L214.6 346.6 L214.7 348.3 L214.8 349.9 L214.9 351.4 L215 352.7 L215.1 354 L215.2 355.2 L215.3 356.3 L215.4 357.2 L215.5 358.1 L215.6 358.8 L215.7 359.5 L215.8 360 L215.9 360.4 L216 360.7 L216.1 360.8 L216.2 360.9 L216.3 360.8 L216.4 360.7 L216.5 360.4 L216.6 360 L216.7 359.6 L216.8 359 L216.9 358.3 L217 357.5 L217.1 356.6 L217.2 355.7 L217.3 354.6 L217.4 353.5 L217.5 352.2 L217.6 350.9 L217.7 349.5 L217.8 348.1 L217.9 346.6 L218 345 L218.1 343.4 L218.2 341.7 L218.3 340 L218.4 338.2 L218.5 336.4 L218.6 334.6 L218.7 332.7 L218.8 330.8 L218.9 328.8 L219 326.9 L219.1 324.9 L219.2 323 L219.3 321 L219.4 319 L219.5 317.1 L219.6 315.1 L219.7 313.2 L219.8 311.2 L219.9 309.3 L220 307.4 L220.1 305.6 L220.2 303.7 L220.3 301.9 L220.4 300.2 L220.5 298.4 L220.6 296.8 L220.7 295.1 L220.8 293.5 L220.9 291.9 L221 290.4 L221.1 289 L221.2 287.6 L221.3 286.2 L221.4 284.9 L221.5 283.7 L221.6 282.5 L221.7 281.4 L221.8 280.4 L221.9 279.4 L222 278.4 L222.1 277.6 L222.2 276.7 L222.3 276 L222.4 275.3 L222.5 274.7 L222.6 274.1 L222.7 273.6 L222.8 273.2 L222.9 272.8 L223 272.5 L223.1 272.2 L223.2 272.1 L223.3 271.9 L223.4 271.8 L223.5 271.8 L223.8 271.8 L224.1 272.4 L224.3 273.1 L224.6 273.8 L224.8 274.6 L225.1 275.5 L225.3 276.3 L225.6 277.3 L225.8 278.2 L226.1 279.2 L226.3 280.3 L226.6 281.4 L226.8 282.6 L227.1 283.9 L227.3 285.2 L227.6 286.6 L227.8 288 L228.1 289.4 L228.3 290.9 L228.6 292.4 L228.8 294 L229.1 295.7 L229.3 297.5 L229.6 299.3 L229.8 301.1 L230.1 303 L230.3 305 L230.6 306.9 L230.8 308.8 L231.1 310.8 L231.3 312.7 L231.6 314.5 L231.8 316.4 L232.1 318.2 L232.3 319.9 L232.6 321.7 L232.8 323.5 L233.1 325.3 L233.3 327.1 L233.6 328.8 L233.8 330.6 L234.1 332.3 L234.3 334.1 L234.6 335.7 L234.8 337.3 L235.1 338.9 L235.3 340.3 L235.6 341.7 L235.8 343 L236.1 344.3 L236.3 345.5 L236.6 346.8 L236.8 348.1 L237.1 349.3 L237.3 350.5 L237.6 351.6 L237.8 352.7 L238.1 353.8 L238.3 354.7 L238.6 355.6 L238.8 356.3 L239.1 357 L239.3 357.5 L239.6 357.9 L239.8 358.2 L240.1 358.5 L240.3 358.8 L240.6 359 L240.8 359.3 L241.1 359.5 L241.3 359.7 L241.6 359.9 L241.8 360.1 L242.1 360.3 L242.3 360.4 L242.6 360.5 L242.8 360.6 L243.1 360.6 L243.3 360.7 L243.6 360.7 L243.8 360.7 L244.1 360.8 L244.3 360.8 L244.6 360.8 L244.8 360.8 L245.1 360.9 L245.3 360.9 L245.6 360.9 L245.8 360.9 L246.1 360.9 L246.3 360.9 L246.6 360.9 L246.8 360.9 L247.1 360.9 L247.3 360.9 L247.6 360.9 L247.8 360.9 L248.1 360.9 L248.3 360.9 L248.6 360.9 L248.8 360.9 L249.1 360.9 L249.3 360.9 L249.6 360.9 L249.8 360.9 L250.1 360.9 L250.3 360.9 L250.6 360.9 L250.8 360.9 L251.1 360.9 L251.3 360.9 L251.6 360.9 L251.8 360.9 L252.1 360.9 L252.3 360.9 L252.6 360.9 L252.8 360.9 L253.1 360.9 L253.3 360.9 L253.6 360.9 L253.8 360.9 L254.1 360.9 L254.3 360.9 L254.6 360.9 L254.8 360.9 L255.1 360.9 L255.3 360.9" fill="none" stroke="#2a3ac8" stroke-width="1.6" stroke-linejoin="round" clip-path="url(#cbl)"/>
<path d="M42 360.9 L42.2 360.9 L42.5 360.9 L42.8 360.9 L43 360.9 L43.2 360.9 L43.5 360.9 L43.8 360.9 L44 360.9 L44.2 360.9 L44.5 360.9 L44.8 360.9 L45 360.9 L45.2 360.9 L45.5 360.9 L45.8 360.9 L46 360.9 L46.2 360.8 L46.5 360.8 L46.8 360.8 L47 360.8 L47.2 360.8 L47.5 360.8 L47.8 360.8 L48 360.8 L48.2 360.8 L48.5 360.8 L48.8 360.8 L49 360.8 L49.2 360.7 L49.5 360.7 L49.8 360.7 L50 360.7 L50.2 360.7 L50.5 360.6 L50.8 360.6 L51 360.5 L51.2 360.4 L51.5 360.3 L51.8 360.2 L52 360 L52.2 359.9 L52.5 359.7 L52.8 359.5 L53 359.3 L53.2 359 L53.5 358.6 L53.8 358.1 L54 357.5 L54.2 356.9 L54.5 356.3 L54.8 355.6 L55 355 L55.2 354.3 L55.5 353.6 L55.8 352.9 L56 352.1 L56.2 351.3 L56.5 350.4 L56.8 349.6 L57 348.8 L57.2 348 L57.5 347.2 L57.8 346.4 L58 345.6 L58.2 344.8 L58.5 344 L58.8 343.3 L59 342.5 L59.2 341.8 L59.5 341 L59.8 340.3 L60 339.6 L60.2 338.9 L60.5 338.3 L60.8 337.7 L61 337.1 L61.2 336.4 L61.5 335.8 L61.8 335.4 L62 335 L62.2 334.7 L62.5 334.5 L62.8 334.2 L63 334 L63.2 333.9 L63.5 333.7 L63.8 333.6 L64 333.6 L64.2 333.7 L64.5 334 L64.8 334.4 L65 334.9 L65.2 335.4 L65.5 335.8 L65.8 336.1 L66 336.2 L66.2 336.2 L66.5 336.1 L66.8 336 L67 335.9 L67.2 335.7 L67.5 335.5 L67.8 335.2 L68 334.7 L68.2 334 L68.5 333.3 L68.8 332.4 L69 331.6 L69.2 330.8 L69.5 330 L69.8 329.3 L70 328.5 L70.2 327.7 L70.5 327 L70.8 326.2 L71 325.4 L71.2 324.6 L71.5 323.9 L71.8 323.1 L72 322.4 L72.2 321.8 L72.5 321.1 L72.8 320.3 L73 319.6 L73.2 318.9 L73.5 318.2 L73.8 317.6 L74 317.1 L74.2 316.7 L74.5 316.5 L74.8 316.5 L75 316.6 L75.2 316.8 L75.5 317 L75.8 317.3 L76 317.6 L76.2 317.9 L76.5 318.4 L76.8 319.2 L77 320.3 L77.2 321.5 L77.5 322.9 L77.8 324.5 L78 326.6 L78.2 329 L78.5 331.8 L78.8 334.6 L79 337.4 L79.2 340.1 L79.5 342.8 L79.8 345.4 L80 348.1 L80.2 350.8 L81.4 358.5 L81.5 359.1 L81.6 359.6 L81.7 360.1 L81.8 360.4 L81.9 360.7 L82 360.8 L82.1 360.9 L82.2 360.8 L82.3 360.7 L82.4 360.4 L82.5 360 L82.6 359.6 L82.7 359 L82.8 358.2 L82.9 357.4 L83 356.5 L83.1 355.4 L83.2 354.3 L83.3 353 L83.4 351.6 L83.5 350.1 L83.6 348.5 L83.7 346.9 L83.8 345.1 L83.9 343.2 L84 341.2 L84.1 339.2 L84.2 337.1 L84.3 334.9 L84.4 332.6 L84.5 330.3 L84.6 327.9 L84.7 325.4 L84.8 323 L84.9 320.5 L85 317.9 L85.1 315.4 L85.2 312.8 L85.3 310.3 L85.4 307.7 L85.5 305.2 L85.6 302.7 L85.7 300.3 L85.8 297.9 L85.9 295.5 L86 293.2 L86.1 291 L86.2 288.9 L86.3 286.8 L86.4 284.9 L86.5 283.1 L86.6 281.4 L86.7 279.8 L86.8 278.4 L86.9 277.1 L87 275.9 L87.1 274.9 L87.2 274.1 L87.3 273.4 L87.4 272.9 L87.5 272.6 L87.6 272.5 L87.7 272.5 L87.8 272.8 L87.9 273.2 L88 273.7 L88.1 274.5 L88.2 275.5 L88.3 276.6 L88.4 277.9 L88.5 279.4 L88.6 281.1 L88.7 282.9 L88.8 284.8 L88.9 287 L89 289.2 L89.1 291.6 L89.2 294.1 L89.3 296.7 L89.4 299.4 L89.5 302.2 L89.6 305.1 L89.7 308.1 L89.8 311 L89.9 314.1 L90 317.1 L90.1 320.2 L90.2 323.2 L90.3 326.2 L90.4 329.2 L90.5 332.1 L90.6 335 L90.7 337.8 L90.8 340.4 L90.9 343 L91 345.5 L91.1 347.8 L91.2 349.9 L91.3 351.9 L91.4 353.7 L91.5 355.4 L91.6 356.8 L91.7 358 L91.8 359.1 L91.9 359.9 L92 360.4 L92.1 360.8 L92.2 360.9 L92.3 360.8 L92.4 360.4 L92.5 359.8 L92.6 359 L92.7 357.9 L92.8 356.5 L92.9 355 L93 353.1 L93.1 351.1 L93.2 348.8 L93.3 346.3 L93.4 343.6 L93.5 340.7 L93.6 337.7 L93.7 334.5 L93.8 331.1 L93.9 327.6 L94 324.1 L94.1 320.4 L94.2 316.7 L94.3 313 L94.4 309.3 L94.5 305.6 L94.6 301.9 L94.7 298.4 L94.8 294.9 L94.9 291.6 L95 288.4 L95.1 285.4 L95.2 282.6 L95.3 280.1 L95.4 277.8 L95.5 275.7 L95.6 274 L95.7 272.5 L95.8 271.4 L95.9 270.6 L96 270.2 L96.1 270.1 L96.2 270.3 L96.3 270.9 L96.4 271.8 L96.5 273.1 L96.6 274.7 L96.7 276.6 L96.8 278.8 L96.9 281.3 L97 284.1 L97.1 287.1 L97.2 290.4 L97.3 293.9 L97.4 297.5 L97.5 301.3 L97.6 305.2 L97.7 309.2 L97.8 313.3 L97.9 317.4 L98 321.4 L98.1 325.4 L98.2 329.4 L98.3 333.2 L98.4 336.9 L98.5 340.4 L98.6 343.7 L98.7 346.8 L98.8 349.6 L98.9 352.2 L99 354.4 L99.1 356.4 L99.2 358 L99.3 359.3 L99.4 360.2 L99.5 360.7 L99.6 360.9 L99.7 360.7 L99.8 360.2 L99.9 359.3 L100 358 L100.1 356.4 L100.2 354.4 L100.3 352.1 L100.4 349.5 L100.5 346.6 L100.6 343.5 L100.7 340.1 L100.8 336.4 L100.9 332.6 L101 328.6 L101.1 324.5 L101.2 320.3 L101.3 316.1 L101.4 311.8 L101.5 307.5 L101.6 303.2 L101.7 299 L101.8 294.9 L101.9 291 L102 287.3 L102.1 283.7 L102.2 280.4 L102.3 277.4 L102.4 274.6 L102.5 272.2 L102.6 270.1 L102.7 268.4 L102.8 267 L102.9 266.1 L103 265.5 L103.1 265.3 L103.2 265.6 L103.3 266.3 L103.4 267.3 L103.5 268.8 L103.6 270.7 L103.7 272.9 L103.8 275.5 L103.9 278.4 L104 281.6 L104.1 285.1 L104.2 288.8 L104.3 292.8 L104.4 296.9 L104.5 301.2 L104.6 305.6 L104.7 310.1 L104.8 314.7 L104.9 319.2 L105 323.6 L105.1 328 L105.2 332.3 L105.3 336.4 L105.4 340.3 L105.5 343.9 L105.6 347.3 L105.7 350.3 L105.8 353 L105.9 355.4 L106 357.3 L106.1 358.9 L106.2 360 L106.3 360.7 L106.4 360.9 L106.5 360.7 L106.6 360 L106.7 358.9 L106.8 357.3 L106.9 355.3 L107 352.9 L107.1 350.2 L107.2 347.1 L107.3 343.6 L107.4 339.9 L107.5 335.9 L107.6 331.6 L107.7 327.2 L107.8 322.7 L107.9 318 L108 313.3 L108.1 308.6 L108.2 303.9 L108.3 299.3 L108.4 294.9 L108.5 290.6 L108.6 286.5 L108.7 282.6 L108.8 279.1 L108.9 275.9 L109 273 L109.1 270.5 L109.2 268.5 L109.3 266.9 L109.4 265.8 L109.5 265.1 L109.6 265 L109.7 265.3 L109.8 266.1 L109.9 267.4 L110 269.2 L110.1 271.4 L110.2 274.1 L110.3 277.3 L110.4 280.8 L110.5 284.7 L110.6 288.9 L110.7 293.4 L110.8 298.1 L110.9 303 L111 308.1 L111.1 313.2 L111.2 318.4 L111.3 323.5 L111.4 328.5 L111.5 333.4 L111.6 338 L111.7 342.4 L111.8 346.4 L111.9 350.1 L112 353.2 L112.1 355.9 L112.2 358.1 L112.3 359.6 L112.4 360.6 L112.5 360.9 L112.6 360.6 L112.7 359.6 L112.8 357.9 L112.9 355.6 L113 352.6 L113.1 349 L113.2 344.8 L113.3 340 L113.4 334.8 L113.5 329.2 L113.6 323.2 L113.7 317 L113.8 310.7 L113.9 304.3 L114 297.9 L114.1 291.8 L114.2 285.8 L114.3 280.3 L114.4 275.2 L114.5 270.7 L114.6 266.9 L114.7 263.7 L114.8 261.4 L114.9 259.9 L115 259.2 L115.1 259.4 L115.2 260.5 L115.3 262.5 L115.4 265.3 L115.5 268.9 L115.6 273.2 L115.7 278.2 L115.8 283.7 L115.9 289.7 L116 296.1 L116.1 302.7 L116.2 309.4 L116.3 316.2 L116.4 322.8 L116.5 329.2 L116.6 335.3 L116.7 340.9 L116.8 345.9 L116.9 350.4 L117 354.1 L117.1 357 L117.2 359.2 L117.3 360.5 L117.4 360.9 L117.5 360.5 L117.6 359.2 L117.7 357.1 L117.8 354.2 L117.9 350.6 L118 346.4 L118.1 341.6 L118.2 336.3 L118.3 330.7 L118.4 324.8 L118.5 318.8 L118.6 312.8 L118.7 307 L118.8 301.3 L118.9 296 L119 291 L119.1 286.5 L119.2 282.6 L119.3 279.2 L119.4 276.3 L119.5 274.1 L119.6 272.4 L119.7 271.4 L119.8 271 L119.9 271.2 L120 272 L120.1 273.4 L120.2 275.4 L120.3 278.1 L120.4 281.3 L120.5 285.2 L120.6 289.6 L120.7 294.4 L120.8 299.8 L120.9 305.4 L121 311.3 L121.1 317.4 L121.2 323.5 L121.3 329.5 L121.4 335.3 L121.5 340.7 L121.6 345.7 L121.7 350.1 L121.8 353.9 L121.9 356.9 L122 359.1 L122.1 360.4 L122.2 360.9 L122.3 360.4 L122.4 359.1 L122.5 356.9 L122.6 353.9 L122.7 350 L122.8 345.5 L122.9 340.4 L123 334.7 L123.1 328.6 L123.2 322.1 L123.3 315.5 L123.4 308.7 L123.5 301.9 L123.6 295.2 L123.7 288.8 L123.8 282.7 L123.9 277 L124 271.9 L124.1 267.4 L124.2 263.5 L124.3 260.5 L124.4 258.3 L124.5 257 L124.6 256.5 L124.7 257 L124.8 258.3 L124.9 260.5 L125 263.6 L125.1 267.5 L125.2 272.2 L125.3 277.5 L125.4 283.4 L125.5 289.7 L125.6 296.5 L125.7 303.4 L125.8 310.5 L125.9 317.6 L126 324.6 L126.1 331.2 L126.2 337.5 L126.3 343.3 L126.4 348.4 L126.5 352.7 L126.6 356.2 L126.7 358.8 L126.8 360.4 L126.9 360.9 L127 360.4 L127.1 358.7 L127.2 356 L127.3 352.3 L127.4 347.5 L127.5 341.8 L127.6 335.4 L127.7 328.3 L127.8 320.7 L127.9 312.7 L128 304.7 L128.1 296.6 L128.2 288.8 L128.3 281.5 L128.4 274.8 L128.5 268.8 L128.6 263.9 L128.7 260 L128.8 257.3 L128.9 255.8 L129 255.7 L129.1 256.8 L129.2 259.2 L129.3 262.9 L129.4 267.6 L129.5 273.4 L129.6 280 L129.7 287.3 L129.8 295 L129.9 303.1 L130 311.3 L130.1 319.4 L130.2 327.1 L130.3 334.4 L130.4 341.1 L130.5 346.9 L130.6 351.9 L130.7 355.8 L130.8 358.6 L130.9 360.3 L131 360.9 L131.1 360.3 L131.2 358.7 L131.3 356 L131.4 352.3 L131.5 347.7 L131.6 342.4 L131.7 336.4 L131.8 329.9 L131.9 322.9 L132 315.7 L132.1 308.4 L132.2 301.1 L132.3 293.9 L132.4 287 L132.5 280.6 L132.6 274.6 L132.7 269.3 L132.8 264.8 L132.9 261 L133 258.1 L133.1 256.2 L133.2 255.2 L133.3 255.2 L133.4 256.2 L133.5 258.1 L133.6 261 L133.7 264.8 L133.8 269.3 L133.9 274.6 L134 280.6 L134.1 287 L134.2 293.9 L134.3 301.1 L134.4 308.4 L134.5 315.7 L134.6 322.9 L134.7 329.9 L134.8 336.4 L134.9 342.4 L135 347.7 L135.1 352.3 L135.2 356 L135.3 358.7 L135.4 360.3 L135.5 360.9 L135.6 360.3 L135.7 358.6 L135.8 355.8 L135.9 352 L136 347.1 L136.1 341.4 L136.2 334.9 L136.3 327.8 L136.4 320.2 L136.5 312.4 L136.6 304.4 L136.7 296.4 L136.8 288.7 L136.9 281.5 L137 274.8 L137.1 269 L137.2 264 L137.3 260 L137.4 257.2 L137.5 255.6 L137.6 255.2 L137.7 256.1 L137.8 258.3 L137.9 261.6 L138 266.1 L138.1 271.5 L138.2 277.9 L138.3 285 L138.4 292.6 L138.5 300.7 L138.6 308.9 L138.7 317.1 L138.8 325 L138.9 332.6 L139 339.6 L139.1 345.8 L139.2 351.1 L139.3 355.3 L139.4 358.4 L139.5 360.3 L139.6 360.9 L139.7 360.3 L139.8 358.4 L139.9 355.4 L140 351.3 L140.1 346.2 L140.2 340.3 L140.3 333.7 L140.4 326.7 L140.5 319.4 L140.6 312.1 L140.7 304.9 L140.8 298.1 L140.9 291.7 L141 285.9 L141.1 280.9 L141.2 276.7 L141.3 273.3 L141.4 271 L141.5 269.5 L141.6 269.1 L141.7 269.7 L141.8 271.2 L141.9 273.8 L142 277.2 L142.1 281.5 L142.2 286.6 L142.3 292.4 L142.4 298.8 L142.5 305.7 L142.6 312.8 L142.7 320.1 L142.8 327.3 L142.9 334.2 L143 340.7 L143.1 346.5 L143.2 351.5 L143.3 355.5 L143.4 358.5 L143.5 360.3 L143.6 360.9 L143.7 360.3 L143.8 358.5 L143.9 355.5 L144 351.5 L144.1 346.5 L144.2 340.7 L144.3 334.1 L144.4 327 L144.5 319.5 L144.6 311.8 L144.7 304 L144.8 296.4 L144.9 288.9 L145 282 L145.1 275.6 L145.2 269.9 L145.3 265 L145.4 261.1 L145.5 258.2 L145.6 256.4 L145.7 255.7 L145.8 256.1 L145.9 257.6 L146 260.2 L146.1 263.9 L146.2 268.6 L146.3 274.1 L146.4 280.4 L146.5 287.3 L146.6 294.7 L146.7 302.4 L146.8 310.3 L146.9 318.1 L147 325.8 L147.1 333.1 L147.2 339.8 L147.3 345.9 L147.4 351 L147.5 355.3 L147.6 358.4 L147.7 360.3 L147.8 360.9 L147.9 360.2 L148 358.3 L148.1 355.1 L148.2 350.6 L148.3 345.1 L148.4 338.6 L148.5 331.3 L148.6 323.3 L148.7 314.9 L148.8 306.3 L148.9 297.7 L149 289.4 L149.1 281.6 L149.2 274.5 L149.3 268.4 L149.4 263.3 L149.5 259.4 L149.6 256.9 L149.7 255.8 L149.8 256.2 L149.9 258.1 L150 261.4 L150.1 266 L150.2 271.8 L150.3 278.6 L150.4 286.3 L150.5 294.6 L150.6 303.2 L150.7 312.1 L150.8 320.8 L150.9 329.1 L151 336.9 L151.1 343.8 L151.2 349.8 L151.3 354.6 L151.4 358.1 L151.5 360.2 L151.6 360.9 L151.7 360.2 L151.8 358.1 L151.9 354.7 L152 350.1 L152.1 344.5 L152.2 338 L152.3 330.8 L152.4 323.3 L152.5 315.5 L152.6 307.9 L152.7 300.4 L152.8 293.5 L152.9 287.2 L153 281.8 L153.1 277.2 L153.2 273.7 L153.3 271.2 L153.4 269.8 L153.5 269.5 L153.6 270.4 L153.7 272.3 L153.8 275.3 L153.9 279.3 L154 284.3 L154.1 290 L154.2 296.4 L154.3 303.4 L154.4 310.7 L154.5 318.3 L154.6 325.7 L154.7 332.9 L154.8 339.7 L154.9 345.8 L155 351 L155.1 355.2 L155.2 358.4 L155.3 360.3 L155.4 360.9 L155.5 360.3 L155.6 358.4 L155.7 355.3 L155.8 351 L155.9 345.7 L156 339.6 L156.1 332.7 L156.2 325.3 L156.3 317.4 L156.4 309.4 L156.5 301.4 L156.6 293.5 L156.7 286.1 L156.8 279.1 L156.9 272.9 L157 267.4 L157.1 263 L157.2 259.5 L157.3 257.2 L157.4 256 L157.5 256 L157.6 257.2 L157.7 259.5 L157.8 262.9 L157.9 267.2 L158 272.5 L158.1 278.5 L158.2 285.2 L158.3 292.3 L158.4 299.8 L158.5 307.4 L158.6 315.1 L158.7 322.6 L158.8 329.7 L158.9 336.4 L159 342.6 L159.1 347.9 L159.2 352.5 L159.3 356.1 L159.4 358.8 L159.5 360.4 L159.6 360.9 L159.7 360.4 L159.8 358.8 L159.9 356.2 L160 352.7 L160.1 348.3 L160.2 343.2 L160.3 337.4 L160.4 331 L160.5 324.3 L160.6 317.2 L160.7 310 L160.8 302.8 L160.9 295.8 L161 288.9 L161.1 282.5 L161.2 276.6 L161.3 271.2 L161.4 266.5 L161.5 262.6 L161.6 259.6 L161.7 257.4 L161.8 256.2 L161.9 255.9 L162 256.6 L162.1 258.2 L162.2 260.7 L162.3 264.1 L162.4 268.3 L162.5 273.2 L162.6 278.7 L162.7 284.8 L162.8 291.3 L162.9 298.1 L163 305.1 L163.1 312.2 L163.2 319.2 L163.3 326 L163.4 332.5 L163.5 338.6 L163.6 344.1 L163.7 349 L163.8 353.2 L163.9 356.5 L164 358.9 L164.1 360.4 L164.2 360.9 L164.3 360.4 L164.4 358.9 L164.5 356.5 L164.6 353.1 L164.7 348.9 L164.8 343.9 L164.9 338.2 L165 332 L165.1 325.3 L165.2 318.3 L165.3 311.1 L165.4 303.9 L165.5 296.7 L165.6 289.8 L165.7 283.2 L165.8 277.1 L165.9 271.6 L166 266.8 L166.1 262.8 L166.2 259.6 L166.3 257.5 L166.4 256.3 L166.5 256.1 L166.6 256.9 L166.7 258.7 L166.8 261.5 L166.9 265.2 L167 269.8 L167.1 275.1 L167.2 281.1 L167.3 287.6 L167.4 294.6 L167.5 301.8 L167.6 309.1 L167.7 316.5 L167.8 323.7 L167.9 330.6 L168 337.1 L168.1 343 L168.2 348.2 L168.3 352.6 L168.4 356.2 L168.5 358.8 L168.6 360.4 L168.7 360.9 L168.8 360.4 L168.9 358.8 L169 356.1 L169.1 352.5 L169.2 348 L169.3 342.6 L169.4 336.5 L169.5 329.8 L169.6 322.6 L169.7 315.2 L169.8 307.6 L169.9 300 L170 292.6 L170.1 285.5 L170.2 279 L170.3 273.1 L170.4 267.9 L170.5 263.7 L170.6 260.4 L170.7 258.2 L170.8 257.1 L170.9 257.2 L171 258.3 L171.1 260.6 L171.2 263.9 L171.3 268.2 L171.4 273.4 L171.5 279.3 L171.6 285.9 L171.7 293 L171.8 300.4 L171.9 307.9 L172 315.5 L172.1 322.9 L172.2 330.1 L172.3 336.7 L172.4 342.8 L172.5 348.1 L172.6 352.6 L172.7 356.2 L172.8 358.8 L172.9 360.4 L173 360.9 L173.1 360.4 L173.2 358.8 L173.3 356.2 L173.4 352.7 L173.5 348.3 L173.6 343.1 L173.7 337.2 L173.8 330.7 L173.9 323.8 L174 316.6 L174.1 309.3 L174.2 302 L174.3 294.8 L174.4 288 L174.5 281.6 L174.6 275.8 L174.7 270.7 L174.8 266.4 L174.9 263 L175 260.5 L175.1 259 L175.2 258.6 L175.3 259.1 L175.4 260.7 L175.5 263.2 L175.6 266.7 L175.7 271 L175.8 276 L175.9 281.6 L176 287.8 L176.1 294.4 L176.2 301.2 L176.3 308.2 L176.4 315.2 L176.5 322.1 L176.6 328.7 L176.7 334.9 L176.8 340.6 L176.9 345.8 L177 350.3 L177.1 354.1 L177.2 357 L177.3 359.2 L177.4 360.5 L177.5 360.9 L177.6 360.5 L177.7 359.2 L177.8 357.2 L177.9 354.3 L178 350.8 L178.1 346.7 L178.2 342 L178.3 336.8 L178.4 331.2 L178.5 325.4 L178.6 319.3 L178.7 313.1 L178.8 306.9 L178.9 300.8 L179 294.8 L179.1 289.1 L179.2 283.8 L179.3 278.8 L179.4 274.4 L179.5 270.5 L179.6 267.1 L179.7 264.5 L179.8 262.5 L179.9 261.2 L180 260.6 L180.1 260.7 L180.2 261.5 L180.3 263 L180.4 265.2 L180.5 268 L180.6 271.4 L180.7 275.4 L180.8 279.8 L180.9 284.7 L181 289.9 L181.1 295.4 L181.2 301.1 L181.3 307 L181.4 312.9 L181.5 318.7 L181.6 324.5 L181.7 330 L181.8 335.3 L181.9 340.3 L182 344.8 L182.1 348.9 L182.2 352.5 L182.3 355.4 L182.4 357.8 L182.5 359.5 L182.6 360.6 L182.7 360.9 L182.8 360.6 L182.9 359.5 L183 357.8 L183.1 355.4 L183.2 352.4 L183.3 348.8 L183.4 344.7 L183.5 340.1 L183.6 335.1 L183.7 329.8 L183.8 324.2 L183.9 318.5 L184 312.6 L184.1 306.8 L184.2 301 L184.3 295.3 L184.4 289.9 L184.5 284.8 L184.6 280.1 L184.7 275.8 L184.8 272 L184.9 268.8 L185 266.2 L185.1 264.2 L185.2 262.9 L185.3 262.3 L185.4 262.3 L185.5 263 L185.6 264.4 L185.7 266.4 L185.8 269 L185.9 272.2 L186 276 L186.1 280.2 L186.2 284.8 L186.3 289.8 L186.4 295 L186.5 300.5 L186.6 306 L186.7 311.7 L186.8 317.3 L186.9 322.9 L187 328.2 L187.1 333.4 L187.2 338.2 L187.3 342.7 L187.4 346.8 L187.5 350.4 L187.6 353.6 L187.7 356.2 L187.8 358.2 L187.9 359.7 L188 360.6 L188.1 360.9 L188.2 360.6 L188.3 359.7 L188.4 358.3 L188.5 356.3 L188.6 353.8 L188.7 350.8 L188.8 347.3 L188.9 343.4 L189 339.2 L189.1 334.6 L189.2 329.8 L189.3 324.8 L189.4 319.7 L189.5 314.5 L189.6 309.2 L189.7 304 L189.8 298.9 L189.9 294 L190 289.2 L190.1 284.7 L190.2 280.6 L190.3 276.8 L190.4 273.4 L190.5 270.4 L190.6 267.9 L190.7 265.9 L190.8 264.3 L190.9 263.3 L191 262.9 L191.1 262.9 L191.2 263.5 L191.3 264.6 L191.4 266.2 L191.5 268.3 L191.6 270.8 L191.7 273.8 L191.8 277.1 L191.9 280.8 L192 284.8 L192.1 289.1 L192.2 293.6 L192.3 298.2 L192.4 303 L192.5 307.9 L192.6 312.8 L192.7 317.6 L192.8 322.4 L192.9 327.1 L193 331.6 L193.1 335.9 L193.2 340 L193.3 343.7 L193.4 347.2 L193.5 350.3 L193.6 353.1 L193.7 355.4 L193.8 357.4 L193.9 358.9 L194 360 L194.1 360.7 L194.2 360.9 L194.3 360.7 L194.4 360 L194.5 359 L194.6 357.5 L194.7 355.6 L194.8 353.3 L194.9 350.7 L195 347.8 L195.1 344.6 L195.2 341 L195.3 337.3 L195.4 333.4 L195.5 329.2 L195.6 325 L195.7 320.6 L195.8 316.2 L195.9 311.8 L196 307.4 L196.1 303.1 L196.2 298.8 L196.3 294.7 L196.4 290.7 L196.5 286.9 L196.6 283.4 L196.7 280.1 L196.8 277.1 L196.9 274.3 L197 271.9 L197.1 269.9 L197.2 268.1 L197.3 266.8 L197.4 265.8 L197.5 265.2 L197.6 264.9 L197.7 265 L197.8 265.5 L197.9 266.4 L198 267.6 L198.1 269.2 L198.2 271.1 L198.3 273.3 L198.4 275.8 L198.5 278.6 L198.6 281.6 L198.7 284.8 L198.8 288.2 L198.9 291.8 L199 295.6 L199.1 299.4 L199.2 303.4 L199.3 307.3 L199.4 311.3 L199.5 315.3 L199.6 319.3 L199.7 323.2 L199.8 327.1 L199.9 330.8 L200 334.3 L200.1 337.8 L200.2 341 L200.3 344.1 L200.4 346.9 L200.5 349.5 L200.6 351.9 L200.7 354 L200.8 355.8 L200.9 357.3 L201 358.6 L201.1 359.6 L201.2 360.3 L201.3 360.8 L201.4 360.9 L201.5 360.8 L201.6 360.3 L201.7 359.7 L201.8 358.7 L201.9 357.5 L202 356 L202.1 354.3 L202.2 352.4 L202.3 350.2 L202.4 347.9 L202.5 345.4 L202.6 342.7 L202.7 339.8 L202.8 336.8 L202.9 333.7 L203 330.6 L203.1 327.3 L203.2 324 L203.3 320.6 L203.4 317.3 L203.5 313.9 L203.6 310.5 L203.7 307.3 L203.8 304 L203.9 300.8 L204 297.8 L204.1 294.8 L204.2 292 L204.3 289.3 L204.4 286.8 L204.5 284.4 L204.6 282.2 L204.7 280.2 L204.8 278.4 L204.9 276.8 L205 275.4 L205.1 274.3 L205.2 273.3 L205.3 272.6 L205.4 272.1 L205.5 271.9 L205.6 271.9 L205.7 272.1 L205.8 272.5 L205.9 273.1 L206 274 L206.1 275.1 L206.2 276.3 L206.3 277.8 L206.4 279.4 L206.5 281.2 L206.6 283.2 L206.7 285.3 L206.8 287.6 L206.9 290 L207 292.5 L207.1 295.1 L207.2 297.8 L207.3 300.6 L207.4 303.4 L207.5 306.3 L207.6 309.2 L207.7 312.1 L207.8 315 L207.9 318 L208 320.9 L208.1 323.7 L208.2 326.6 L208.3 329.3 L208.4 332 L208.5 334.6 L208.6 337.2 L208.7 339.6 L208.8 342 L208.9 344.2 L209 346.3 L209.1 348.3 L209.2 350.1 L209.3 351.8 L209.4 353.4 L209.5 354.8 L209.6 356.1 L209.7 357.2 L209.8 358.2 L209.9 359 L210 359.7 L210.1 360.2 L210.2 360.6 L210.3 360.8 L210.4 360.9 L210.5 360.8 L210.6 360.6 L210.7 360.3 L210.8 359.8 L210.9 359.1 L211 358.4 L211.1 357.5 L211.2 356.4 L211.3 355.3 L211.4 354 L211.5 352.6 L211.6 351.1 L211.7 349.5 L211.8 347.8 L211.9 346 L212 344.2 L212.1 342.2 L212.2 340.2 L212.3 338.1 L212.4 336 L212.5 333.8 L212.6 331.5 L212.7 329.2 L212.8 326.9 L212.9 324.6 L213 322.3 L213.1 319.9 L213.2 317.5 L213.3 315.2 L213.4 312.9 L213.5 310.5 L213.6 308.3 L213.7 306 L213.8 303.8 L213.9 301.6 L214 299.5 L214.1 297.4 L214.2 295.4 L214.3 293.5 L214.4 291.6 L214.5 289.9 L214.6 288.2 L214.7 286.6 L214.8 285 L214.9 283.6 L215 282.3 L215.1 281 L215.2 279.9 L215.3 278.9 L215.4 278 L215.5 277.1 L215.6 276.4 L215.7 275.8 L215.8 275.4 L215.9 275 L216 274.7 L216.1 274.5 L216.2 274.5 L216.3 274.6 L216.4 274.7 L216.5 275 L216.6 275.4 L216.7 275.8 L216.8 276.4 L216.9 277.1 L217 277.9 L217.1 278.7 L217.2 279.7 L217.3 280.7 L217.4 281.8 L217.5 283 L217.6 284.3 L217.7 285.6 L217.8 287 L217.9 288.5 L218 290 L218.1 291.6 L218.2 293.2 L218.3 294.9 L218.4 296.7 L218.5 298.4 L218.6 300.2 L218.7 302 L218.8 303.9 L218.9 305.7 L219 307.6 L219.1 309.5 L219.2 311.4 L219.3 313.3 L219.4 315.2 L219.5 317.1 L219.6 319 L219.7 320.9 L219.8 322.8 L219.9 324.6 L220 326.5 L220.1 328.3 L220.2 330 L220.3 331.8 L220.4 333.5 L220.5 335.2 L220.6 336.8 L220.7 338.4 L220.8 339.9 L220.9 341.5 L221 342.9 L221.1 344.3 L221.2 345.7 L221.3 347 L221.4 348.2 L221.5 349.4 L221.6 350.5 L221.7 351.6 L221.8 352.6 L221.9 353.6 L222 354.5 L222.1 355.3 L222.2 356.1 L222.3 356.8 L222.6 359 L222.8 357.9 L223.1 356.7 L223.3 355.6 L223.6 354.4 L223.8 353.2 L224.1 352 L224.3 350.7 L224.6 349.5 L224.8 348.3 L225.1 347 L225.3 345.7 L225.6 344.4 L225.8 343.1 L226.1 341.8 L226.3 340.5 L226.6 339.1 L226.8 337.7 L227.1 336.3 L227.3 334.8 L227.6 333.2 L227.8 331.6 L228.1 329.9 L228.3 328.2 L228.6 326.4 L228.8 324.6 L229.1 322.9 L229.3 321.1 L229.6 319.3 L229.8 317.6 L230.1 315.9 L230.3 314.3 L230.6 312.8 L230.8 311.4 L231.1 310 L231.3 308.7 L231.6 307.4 L231.8 306 L232.1 304.8 L232.3 303.5 L232.6 302.3 L232.8 301.1 L233.1 300 L233.3 298.9 L233.6 297.8 L233.8 296.8 L234.1 295.8 L234.3 294.9 L234.6 294 L234.8 293.2 L235.1 292.3 L235.3 291.5 L235.6 290.8 L235.8 290 L236.1 289.3 L236.3 288.6 L236.6 287.9 L236.8 287.2 L237.1 286.6 L237.3 286 L237.6 285.5 L237.8 284.9 L238.1 284.5 L238.3 284 L238.6 283.6 L238.8 283.2 L239.1 282.7 L239.3 282.3 L239.6 281.9 L239.8 281.5 L240.1 281.2 L240.3 280.8 L240.6 280.5 L240.8 280.1 L241.1 279.8 L241.3 279.5 L241.6 279.2 L241.8 279 L242.1 278.7 L242.3 278.5 L242.6 278.3 L242.8 278.2 L243.1 278 L243.3 277.9 L243.6 277.8 L243.8 277.7 L244.1 277.6 L244.3 277.5 L244.6 277.4 L244.8 277.3 L245.1 277.3 L245.3 277.2 L245.6 277.1 L245.8 277 L246.1 277 L246.3 276.9 L246.6 276.9 L246.8 276.8 L247.1 276.8 L247.3 276.7 L247.6 276.7 L247.8 276.7 L248.1 276.7 L248.3 276.7 L248.6 276.7 L248.8 276.7 L249.1 276.8 L249.3 276.8 L249.6 276.9 L249.8 276.9 L250.1 277 L250.3 277 L250.6 277.1 L250.8 277.2 L251.1 277.3 L251.3 277.3 L251.6 277.4 L251.8 277.5 L252.1 277.6 L252.3 277.6 L252.6 277.7 L252.8 277.8 L253.1 277.8 L253.3 277.9 L253.6 278 L253.8 278 L254.1 278.1 L254.3 278.2 L254.6 278.2 L254.8 278.3 L255.1 278.4 L255.3 278.5" fill="none" stroke="#238c23" stroke-width="1.45" stroke-linejoin="round" clip-path="url(#cbl)"/>
<path d="M313 360.9 L313 359.7 L313.5 359.7 L314 359.7 L314.5 359.7 L315 359.7 L315.5 359.7 L316 359.7 L316.5 359.7 L317 359.7 L317.5 359.7 L318 359.6 L318.5 359.6 L319 359.6 L319.5 359.5 L320 359.5 L320.5 359.5 L321 359.4 L321.5 359.3 L322 359.3 L322.5 359.2 L323 359.2 L323.5 359.1 L324 359 L324.5 359 L325 358.9 L325.5 358.8 L326 358.7 L326.5 358.6 L327 358.5 L327.5 358.4 L328 358.3 L328.5 358.2 L329 358.1 L329.5 358 L330 357.9 L330.5 357.9 L331 357.8 L331.5 357.7 L332 357.7 L332.5 357.6 L333 357.5 L333.5 357.5 L334 357.4 L334.5 357.4 L335 357.3 L335.5 357.3 L336 357.2 L336.5 357.2 L337 357.1 L337.5 357.1 L338 357 L338.5 356.9 L339 356.9 L339.5 356.8 L340 356.8 L340.5 356.7 L341 356.7 L341.5 356.6 L342 356.6 L342.5 356.5 L343 356.5 L343.5 356.4 L344 356.4 L344.5 356.4 L345 356.3 L345.5 356.3 L346 356.3 L346.5 356.3 L347 356.3 L347.5 356.3 L348 356.3 L348.5 356.3 L349 356.3 L349.5 356.3 L350 356.3 L350.5 356.4 L351 356.4 L351.5 356.4 L352 356.4 L352.5 356.4 L353 356.5 L353.5 356.5 L354 356.5 L354.5 356.5 L355 356.6 L355.5 356.6 L356 356.6 L356.5 356.6 L357 356.7 L357.5 356.7 L358 356.7 L358.5 356.7 L359 356.8 L359.5 356.8 L360 356.8 L360.5 356.9 L361 356.9 L361.5 356.9 L362 356.9 L362.5 357 L363 357 L363.5 357 L364 357.1 L364.5 357.1 L365 357.1 L365.5 357.1 L366 357.2 L366.5 357.2 L367 357.2 L367.5 357.2 L368 357.3 L368.5 357.3 L369 357.3 L369.5 357.3 L370 357.3 L370.5 357.4 L371 357.4 L371.5 357.4 L372 357.4 L372.5 357.5 L373 357.5 L373.5 357.5 L374 357.5 L374.5 357.5 L375 357.5 L375.5 357.6 L376 357.6 L376.5 357.6 L377 357.6 L377.5 357.6 L378 357.6 L378.5 357.6 L379 357.6 L379.5 357.6 L380 357.6 L380.5 357.7 L381 357.7 L381.5 357.7 L382 357.7 L382.5 357.7 L383 357.7 L383.5 357.7 L384 357.7 L384.5 357.7 L385 357.8 L385.5 357.8 L386 357.8 L386.5 357.9 L387 357.9 L387.5 358 L388 358 L388.5 358.1 L389 358.1 L389.5 358.2 L390 358.2 L390.5 358.3 L391 358.4 L391.5 358.4 L392 358.5 L392.5 358.5 L393 358.6 L393.5 358.6 L394 358.7 L394.5 358.7 L395 358.8 L395.5 358.9 L396 358.9 L396.5 359 L397 359 L397.5 359.1 L398 359.1 L398.5 359.2 L399 359.2 L399.5 359.3 L400 359.3 L400.5 359.3 L401 359.4 L401.5 359.4 L402 359.5 L402.5 359.5 L403 359.5 L403.5 359.6 L404 359.6 L404.5 359.6 L405 359.6 L405.5 359.7 L406 359.7 L406.5 359.7 L407 359.8 L407.5 359.8 L408 359.9 L408.5 359.9 L409 359.9 L409.5 360 L410 360 L410.5 360.1 L411 360.1 L411.5 360.2 L412 360.2 L412.5 360.3 L413 360.3 L413.5 360.4 L414 360.4 L414.5 360.5 L415 360.5 L415.5 360.6 L416 360.6 L416.5 360.6 L417 360.7 L417.5 360.7 L417.5 360.9 Z" fill="#238c23" clip-path="url(#cbr)"/>
<path d="M261.4 360.9 L261.6 360.9 L261.9 360.9 L262.1 360.9 L262.4 360.9 L262.6 360.9 L262.9 360.9 L263.1 360.9 L263.4 360.9 L263.6 360.9 L263.9 360.9 L264.1 360.9 L264.4 360.9 L264.6 360.9 L264.9 360.9 L265.1 360.9 L265.4 360.9 L265.6 360.9 L265.9 360.9 L266.1 360.9 L266.4 360.9 L266.6 360.9 L266.9 360.9 L267.1 360.9 L267.4 360.9 L267.6 360.9 L267.9 360.9 L268.1 360.9 L268.4 360.9 L268.6 360.9 L268.9 360.9 L269.1 360.9 L269.4 360.9 L269.6 360.9 L269.9 360.9 L270.1 360.9 L270.4 360.9 L270.6 360.9 L270.9 360.9 L271.1 360.9 L271.4 360.9 L271.6 360.9 L271.9 360.9 L272.1 360.9 L272.4 360.9 L272.6 360.9 L272.9 360.9 L273.1 360.9 L273.4 360.9 L273.6 360.9 L273.9 360.9 L274.1 360.9 L274.4 360.9 L274.6 360.9 L274.9 360.9 L275.1 360.9 L275.4 360.9 L275.6 360.9 L275.9 360.9 L276.1 360.9 L276.4 360.9 L276.6 360.9 L276.9 360.9 L277.1 360.9 L277.4 360.9 L277.6 360.9 L277.9 360.9 L278.1 360.9 L278.4 360.9 L278.6 360.9 L278.9 360.9 L279.1 360.9 L279.4 360.9 L279.6 360.9 L279.9 360.9 L280.1 360.9 L280.4 360.9 L280.6 360.9 L280.9 360.9 L281.1 360.9 L281.4 360.9 L281.6 360.9 L281.9 360.9 L282.1 360.9 L282.4 360.9 L282.6 360.9 L282.9 360.9 L283.1 360.9 L283.4 360.9 L283.6 360.9 L283.9 360.9 L284.1 360.9 L284.4 360.9 L284.6 360.9 L284.9 360.9 L285.1 360.9 L285.4 360.9 L285.6 360.9 L285.9 360.9 L286.1 360.9 L286.4 360.9 L286.6 360.9 L286.9 360.9 L287.1 360.9 L287.4 360.9 L287.6 360.9 L287.9 360.9 L288.1 360.9 L288.4 360.9 L288.6 360.9 L288.9 360.9 L289.1 360.8 L289.4 360.8 L289.6 360.8 L289.9 360.8 L290.1 360.8 L290.4 360.8 L290.6 360.7 L290.9 360.7 L291.1 360.7 L291.4 360.6 L291.6 360.6 L291.9 360.5 L292.1 360.4 L292.4 360.2 L292.6 360.1 L292.9 360 L293.1 359.8 L293.4 359.7 L293.6 359.5 L293.9 359.3 L294.1 359.1 L294.4 358.9 L294.6 358.6 L294.9 358.4 L295.1 358.2 L295.4 357.9 L295.6 357.7 L295.9 357.5 L296.1 357.3 L296.4 357.1 L296.6 356.9 L296.9 356.7 L297.1 356.4 L297.4 356.2 L297.6 356.1 L297.9 355.9 L298.1 355.8 L298.4 355.7 L298.6 355.6 L298.9 355.6 L299.1 355.6 L299.4 355.7 L299.6 355.8 L299.9 355.9 L300.1 356 L300.4 356.1 L300.6 356.2 L300.9 356.3 L301.1 356.4 L301.4 356.6 L301.6 356.7 L301.9 356.9 L302.1 357 L302.4 357.2 L302.6 357.3 L302.9 357.4 L303.1 357.5 L303.4 357.6 L303.6 357.7 L303.9 357.8 L304.1 357.9 L304.4 358 L304.6 358 L304.9 358.1 L305.1 358.1 L305.4 358.2 L305.6 358.2 L305.9 358.2 L306.1 358.3 L306.4 358.3 L306.6 358.4 L306.9 358.4 L307.1 358.4 L307.4 358.4 L307.6 358.5 L307.9 358.5 L308.1 358.5 L308.4 358.5 L308.6 358.6 L308.9 358.6 L309.1 358.6 L309.4 358.6 L309.6 358.6 L309.9 358.6 L310.1 358.7 L310.4 358.7 L310.6 358.7 L310.9 358.7 L311.1 358.7 L311.4 358.7 L311.6 358.7 L311.9 358.8 L312.1 358.8 L312.4 358.8 L312.6 358.8 L313 360.3 L313.1 360.2 L313.2 360.2 L313.3 360.1 L313.4 360 L313.5 359.9 L313.6 359.8 L313.7 359.8 L313.8 359.7 L313.9 359.6 L314 359.5 L314.1 359.4 L314.2 359.4 L314.3 359.3 L314.4 359.2 L314.5 359.2 L314.6 359.1 L314.7 359 L314.8 359 L314.9 358.9 L315 358.9 L315.1 358.8 L315.2 358.8 L315.3 358.8 L315.4 358.8 L315.5 358.7 L315.6 358.7 L315.7 358.7 L315.8 358.7 L315.9 358.8 L316 358.8 L316.1 358.8 L316.2 358.8 L316.3 358.9 L316.4 358.9 L316.5 359 L316.6 359 L316.7 359.1 L316.8 359.2 L316.9 359.2 L317 359.3 L317.1 359.4 L317.2 359.5 L317.3 359.6 L317.4 359.7 L317.5 359.8 L317.6 359.9 L317.7 360 L317.8 360 L317.9 360.1 L318 360.2 L318.1 360.3 L318.2 360.4 L318.3 360.5 L318.4 360.5 L318.5 360.6 L318.6 360.7 L318.7 360.7 L318.8 360.8 L318.9 360.8 L319 360.9 L319.1 360.9 L319.2 360.9 L319.3 360.9 L319.4 360.9 L319.5 360.9 L319.6 360.9 L319.7 360.8 L319.8 360.8 L319.9 360.7 L320 360.7 L320.1 360.6 L320.2 360.5 L320.3 360.4 L320.4 360.3 L320.5 360.2 L320.6 360.1 L320.7 359.9 L320.8 359.8 L320.9 359.7 L321 359.5 L321.1 359.4 L321.2 359.3 L321.3 359.1 L321.4 359 L321.5 358.8 L321.6 358.7 L321.7 358.6 L321.8 358.5 L321.9 358.3 L322 358.2 L322.1 358.1 L322.2 358 L322.3 358 L322.4 357.9 L322.5 357.9 L322.6 357.8 L322.7 357.8 L322.8 357.8 L322.9 357.8 L323 357.8 L323.1 357.9 L323.2 357.9 L323.3 358 L323.4 358.1 L323.5 358.2 L323.6 358.3 L323.7 358.4 L323.8 358.6 L323.9 358.7 L324 358.9 L324.1 359 L324.2 359.2 L324.3 359.3 L324.4 359.5 L324.5 359.7 L324.6 359.8 L324.7 360 L324.8 360.1 L324.9 360.3 L325 360.4 L325.1 360.5 L325.2 360.6 L325.3 360.7 L325.4 360.8 L325.5 360.8 L325.6 360.9 L325.7 360.9 L325.8 360.9 L325.9 360.9 L326 360.8 L326.1 360.7 L326.2 360.7 L326.3 360.5 L326.4 360.4 L326.5 360.2 L326.6 360.1 L326.7 359.9 L326.8 359.6 L326.9 359.4 L327 359.2 L327.1 358.9 L327.2 358.7 L327.3 358.4 L327.4 358.1 L327.5 357.9 L327.6 357.6 L327.7 357.4 L327.8 357.1 L327.9 356.9 L328 356.7 L328.1 356.5 L328.2 356.3 L328.3 356.2 L328.4 356.1 L328.5 356 L328.6 355.9 L328.7 355.9 L328.8 355.9 L328.9 356 L329 356 L329.1 356.1 L329.2 356.3 L329.3 356.4 L329.4 356.6 L329.5 356.8 L329.6 357.1 L329.7 357.3 L329.8 357.6 L329.9 357.9 L330 358.2 L330.1 358.5 L330.2 358.8 L330.3 359.1 L330.4 359.4 L330.5 359.7 L330.6 359.9 L330.7 360.2 L330.8 360.4 L330.9 360.5 L331 360.7 L331.1 360.8 L331.2 360.9 L331.3 360.9 L331.4 360.9 L331.5 360.8 L331.6 360.7 L331.7 360.6 L331.8 360.4 L331.9 360.2 L332 359.9 L332.1 359.6 L332.2 359.3 L332.3 358.9 L332.4 358.5 L332.5 358.2 L332.6 357.8 L332.7 357.4 L332.8 357 L332.9 356.6 L333 356.3 L333.1 355.9 L333.2 355.6 L333.3 355.4 L333.4 355.1 L333.5 354.9 L333.6 354.8 L333.7 354.7 L333.8 354.6 L333.9 354.6 L334 354.7 L334.1 354.7 L334.2 354.9 L334.3 355.1 L334.4 355.3 L334.5 355.5 L334.6 355.8 L334.7 356.2 L334.8 356.5 L334.9 356.9 L335 357.2 L335.1 357.6 L335.2 358 L335.3 358.4 L335.4 358.7 L335.5 359.1 L335.6 359.4 L335.7 359.7 L335.8 360 L335.9 360.3 L336 360.5 L336.1 360.6 L336.2 360.8 L336.3 360.8 L336.4 360.9 L336.5 360.9 L336.6 360.9 L336.7 360.8 L336.8 360.6 L336.9 360.5 L337 360.3 L337.1 360 L337.2 359.8 L337.3 359.4 L337.4 359.1 L337.5 358.8 L337.6 358.4 L337.7 358 L337.8 357.6 L337.9 357.2 L338 356.8 L338.1 356.4 L338.2 356 L338.3 355.6 L338.4 355.2 L338.5 354.9 L338.6 354.6 L338.7 354.3 L338.8 354.1 L338.9 353.9 L339 353.7 L339.1 353.6 L339.2 353.6 L339.3 353.6 L339.4 353.6 L339.5 353.7 L339.6 353.9 L339.7 354.1 L339.8 354.3 L339.9 354.6 L340 354.9 L340.1 355.3 L340.2 355.7 L340.3 356.2 L340.4 356.6 L340.5 357.1 L340.6 357.6 L340.7 358.1 L340.8 358.5 L340.9 359 L341 359.4 L341.1 359.8 L341.2 360.1 L341.3 360.4 L341.4 360.6 L341.5 360.8 L341.6 360.9 L341.7 360.9 L341.8 360.8 L341.9 360.7 L342 360.5 L342.1 360.2 L342.2 359.8 L342.3 359.4 L342.4 358.9 L342.5 358.4 L342.6 357.8 L342.7 357.2 L342.8 356.7 L342.9 356.1 L343 355.5 L343.1 354.9 L343.2 354.4 L343.3 354 L343.4 353.6 L343.5 353.2 L343.6 353 L343.7 352.8 L343.8 352.7 L343.9 352.7 L344 352.8 L344.1 353 L344.2 353.3 L344.3 353.6 L344.4 354 L344.5 354.5 L344.6 355 L344.7 355.6 L344.8 356.2 L344.9 356.8 L345 357.3 L345.1 357.9 L345.2 358.5 L345.3 359 L345.4 359.5 L345.5 359.9 L345.6 360.3 L345.7 360.6 L345.8 360.8 L345.9 360.9 L346 360.9 L346.1 360.8 L346.2 360.7 L346.3 360.5 L346.4 360.1 L346.5 359.8 L346.6 359.3 L346.7 358.8 L346.8 358.2 L346.9 357.7 L347 357 L347.1 356.4 L347.2 355.8 L347.3 355.2 L347.4 354.7 L347.5 354.2 L347.6 353.7 L347.7 353.3 L347.8 353 L347.9 352.7 L348 352.6 L348.1 352.5 L348.2 352.5 L348.3 352.7 L348.4 352.9 L348.5 353.1 L348.6 353.5 L348.7 353.9 L348.8 354.4 L348.9 354.9 L349 355.5 L349.1 356.1 L349.2 356.7 L349.3 357.3 L349.4 357.9 L349.5 358.5 L349.6 359 L349.7 359.5 L349.8 359.9 L349.9 360.3 L350 360.6 L350.1 360.8 L350.2 360.9 L350.3 360.9 L350.4 360.8 L350.5 360.7 L350.6 360.4 L350.7 360.1 L350.8 359.7 L350.9 359.3 L351 358.8 L351.1 358.3 L351.2 357.7 L351.3 357.1 L351.4 356.5 L351.5 355.9 L351.6 355.3 L351.7 354.8 L351.8 354.3 L351.9 353.9 L352 353.5 L352.1 353.2 L352.2 353 L352.3 352.8 L352.4 352.8 L352.5 352.8 L352.6 352.9 L352.7 353.1 L352.8 353.4 L352.9 353.8 L353 354.2 L353.1 354.6 L353.2 355.2 L353.3 355.7 L353.4 356.3 L353.5 356.9 L353.6 357.5 L353.7 358.1 L353.8 358.6 L353.9 359.1 L354 359.6 L354.1 360 L354.2 360.3 L354.3 360.6 L354.4 360.8 L354.5 360.9 L354.6 360.9 L354.7 360.8 L354.8 360.7 L354.9 360.5 L355 360.2 L355.1 359.8 L355.2 359.4 L355.3 358.9 L355.4 358.4 L355.5 357.8 L355.6 357.3 L355.7 356.7 L355.8 356.1 L355.9 355.6 L356 355.1 L356.1 354.6 L356.2 354.2 L356.3 353.8 L356.4 353.5 L356.5 353.3 L356.6 353.2 L356.7 353.1 L356.8 353.2 L356.9 353.3 L357 353.5 L357.1 353.7 L357.2 354.1 L357.3 354.5 L357.4 354.9 L357.5 355.4 L357.6 356 L357.7 356.5 L357.8 357.1 L357.9 357.6 L358 358.2 L358.1 358.7 L358.2 359.2 L358.3 359.6 L358.4 360 L358.5 360.3 L358.6 360.6 L358.7 360.8 L358.8 360.9 L358.9 360.9 L359 360.8 L359.1 360.7 L359.2 360.5 L359.3 360.2 L359.4 359.9 L359.5 359.4 L359.6 359 L359.7 358.5 L359.8 358 L359.9 357.5 L360 356.9 L360.1 356.4 L360.2 355.9 L360.3 355.4 L360.4 355 L360.5 354.6 L360.6 354.2 L360.7 354 L360.8 353.8 L360.9 353.6 L361 353.6 L361.1 353.6 L361.2 353.7 L361.3 353.9 L361.4 354.2 L361.5 354.5 L361.6 354.9 L361.7 355.3 L361.8 355.8 L361.9 356.3 L362 356.8 L362.1 357.3 L362.2 357.8 L362.3 358.3 L362.4 358.8 L362.5 359.3 L362.6 359.7 L362.7 360.1 L362.8 360.4 L362.9 360.6 L363 360.8 L363.1 360.9 L363.2 360.9 L363.3 360.8 L363.4 360.7 L363.5 360.5 L363.6 360.2 L363.7 359.9 L363.8 359.5 L363.9 359.1 L364 358.7 L364.1 358.2 L364.2 357.7 L364.3 357.2 L364.4 356.7 L364.5 356.2 L364.6 355.7 L364.7 355.3 L364.8 355 L364.9 354.6 L365 354.4 L365.1 354.2 L365.2 354.1 L365.3 354 L365.4 354.1 L365.5 354.2 L365.6 354.3 L365.7 354.6 L365.8 354.9 L365.9 355.2 L366 355.6 L366.1 356.1 L366.2 356.5 L366.3 357 L366.4 357.5 L366.5 358 L366.6 358.5 L366.7 359 L366.8 359.4 L366.9 359.8 L367 360.1 L367.1 360.4 L367.2 360.6 L367.3 360.8 L367.4 360.9 L367.5 360.9 L367.6 360.9 L367.7 360.8 L367.8 360.6 L367.9 360.4 L368 360.1 L368.1 359.7 L368.2 359.4 L368.3 358.9 L368.4 358.5 L368.5 358 L368.6 357.6 L368.7 357.1 L368.8 356.7 L368.9 356.2 L369 355.8 L369.1 355.4 L369.2 355.1 L369.3 354.9 L369.4 354.6 L369.5 354.5 L369.6 354.4 L369.7 354.4 L369.8 354.5 L369.9 354.6 L370 354.8 L370.1 355.1 L370.2 355.4 L370.3 355.8 L370.4 356.2 L370.5 356.7 L370.6 357.2 L370.7 357.7 L370.8 358.2 L370.9 358.7 L371 359.2 L371.1 359.6 L371.2 360 L371.3 360.3 L371.4 360.6 L371.5 360.8 L371.6 360.9 L371.7 360.9 L371.8 360.8 L371.9 360.6 L372 360.4 L372.1 360.1 L372.2 359.7 L372.3 359.2 L372.4 358.7 L372.5 358.2 L372.6 357.7 L372.7 357.1 L372.8 356.6 L372.9 356.1 L373 355.7 L373.1 355.3 L373.2 355.1 L373.3 354.8 L373.4 354.7 L373.5 354.7 L373.6 354.8 L373.7 354.9 L373.8 355.2 L373.9 355.5 L374 355.9 L374.1 356.3 L374.2 356.8 L374.3 357.3 L374.4 357.8 L374.5 358.3 L374.6 358.8 L374.7 359.3 L374.8 359.7 L374.9 360.1 L375 360.4 L375.1 360.7 L375.2 360.8 L375.3 360.9 L375.4 360.9 L375.5 360.8 L375.6 360.6 L375.7 360.4 L375.8 360.1 L375.9 359.7 L376 359.3 L376.1 358.8 L376.2 358.3 L376.3 357.8 L376.4 357.3 L376.5 356.8 L376.6 356.4 L376.7 356 L376.8 355.6 L376.9 355.3 L377 355.1 L377.1 355 L377.2 354.9 L377.3 354.9 L377.4 355 L377.5 355.2 L377.6 355.4 L377.7 355.7 L377.8 356.1 L377.9 356.5 L378 357 L378.1 357.4 L378.2 357.9 L378.3 358.4 L378.4 358.9 L378.5 359.3 L378.6 359.7 L378.7 360.1 L378.8 360.4 L378.9 360.6 L379 360.8 L379.1 360.9 L379.2 360.9 L379.3 360.8 L379.4 360.7 L379.5 360.4 L379.6 360.2 L379.7 359.8 L379.8 359.4 L379.9 359 L380 358.5 L380.1 358 L380.2 357.6 L380.3 357.1 L380.4 356.7 L380.5 356.2 L380.6 355.9 L380.7 355.6 L380.8 355.3 L380.9 355.2 L381 355 L381.1 355 L381.2 355.1 L381.3 355.2 L381.4 355.4 L381.5 355.6 L381.6 355.9 L381.7 356.3 L381.8 356.7 L381.9 357.1 L382 357.5 L382.1 358 L382.2 358.4 L382.3 358.9 L382.4 359.3 L382.5 359.7 L382.6 360 L382.7 360.3 L382.8 360.5 L382.9 360.7 L383 360.8 L383.1 360.9 L383.2 360.9 L383.3 360.8 L383.4 360.7 L383.5 360.5 L383.6 360.3 L383.7 360 L383.8 359.6 L383.9 359.3 L384 358.9 L384.1 358.5 L384.2 358.1 L384.3 357.7 L384.4 357.3 L384.5 356.9 L384.6 356.5 L384.7 356.2 L384.8 355.9 L384.9 355.7 L385 355.5 L385.1 355.3 L385.2 355.2 L385.3 355.2 L385.4 355.3 L385.5 355.4 L385.6 355.5 L385.7 355.7 L385.8 356 L385.9 356.3 L386 356.6 L386.1 356.9 L386.2 357.3 L386.3 357.7 L386.4 358.1 L386.5 358.5 L386.6 358.9 L386.7 359.3 L386.8 359.6 L386.9 359.9 L387 360.2 L387.1 360.5 L387.2 360.6 L387.3 360.8 L387.4 360.9 L387.5 360.9 L387.6 360.9 L387.7 360.8 L387.8 360.7 L387.9 360.5 L388 360.3 L388.1 360.1 L388.2 359.8 L388.3 359.5 L388.4 359.2 L388.5 358.8 L388.6 358.5 L388.7 358.1 L388.8 357.8 L388.9 357.5 L389 357.2 L389.1 356.9 L389.2 356.7 L389.3 356.4 L389.4 356.3 L389.5 356.1 L389.6 356.1 L389.7 356 L389.8 356 L389.9 356.1 L390 356.2 L390.1 356.3 L390.2 356.5 L390.3 356.7 L390.4 357 L390.5 357.3 L390.6 357.6 L390.7 357.9 L390.8 358.3 L390.9 358.6 L391 358.9 L391.1 359.2 L391.2 359.6 L391.3 359.8 L391.4 360.1 L391.5 360.3 L391.6 360.5 L391.7 360.7 L391.8 360.8 L391.9 360.9 L392 360.9 L392.1 360.9 L392.2 360.8 L392.3 360.7 L392.4 360.6 L392.5 360.4 L392.6 360.2 L392.7 359.9 L392.8 359.6 L392.9 359.4 L393 359.1 L393.1 358.8 L393.2 358.5 L393.3 358.2 L393.4 358 L393.5 357.7 L393.6 357.5 L393.7 357.3 L393.8 357.2 L393.9 357 L394 357 L394.1 356.9 L394.2 356.9 L394.3 357 L394.4 357.1 L394.5 357.2 L394.6 357.3 L394.7 357.5 L394.8 357.7 L394.9 358 L395 358.2 L395.1 358.5 L395.2 358.8 L395.3 359 L395.4 359.3 L395.5 359.6 L395.6 359.8 L395.7 360 L395.8 360.3 L395.9 360.4 L396 360.6 L396.1 360.7 L396.2 360.8 L396.3 360.9 L396.4 360.9 L396.5 360.9 L396.6 360.8 L396.7 360.8 L396.8 360.7 L396.9 360.5 L397 360.4 L397.1 360.2 L397.2 360 L397.3 359.8 L397.4 359.6 L397.5 359.3 L397.6 359.1 L397.7 358.9 L397.8 358.7 L397.9 358.5 L398 358.3 L398.1 358.2 L398.2 358 L398.3 357.9 L398.4 357.9 L398.5 357.8 L398.6 357.8 L398.7 357.8 L398.8 357.8 L398.9 357.9 L399 358 L399.1 358.1 L399.2 358.2 L399.3 358.3 L399.4 358.5 L399.5 358.7 L399.6 358.9 L399.7 359.1 L399.8 359.3 L399.9 359.4 L400 359.6 L400.1 359.8 L400.2 360 L400.3 360.2 L400.4 360.3 L400.5 360.4 L400.6 360.6 L400.7 360.7 L400.8 360.8 L400.9 360.8 L401 360.9 L401.1 360.9 L401.2 360.9 L401.3 360.9 L401.4 360.9 L401.5 360.8 L401.6 360.7 L401.7 360.7 L401.8 360.6 L401.9 360.5 L402 360.4 L402.1 360.2 L402.2 360.1 L402.3 360 L402.4 359.8 L402.5 359.7 L402.6 359.5 L402.7 359.4 L402.8 359.3 L402.9 359.2 L403 359 L403.1 358.9 L403.2 358.8 L403.3 358.7 L403.4 358.7 L403.5 358.6 L403.6 358.5 L403.7 358.5 L403.8 358.5 L403.9 358.5 L404 358.5 L404.1 358.5 L404.2 358.6 L404.3 358.6 L404.4 358.7 L404.5 358.8 L404.6 358.9 L404.7 359 L404.8 359.1 L404.9 359.2 L405 359.4 L405.1 359.5 L405.2 359.6 L405.3 359.8 L405.4 359.9 L405.5 360 L405.6 360.2 L405.7 360.3 L405.8 360.4 L405.9 360.5 L406 360.6 L406.1 360.7 L406.2 360.8 L406.3 360.8 L406.4 360.9 L406.5 360.9 L406.6 360.9 L406.7 360.9 L406.8 360.9 L406.9 360.8 L407 360.8 L407.1 360.7 L407.2 360.6 L407.3 360.5 L407.4 360.4 L407.5 360.3 L407.6 360.2 L407.7 360.1 L407.8 360 L407.9 359.9 L408 359.8 L408.1 359.7 L408.2 359.6 L408.3 359.5 L408.4 359.4 L408.5 359.3 L408.6 359.3 L408.7 359.2 L408.8 359.2 L408.9 359.2 L409 359.2 L409.1 359.2 L409.2 359.2 L409.3 359.2 L409.4 359.3 L409.5 359.3 L409.6 359.4 L409.7 359.4 L409.8 359.5 L409.9 359.6 L410 359.7 L410.1 359.7 L410.2 359.8 L410.3 359.9 L410.4 360 L410.5 360.1 L410.6 360.2 L410.7 360.2 L410.8 360.3 L410.9 360.4 L411 360.5 L411.1 360.5 L411.2 360.6 L411.3 360.7 L411.4 360.7 L411.5 360.7 L411.6 360.8 L411.7 360.8 L411.8 360.8 L411.9 360.9 L412 360.9 L412.1 360.9 L412.2 360.9 L412.3 360.9 L412.4 360.9 L412.5 360.9 L412.6 360.9 L412.7 360.9 L412.8 360.8 L412.9 360.8 L413 360.8 L413.1 360.8 L413.2 360.7 L413.3 360.7 L413.4 360.7 L413.5 360.7 L413.6 360.6 L413.7 360.6 L413.8 360.6 L413.9 360.5 L414 360.5 L414.1 360.5 L414.2 360.5 L414.3 360.4 L414.4 360.4 L414.5 360.4 L414.6 360.4 L414.7 360.4 L414.8 360.3 L414.9 360.3 L415 360.3 L415.1 360.3 L415.2 360.3 L415.3 360.3 L415.4 360.3 L415.5 360.3 L415.6 360.3 L415.7 360.3 L415.8 360.3 L415.9 360.3 L416 360.4 L416.1 360.4 L416.2 360.4 L416.3 360.4 L416.4 360.4 L416.5 360.4 L416.6 360.5 L416.7 360.5 L416.8 360.5 L416.9 360.5 L417 360.6 L417.1 360.6 L417.2 360.6 L417.3 360.6 L417.4 360.6 L417.5 360.7 L417.6 360.7 L417.7 360.7 L417.8 360.7 L417.9 360.7 L418 360.8 L418.1 360.8 L418.2 360.8 L418.3 360.8 L418.4 360.8 L418.5 360.8 L418.6 360.9 L418.7 360.9 L418.8 360.9 L418.9 360.9 L419 360.9 L419.1 360.9 L419.2 360.9 L419.3 360.9 L419.4 360.9 L419.5 360.9 L419.6 360.9 L419.7 360.9 L419.8 360.9 L419.9 360.9 L420 360.9 L420.5 360.9 L420.8 360.9 L421 360.9 L421.2 360.9 L421.5 360.9 L421.8 360.9 L422 360.9 L422.2 360.9 L422.5 360.9 L422.8 360.9 L423 360.9 L423.2 360.9 L423.5 360.9 L423.8 360.9 L424 360.9 L424.2 360.9 L424.5 360.9 L424.8 360.9 L425 360.9 L425.2 360.9 L425.5 360.9 L425.8 360.9 L426 360.9 L426.2 360.9 L426.5 360.9 L426.8 360.9 L427 360.9 L427.2 360.9 L427.5 360.9 L427.8 360.9 L428 360.9 L428.2 360.9 L428.5 360.9 L428.8 360.9 L429 360.9 L429.2 360.9 L429.5 360.9 L429.8 360.9 L430 360.9 L430.2 360.9 L430.5 360.9 L430.8 360.9 L431 360.9 L431.2 360.9 L431.5 360.9 L431.8 360.9 L432 360.9 L432.2 360.9 L432.5 360.9 L432.8 360.9 L433 360.9 L433.2 360.9 L433.5 360.9 L433.8 360.9 L434 360.9 L434.2 360.9 L434.5 360.9 L434.8 360.9 L435 360.9 L435.2 360.9 L435.5 360.9 L435.8 360.9 L436 360.9 L436.2 360.9 L436.5 360.9 L436.8 360.9 L437 360.9 L437.2 360.9 L437.5 360.9 L437.8 360.9 L438 360.9 L438.2 360.9 L438.5 360.9 L438.8 360.9 L439 360.9 L439.2 360.9 L439.5 360.9 L439.8 360.9 L440 360.9 L440.2 360.9 L440.5 360.9 L440.8 360.9 L441 360.9 L441.2 360.9 L441.5 360.9 L441.8 360.9 L442 360.9 L442.2 360.9 L442.5 360.9 L442.8 360.9 L443 360.9 L443.2 360.9 L443.5 360.9 L443.8 360.9 L444 360.9 L444.2 360.9 L444.5 360.9 L444.8 360.9 L445 360.9 L445.2 360.9 L445.5 360.9 L445.8 360.9 L446 360.9 L446.2 360.9 L446.5 360.9 L446.8 360.9 L447 360.9 L447.2 360.9 L447.5 360.9 L447.8 360.9 L448 360.9 L448.2 360.9 L448.5 360.9 L448.8 360.9 L449 360.9 L449.2 360.9 L449.5 360.9 L449.8 360.9 L450 360.9 L450.2 360.9 L450.5 360.9 L450.8 360.9 L451 360.9 L451.2 360.9 L451.5 360.9 L451.8 360.9 L452 360.9 L452.2 360.9 L452.5 360.9 L452.8 360.9 L453 360.9 L453.2 360.9 L453.5 360.9 L453.8 360.9 L454 360.9 L454.2 360.9 L454.5 360.9 L454.8 360.9 L455 360.9 L455.2 360.9 L455.5 360.9 L455.8 360.9 L456 360.9 L456.2 360.9 L456.5 360.9 L456.8 360.9 L457 360.9 L457.2 360.9 L457.5 360.9 L457.8 360.9 L458 360.9 L458.2 360.9 L458.5 360.9 L458.8 360.9 L459 360.9 L459.2 360.9 L459.5 360.9 L459.8 360.9 L460 360.9 L460.2 360.9 L460.5 360.9 L460.8 360.9 L461 360.9 L461.2 360.9 L461.5 360.9 L461.8 360.9 L462 360.9 L462.2 360.9 L462.5 360.9 L462.8 360.9 L463 360.9 L463.2 360.9 L463.5 360.9 L463.8 360.9 L464 360.9 L464.2 360.9 L464.5 360.9 L464.8 360.9 L465 360.9 L465.2 360.9 L465.5 360.9 L465.8 360.9 L466 360.9 L466.2 360.9 L466.5 360.9 L466.8 360.9 L467 360.9 L467.2 360.9 L467.5 360.9 L467.8 360.9 L468 360.9 L468.2 360.9 L468.5 360.9 L468.8 360.9 L469 360.9 L469.2 360.9 L469.5 360.9 L469.8 360.9 L470 360.9 L470.2 360.9 L470.5 360.9 L470.8 360.9 L471 360.9 L471.2 360.9 L471.5 360.9 L471.8 360.9 L472 360.9 L472.2 360.9 L472.5 360.9 L472.8 360.9 L473 360.9 L473.2 360.9 L473.5 360.9 L473.8 360.9 L474 360.9 L474.2 360.9 L474.5 360.9 L474.8 360.9 L475 360.9" fill="none" stroke="#238c23" stroke-width="1.5" stroke-linejoin="round" clip-path="url(#cbr)"/>
<path d="M398 360.9 L398.1 360.9 L398.2 360.9 L398.3 360.9 L398.4 360.9 L398.5 360.9 L398.6 360.9 L398.7 360.9 L398.8 360.9 L398.9 360.9 L399 360.9 L399.1 360.9 L399.2 360.9 L399.3 360.8 L399.4 360.8 L399.5 360.8 L399.6 360.7 L399.7 360.7 L399.8 360.7 L399.9 360.6 L400 360.5 L400.1 360.5 L400.2 360.4 L400.3 360.4 L400.4 360.3 L400.5 360.2 L400.6 360.2 L400.7 360.1 L400.8 360.1 L400.9 360 L401 360 L401.1 359.9 L401.2 359.9 L401.3 359.9 L401.4 359.9 L401.5 359.9 L401.6 359.9 L401.7 359.9 L401.8 359.9 L401.9 359.9 L402 359.9 L402.1 360 L402.2 360 L402.3 360.1 L402.4 360.1 L402.5 360.2 L402.6 360.3 L402.7 360.3 L402.8 360.4 L402.9 360.5 L403 360.5 L403.1 360.6 L403.2 360.7 L403.3 360.7 L403.4 360.8 L403.5 360.8 L403.6 360.8 L403.7 360.9 L403.8 360.9 L403.9 360.9 L404 360.9 L404.1 360.9 L404.2 360.9 L404.3 360.8 L404.4 360.8 L404.5 360.7 L404.6 360.7 L404.7 360.6 L404.8 360.5 L404.9 360.4 L405 360.3 L405.1 360.2 L405.2 360.1 L405.3 360 L405.4 359.9 L405.5 359.8 L405.6 359.7 L405.7 359.6 L405.8 359.5 L405.9 359.4 L406 359.3 L406.1 359.2 L406.2 359.2 L406.3 359.1 L406.4 359.1 L406.5 359 L406.6 359 L406.7 359 L406.8 359 L406.9 359 L407 359.1 L407.1 359.1 L407.2 359.2 L407.3 359.3 L407.4 359.4 L407.5 359.5 L407.6 359.6 L407.7 359.7 L407.8 359.8 L407.9 359.9 L408 360.1 L408.1 360.2 L408.2 360.3 L408.3 360.4 L408.4 360.5 L408.5 360.6 L408.6 360.7 L408.7 360.8 L408.8 360.8 L408.9 360.9 L409 360.9 L409.1 360.9 L409.2 360.9 L409.3 360.9 L409.4 360.9 L409.5 360.8 L409.6 360.8 L409.7 360.7 L409.8 360.6 L409.9 360.6 L410 360.5 L410.1 360.4 L410.2 360.3 L410.3 360.2 L410.4 360.1 L410.5 360 L410.6 359.9 L410.7 359.8 L410.8 359.7 L410.9 359.6 L411 359.5 L411.1 359.4 L411.2 359.3 L411.3 359.2 L411.4 359.2 L411.5 359.1 L411.6 359.1 L411.7 359 L411.8 359 L411.9 359 L412 359 L412.1 359 L412.2 359 L412.3 359 L412.4 359 L412.5 359 L412.6 359.1 L412.7 359.1 L412.8 359.2 L412.9 359.2 L413 359.3 L413.1 359.4 L413.2 359.4 L413.3 359.5 L413.4 359.6 L413.5 359.6 L413.6 359.7 L413.7 359.8 L413.8 359.9 L413.9 360 L414 360 L414.1 360.1 L414.2 360.2 L414.3 360.3 L414.4 360.3 L414.5 360.4 L414.6 360.5 L414.7 360.5 L414.8 360.6 L414.9 360.6 L415 360.7 L415.1 360.7 L415.2 360.8 L415.3 360.8 L415.4 360.8 L415.5 360.8 L415.6 360.9 L415.7 360.9 L415.8 360.9 L415.9 360.9 L416 360.9 L416.1 360.9 L416.2 360.9 L416.3 360.9 L416.4 360.9 L416.5 360.9 L416.6 360.9 L416.7 360.8 L416.8 360.8 L416.9 360.8 L417 360.8 L417.1 360.8 L417.2 360.7 L417.3 360.7 L417.4 360.7 L417.5 360.7 L417.6 360.6 L417.7 360.6 L417.8 360.6 L417.9 360.6 L418 360.6 L418.1 360.6 L418.2 360.6 L418.3 360.6 L418.4 360.6 L418.5 360.6 L418.6 360.6 L418.7 360.6 L418.8 360.6 L418.9 360.6 L419 360.6 L419.1 360.6 L419.2 360.7 L419.3 360.7 L419.4 360.7 L419.5 360.7 L419.6 360.8 L419.7 360.8 L419.8 360.8 L419.9 360.9 L420 360.9" fill="none" stroke="#2a3ac8" stroke-width="1.4" stroke-linejoin="round" clip-path="url(#cbr)"/>
<path d="M261.4 196.5 L261.6 196.5 L261.9 196.5 L262.1 196.5 L262.4 196.5 L262.6 196.5 L262.9 196.5 L263.1 196.5 L263.4 196.5 L263.6 196.5 L263.9 196.5 L264.1 196.5 L264.4 196.5 L264.6 196.5 L264.9 196.5 L265.1 196.5 L265.4 196.5 L265.6 196.5 L265.9 196.5 L266.1 196.5 L266.4 196.5 L266.6 196.5 L266.9 196.5 L267.1 196.5 L267.4 196.5 L267.6 196.5 L267.9 196.6 L268.1 196.6 L268.4 196.6 L268.6 196.6 L268.9 196.6 L269.1 196.7 L269.4 196.7 L269.6 196.7 L269.9 196.7 L270.1 196.8 L270.4 196.8 L270.6 196.8 L270.9 196.9 L271.1 197 L271.4 197.1 L271.6 197.2 L271.9 197.3 L272.1 197.4 L272.4 197.6 L272.6 197.7 L272.9 197.9 L273.1 198 L273.4 198.2 L273.6 198.4 L273.9 198.6 L274.1 198.8 L274.4 199.1 L274.6 199.3 L274.9 199.6 L275.1 199.9 L275.4 200.2 L275.6 200.6 L275.9 201 L276.1 201.4 L276.4 201.8 L276.6 202.2 L276.9 202.6 L277.1 203.1 L277.4 203.6 L277.6 204.1 L277.9 204.6 L278.1 205.2 L278.4 205.8 L278.6 206.4 L278.9 207.1 L279.1 207.8 L279.4 208.6 L279.6 209.3 L279.9 210.1 L280.1 210.9 L280.4 211.8 L280.6 212.6 L280.9 213.5 L281.1 214.3 L281.4 215.2 L281.6 216.1 L281.9 217.1 L282.1 218.1 L282.4 219.1 L282.6 220.1 L282.9 221.1 L283.1 222.2 L283.4 223.3 L283.6 224.3 L283.9 225.4 L284.1 226.5 L284.4 227.6 L284.6 228.8 L284.9 230 L285.1 231.2 L285.4 232.4 L285.6 233.7 L285.9 234.9 L286.1 236.1 L286.4 237.3 L286.6 238.5 L286.9 239.6 L287.1 240.7 L287.4 241.7 L287.6 242.8 L287.9 243.8 L288.1 244.9 L288.4 245.8 L288.6 246.8 L288.9 247.6 L289.1 248.4 L289.4 249.1 L289.6 249.7 L289.9 250.4 L290.1 251.1 L290.4 251.7 L290.6 252.1 L290.9 252.4 L291.1 252.6 L291.4 252.6 L291.6 252.6 L291.9 252.6 L292.1 252.6 L292.4 252.5 L292.6 252.5 L292.9 252.5 L293.1 252.4 L293.4 252.4 L293.6 252.2 L293.9 251.9 L294.1 251.5 L294.4 251.2 L294.6 250.9 L294.9 250.7 L295.1 250.6 L295.4 250.8 L295.6 251.3 L295.9 251.9 L296.1 252.7 L296.4 253.6 L296.6 254.7 L296.9 256.3 L297.1 258.4 L297.4 260.9 L297.6 263.5 L297.9 266.4 L298.1 269.9 L298.4 273.7 L298.6 277.7 L298.9 281.7 L299.1 285.7 L299.4 290 L299.6 294.9 L299.9 301.1 L300.1 308.7 L300.4 316.7 L300.6 323.8 L300.9 329.7 L301.1 335.3 L301.4 340.3 L301.6 344.3 L301.9 346.9 L302.1 349.1 L302.4 350.9 L302.6 352.1 L302.9 352.6 L303.1 352.3 L303.4 351.7 L303.6 350.7 L303.9 349.5 L304.1 348.1 L304.4 345.9 L304.6 343.2 L304.9 340.2 L305.1 337.4 L305.4 334.6 L305.6 331.7 L305.9 328.6 L306.1 325.2 L306.4 321.3 L306.6 316.9 L306.9 311.6 L307.1 304.8 L307.4 296.8 L307.6 288.2 L307.9 278 L308.1 266.7 L308.4 255.6 L308.6 244.7 L309.2 231 L309.3 230.8 L309.4 230.9 L309.5 231.3 L309.6 232 L309.7 233 L309.8 234.2 L309.9 235.8 L310 237.7 L310.1 239.8 L310.2 242.2 L310.3 244.9 L310.4 247.9 L310.5 251 L310.6 254.5 L310.7 258.1 L310.8 262 L310.9 266 L311 270.3 L311.1 274.6 L311.2 279.1 L311.3 283.7 L311.4 288.4 L311.5 293.2 L311.6 298 L311.7 302.8 L311.8 307.5 L311.9 312.3 L312 316.9 L312.1 321.5 L312.2 325.9 L312.3 330.2 L312.4 334.3 L312.5 338.2 L312.6 341.9 L312.7 345.3 L312.8 348.4 L312.9 351.2 L313 353.7 L313.1 355.8 L313.2 357.6 L313.3 359.1 L313.4 360.1 L313.5 360.7 L313.6 360.9 L313.7 360.7 L313.8 360.1 L313.9 359 L314 357.5 L314.1 355.6 L314.2 353.2 L314.3 350.4 L314.4 347.2 L314.5 343.6 L314.6 339.6 L314.7 335.3 L314.8 330.6 L314.9 325.7 L315 320.5 L315.1 315 L315.2 309.3 L315.3 303.5 L315.4 297.6 L315.5 291.6 L315.6 285.6 L315.7 279.5 L315.8 273.5 L315.9 267.6 L316 261.8 L316.1 256.1 L316.2 250.7 L316.3 245.5 L316.4 240.5 L316.5 235.9 L316.6 231.6 L316.7 227.7 L316.8 224.1 L316.9 221 L317 218.2 L317.1 216 L317.2 214.2 L317.3 212.9 L317.4 212 L317.5 211.7 L317.6 211.8 L317.7 212.5 L317.8 213.6 L317.9 215.2 L318 217.3 L318.1 219.8 L318.2 222.8 L318.3 226.2 L318.4 230 L318.5 234.2 L318.6 238.7 L318.7 243.5 L318.8 248.6 L318.9 253.9 L319 259.4 L319.1 265 L319.2 270.8 L319.3 276.5 L319.4 282.3 L319.5 288 L319.6 293.6 L319.7 299 L319.8 304.3 L319.9 309.3 L320 314 L320.1 318.3 L320.2 322.4 L320.3 326 L320.4 329.1 L320.5 331.8 L320.6 334 L320.7 335.7 L320.8 336.8 L320.9 337.4 L321 337.5 L321.1 336.9 L321.2 335.9 L321.3 334.2 L321.4 332 L321.5 329.3 L321.6 326.1 L321.7 322.4 L321.8 318.3 L321.9 313.7 L322 308.8 L322.1 303.5 L322.2 297.9 L322.3 292 L322.4 286 L322.5 279.8 L322.6 273.5 L322.7 267.1 L322.8 260.8 L322.9 254.6 L323 248.6 L323.1 242.8 L323.2 237.2 L323.3 232 L323.4 227.2 L323.5 222.8 L323.6 218.9 L323.7 215.5 L323.8 212.7 L323.9 210.4 L324 208.8 L324.1 207.8 L324.2 207.5 L324.3 207.8 L324.4 208.8 L324.5 210.5 L324.6 212.7 L324.7 215.7 L324.8 219.2 L324.9 223.2 L325 227.8 L325.1 232.9 L325.2 238.4 L325.3 244.3 L325.4 250.6 L325.5 257 L325.6 263.7 L325.7 270.4 L325.8 277.2 L325.9 284 L326 290.7 L326.1 297.1 L326.2 303.3 L326.3 309.2 L326.4 314.7 L326.5 319.7 L326.6 324.1 L326.7 328 L326.8 331.3 L326.9 333.9 L327 335.8 L327.1 336.9 L327.2 337.3 L327.3 336.9 L327.4 335.8 L327.5 333.9 L327.6 331.3 L327.7 328 L327.8 324 L327.9 319.4 L328 314.2 L328.1 308.5 L328.2 302.3 L328.3 295.8 L328.4 289 L328.5 282 L328.6 274.8 L328.7 267.6 L328.8 260.5 L328.9 253.6 L329 246.8 L329.1 240.4 L329.2 234.5 L329.3 229 L329.4 224 L329.5 219.7 L329.6 216.1 L329.7 213.3 L329.8 211.2 L329.9 210 L330 209.6 L330.1 210.1 L330.2 211.4 L330.3 213.6 L330.4 216.6 L330.5 220.4 L330.6 225.1 L330.7 230.4 L330.8 236.4 L330.9 242.9 L331 250 L331.1 257.4 L331.2 265.1 L331.3 272.9 L331.4 280.8 L331.5 288.6 L331.6 296.2 L331.7 303.5 L331.8 310.4 L331.9 316.6 L332 322.3 L332.1 327.2 L332.2 331.2 L332.3 334.4 L332.4 336.6 L332.5 337.9 L332.6 338.1 L332.7 337.3 L332.8 335.5 L332.9 332.8 L333 329.1 L333.1 324.5 L333.2 319.2 L333.3 313.1 L333.4 306.4 L333.5 299.3 L333.6 291.7 L333.7 283.9 L333.8 276 L333.9 268 L334 260.2 L334.1 252.6 L334.2 245.4 L334.3 238.6 L334.4 232.4 L334.5 226.8 L334.6 222 L334.7 218 L334.8 214.8 L334.9 212.5 L335 211.2 L335.1 210.7 L335.2 211.2 L335.3 212.5 L335.4 214.7 L335.5 217.7 L335.6 221.5 L335.7 225.9 L335.8 231 L335.9 236.7 L336 242.9 L336.1 249.4 L336.2 256.2 L336.3 263.3 L336.4 270.5 L336.5 277.7 L336.6 284.9 L336.7 291.9 L336.8 298.7 L336.9 305.2 L337 311.3 L337.1 316.9 L337.2 322 L337.3 326.5 L337.4 330.4 L337.5 333.5 L337.6 335.9 L337.7 337.6 L337.8 338.4 L337.9 338.5 L338 337.7 L338.1 336.1 L338.2 333.7 L338.3 330.6 L338.4 326.6 L338.5 322 L338.6 316.8 L338.7 310.9 L338.8 304.6 L338.9 297.8 L339 290.6 L339.1 283.2 L339.2 275.6 L339.3 267.9 L339.4 260.3 L339.5 252.8 L339.6 245.6 L339.7 238.7 L339.8 232.3 L339.9 226.4 L340 221.3 L340.1 216.9 L340.2 213.4 L340.3 210.8 L340.4 209.2 L340.5 208.6 L340.6 209.1 L340.7 210.7 L340.8 213.4 L340.9 217.2 L341 222 L341.1 227.8 L341.2 234.5 L341.3 242 L341.4 250.1 L341.5 258.7 L341.6 267.6 L341.7 276.7 L341.8 285.8 L341.9 294.7 L342 303.3 L342.1 311.2 L342.2 318.5 L342.3 324.8 L342.4 330.1 L342.5 334.2 L342.6 337.1 L342.7 338.6 L342.8 338.7 L342.9 337.5 L343 334.8 L343.1 330.9 L343.2 325.7 L343.3 319.3 L343.4 311.9 L343.5 303.7 L343.6 294.8 L343.7 285.5 L343.8 275.9 L343.9 266.2 L344 256.7 L344.1 247.5 L344.2 238.9 L344.3 231.1 L344.4 224.1 L344.5 218.3 L344.6 213.6 L344.7 210.2 L344.8 208.1 L344.9 207.4 L345 208 L345.1 210 L345.2 213.4 L345.3 218 L345.4 223.8 L345.5 230.6 L345.6 238.3 L345.7 246.8 L345.8 255.8 L345.9 265.2 L346 274.8 L346.1 284.3 L346.2 293.7 L346.3 302.6 L346.4 310.9 L346.5 318.3 L346.6 324.9 L346.7 330.3 L346.8 334.5 L346.9 337.3 L347 338.8 L347.1 338.9 L347.2 337.6 L347.3 334.9 L347.4 330.9 L347.5 325.6 L347.6 319.1 L347.7 311.7 L347.8 303.5 L347.9 294.5 L348 285.2 L348.1 275.5 L348.2 265.8 L348.3 256.2 L348.4 247 L348.5 238.3 L348.6 230.4 L348.7 223.4 L348.8 217.5 L348.9 212.7 L349 209.2 L349.1 207.1 L349.2 206.3 L349.3 207 L349.4 209.1 L349.5 212.5 L349.6 217.3 L349.7 223.2 L349.8 230.1 L349.9 238 L350 246.6 L350.1 255.8 L350.2 265.4 L350.3 275.1 L350.4 284.7 L350.5 294.1 L350.6 303.1 L350.7 311.4 L350.8 318.8 L350.9 325.3 L351 330.7 L351.1 334.8 L351.2 337.6 L351.3 339.1 L351.4 339.1 L351.5 337.7 L351.6 334.9 L351.7 330.7 L351.8 325.3 L351.9 318.8 L352 311.3 L352.1 303 L352.2 294 L352.3 284.6 L352.4 274.9 L352.5 265.1 L352.6 255.5 L352.7 246.3 L352.8 237.6 L352.9 229.6 L353 222.5 L353.1 216.6 L353.2 211.7 L353.3 208.2 L353.4 206.1 L353.5 205.3 L353.6 206 L353.7 208.1 L353.8 211.6 L353.9 216.4 L354 222.3 L354.1 229.4 L354.2 237.3 L354.3 246 L354.4 255.3 L354.5 264.9 L354.6 274.7 L354.7 284.4 L354.8 293.9 L354.9 302.9 L355 311.3 L355.1 318.8 L355.2 325.4 L355.3 330.8 L355.4 335 L355.5 337.8 L355.6 339.2 L355.7 339.2 L355.8 337.8 L355.9 335 L356 330.8 L356.1 325.4 L356.2 318.8 L356.3 311.3 L356.4 302.9 L356.5 293.8 L356.6 284.3 L356.7 274.5 L356.8 264.6 L356.9 254.9 L357 245.6 L357.1 236.8 L357.2 228.8 L357.3 221.6 L357.4 215.6 L357.5 210.7 L357.6 207.2 L357.7 205 L357.8 204.3 L357.9 205 L358 207.1 L358.1 210.6 L358.2 215.4 L358.3 221.4 L358.4 228.5 L358.5 236.5 L358.6 245.3 L358.7 254.6 L358.8 264.3 L358.9 274.2 L359 284 L359.1 293.6 L359.2 302.7 L359.3 311.1 L359.4 318.8 L359.5 325.4 L359.6 330.8 L359.7 335.1 L359.8 337.9 L359.9 339.4 L360 339.4 L360.1 337.9 L360.2 335.1 L360.3 330.8 L360.4 325.4 L360.5 318.7 L360.6 311.1 L360.7 302.6 L360.8 293.5 L360.9 283.8 L361 273.9 L361.1 264 L361.2 254.2 L361.3 244.7 L361.4 235.9 L361.5 227.7 L361.6 220.6 L361.7 214.4 L361.8 209.5 L361.9 206 L362 203.8 L362.1 203 L362.2 203.7 L362.3 205.8 L362.4 209.4 L362.5 214.2 L362.6 220.3 L362.7 227.5 L362.8 235.6 L362.9 244.4 L363 253.9 L363.1 263.7 L363.2 273.7 L363.3 283.6 L363.4 293.3 L363.5 302.5 L363.6 311 L363.7 318.7 L363.8 325.4 L363.9 330.9 L364 335.1 L364.1 338 L364.2 339.5 L364.3 339.5 L364.4 338 L364.5 335.2 L364.6 330.9 L364.7 325.4 L364.8 318.7 L364.9 311 L365 302.4 L365.1 293.2 L365.2 283.4 L365.3 273.5 L365.4 263.4 L365.5 253.5 L365.6 244 L365.7 235.1 L365.8 226.9 L365.9 219.6 L366 213.5 L366.1 208.5 L366.2 204.9 L366.3 202.7 L366.4 201.9 L366.5 202.7 L366.6 204.8 L366.7 208.3 L366.8 213.2 L366.9 219.2 L367 226.3 L367.1 234.2 L367.2 242.9 L367.3 252.2 L367.4 261.9 L367.5 271.7 L367.6 281.5 L367.7 291 L367.8 300.2 L367.9 308.7 L368 316.5 L368.1 323.4 L368.2 329.2 L368.3 333.9 L368.4 337.2 L368.5 339.2 L368.6 339.8 L368.7 339 L368.8 336.8 L368.9 333.2 L369 328.3 L369.1 322.1 L369.2 314.9 L369.3 306.6 L369.4 297.6 L369.5 288 L369.6 278 L369.7 267.7 L369.8 257.5 L369.9 247.5 L370 238 L370.1 229.2 L370.2 221.2 L370.3 214.4 L370.4 208.9 L370.5 204.9 L370.6 202.3 L370.7 201.5 L370.8 202.4 L370.9 205 L371 209.3 L371.1 215.2 L371.2 222.7 L371.3 231.5 L371.4 241.4 L371.5 252.2 L371.6 263.6 L371.7 275.3 L371.8 286.8 L371.9 298 L372 308.4 L372.1 317.8 L372.2 325.8 L372.3 332.2 L372.4 336.7 L372.5 339.4 L372.6 339.9 L372.7 338.4 L372.8 334.9 L372.9 329.4 L373 322.1 L373.1 313.3 L373.2 303.2 L373.3 292.1 L373.4 280.4 L373.5 268.5 L373.6 256.6 L373.7 245.1 L373.8 234.5 L373.9 225 L374 216.8 L374.1 210.2 L374.2 205.4 L374.3 202.5 L374.4 201.5 L374.5 202.5 L374.6 205.4 L374.7 210.1 L374.8 216.5 L374.9 224.4 L375 233.6 L375.1 243.8 L375.2 254.7 L375.3 266.1 L375.4 277.7 L375.5 289 L375.6 299.8 L375.7 309.8 L375.8 318.8 L375.9 326.4 L376 332.5 L376.1 336.9 L376.2 339.4 L376.3 340.2 L376.4 339 L376.5 336 L376.6 331.2 L376.7 324.7 L376.8 316.8 L376.9 307.7 L377 297.6 L377.1 286.8 L377.2 275.5 L377.3 264.2 L377.4 253 L377.5 242.3 L377.6 232.4 L377.7 223.5 L377.8 215.9 L377.9 209.7 L378 205.3 L378.1 202.5 L378.2 201.6 L378.3 202.5 L378.4 205.3 L378.5 209.8 L378.6 215.9 L378.7 223.5 L378.8 232.4 L378.9 242.4 L379 253.1 L379.1 264.2 L379.2 275.6 L379.3 286.8 L379.4 297.6 L379.5 307.7 L379.6 316.8 L379.7 324.7 L379.8 331.1 L379.9 335.9 L380 339 L380.1 340.3 L380.2 339.8 L380.3 337.5 L380.4 333.4 L380.5 327.7 L380.6 320.5 L380.7 312.1 L380.8 302.6 L380.9 292.4 L381 281.6 L381.1 270.6 L381.2 259.6 L381.3 249 L381.4 238.9 L381.5 229.7 L381.6 221.5 L381.7 214.6 L381.8 209 L381.9 205 L382 202.5 L382.1 201.7 L382.2 202.5 L382.3 204.9 L382.4 208.9 L382.5 214.2 L382.6 220.8 L382.7 228.6 L382.8 237.3 L382.9 246.7 L383 256.7 L383.1 266.9 L383.2 277.2 L383.3 287.4 L383.4 297.2 L383.5 306.4 L383.6 314.8 L383.7 322.2 L383.8 328.5 L383.9 333.6 L384 337.4 L384.1 339.8 L384.2 340.7 L384.3 340.1 L384.4 338.1 L384.5 334.7 L384.6 330 L384.7 324 L384.8 317 L384.9 309.1 L385 300.4 L385.1 291 L385.2 281.3 L385.3 271.4 L385.4 261.5 L385.5 251.8 L385.6 242.6 L385.7 233.9 L385.8 225.9 L385.9 218.9 L386 213 L386.1 208.3 L386.2 204.8 L386.3 202.8 L386.4 202.1 L386.5 202.8 L386.6 204.9 L386.7 208.3 L386.8 213 L386.9 218.9 L387 225.8 L387.1 233.6 L387.2 242.1 L387.3 251.2 L387.4 260.7 L387.5 270.3 L387.6 280 L387.7 289.5 L387.8 298.6 L387.9 307.3 L388 315.2 L388.1 322.2 L388.2 328.3 L388.3 333.3 L388.4 337.1 L388.5 339.7 L388.6 340.9 L388.7 340.8 L388.8 339.4 L388.9 336.7 L389 332.8 L389.1 327.7 L389.2 321.5 L389.3 314.4 L389.4 306.5 L389.5 297.8 L389.6 288.7 L389.7 279.3 L389.8 269.7 L389.9 260.1 L390 250.8 L390.1 241.8 L390.2 233.5 L390.3 225.8 L390.4 219.1 L390.5 213.4 L390.6 208.8 L390.7 205.5 L390.8 203.5 L390.9 202.8 L391 203.5 L391.1 205.6 L391.2 209 L391.3 213.7 L391.4 219.6 L391.5 226.5 L391.6 234.4 L391.7 243.1 L391.8 252.4 L391.9 262.1 L392 272 L392.1 281.9 L392.2 291.6 L392.3 301 L392.4 309.7 L392.5 317.7 L392.6 324.7 L392.7 330.7 L392.8 335.4 L392.9 338.9 L393 341 L393.1 341.6 L393.2 340.8 L393.3 338.6 L393.4 335.1 L393.5 330.2 L393.6 324.2 L393.7 317.1 L393.8 309.1 L393.9 300.3 L394 291 L394.1 281.4 L394.2 271.5 L394.3 261.7 L394.4 252.2 L394.5 243 L394.6 234.5 L394.7 226.8 L394.8 220 L394.9 214.2 L395 209.7 L395.1 206.4 L395.2 204.4 L395.3 203.7 L395.4 204.4 L395.5 206.4 L395.6 209.8 L395.7 214.4 L395.8 220.1 L395.9 226.9 L396 234.6 L396.1 243 L396.2 252.1 L396.3 261.6 L396.4 271.2 L396.5 281 L396.6 290.5 L396.7 299.8 L396.8 308.5 L396.9 316.4 L397 323.6 L397.1 329.7 L397.2 334.8 L397.3 338.6 L397.4 341.2 L397.5 342.4 L397.6 342.4 L397.7 341 L397.8 338.3 L397.9 334.4 L398 329.4 L398.1 323.4 L398.2 316.4 L398.3 308.7 L398.4 300.4 L398.5 291.6 L398.6 282.5 L398.7 273.3 L398.8 264.2 L398.9 255.2 L399 246.7 L399.1 238.6 L399.2 231.2 L399.3 224.6 L399.4 218.8 L399.5 214.1 L399.6 210.3 L399.7 207.6 L399.8 206 L399.9 205.5 L400 206.1 L400.1 207.7 L400.2 210.4 L400.3 214 L400.4 218.5 L400.5 223.9 L400.6 229.9 L400.7 236.6 L400.8 243.8 L400.9 251.4 L401 259.3 L401.1 267.4 L401.2 275.5 L401.3 283.6 L401.4 291.6 L401.5 299.3 L401.6 306.6 L401.7 313.5 L401.8 319.8 L401.9 325.6 L402 330.6 L402.1 334.9 L402.2 338.4 L402.3 341 L402.4 342.8 L402.5 343.7 L402.6 343.8 L402.7 342.9 L402.8 341.2 L402.9 338.6 L403 335.2 L403.1 331.1 L403.2 326.2 L403.3 320.7 L403.4 314.6 L403.5 308 L403.6 301 L403.7 293.7 L403.8 286.1 L403.9 278.4 L404 270.6 L404.1 262.9 L404.2 255.3 L404.3 248 L404.4 241.1 L404.5 234.5 L404.6 228.5 L404.7 223.1 L404.8 218.4 L404.9 214.4 L405 211.3 L405.1 209 L405.2 207.6 L405.3 207.1 L405.4 207.6 L405.5 209 L405.6 211.4 L405.7 214.7 L405.8 218.9 L405.9 224 L406 229.9 L406.1 236.5 L406.2 243.7 L406.3 251.4 L406.4 259.5 L406.5 267.9 L406.6 276.4 L406.7 284.9 L406.8 293.4 L406.9 301.5 L407 309.3 L407.1 316.6 L407.2 323.2 L407.3 329.1 L407.4 334.2 L407.5 338.4 L407.6 341.6 L407.7 343.7 L407.8 344.9 L407.9 345 L408 344 L408.1 342 L408.2 339 L408.3 335.1 L408.4 330.3 L408.5 324.7 L408.6 318.4 L408.7 311.6 L408.8 304.2 L408.9 296.5 L409 288.6 L409.1 280.5 L409.2 272.5 L409.3 264.5 L409.4 256.7 L409.5 249.3 L409.6 242.2 L409.7 235.7 L409.8 229.6 L409.9 224.2 L410 219.5 L410.1 215.5 L410.2 212.2 L410.3 209.6 L410.4 207.8 L410.5 206.8 L410.6 206.4 L410.7 206.7 L410.8 207.8 L410.9 209.4 L411 211.7 L411.1 214.6 L411.2 218.1 L411.3 222 L411.4 226.4 L411.5 231.3 L411.6 236.4 L411.7 241.9 L411.8 247.7 L411.9 253.7 L412 259.8 L412.1 266 L412.2 272.3 L412.3 278.5 L412.4 284.7 L412.5 290.8 L412.6 296.8 L412.7 302.6 L412.8 308.1 L412.9 313.4 L413 318.4 L413.1 323 L413.2 327.3 L413.3 331.2 L413.4 334.7 L413.5 337.7 L413.6 340.3 L413.7 342.5 L413.8 344.2 L413.9 345.4 L414 346.1 L414.1 346.4 L414.2 346.2 L414.3 345.5 L414.4 344.4 L414.5 342.8 L414.6 340.8 L414.7 338.4 L414.8 335.6 L414.9 332.4 L415 328.9 L415.1 325 L415.2 320.8 L415.3 316.4 L415.4 311.7 L415.5 306.8 L415.6 301.8 L415.7 296.5 L415.8 291.2 L415.9 285.7 L416 280.3 L416.1 274.8 L416.2 269.3 L416.3 263.9 L416.4 258.5 L416.5 253.3 L416.6 248.2 L416.7 243.3 L416.8 238.6 L416.9 234.2 L417 230 L417.1 226.2 L417.2 222.6 L417.3 219.4 L417.4 216.6 L417.5 214.2 L417.6 212.2 L417.7 210.6 L417.8 209.4 L417.9 208.7 L418 208.5 L418.1 208.7 L418.2 209.4 L418.3 210.6 L418.4 212.2 L418.5 214.3 L418.6 216.8 L418.7 219.7 L418.8 222.9 L418.9 226.6 L419 230.6 L419.1 234.9 L419.2 239.5 L419.3 244.4 L419.4 249.5 L419.5 254.8 L419.6 260.3 L419.7 265.8 L419.8 271.5 L419.9 277.2 L420 282.9 L420.1 288.6 L420.2 294.3 L420.3 299.8 L420.4 305.2 L420.5 310.5 L420.6 315.5 L420.7 320.4 L420.8 324.9 L420.9 329.2 L421 333.1 L421.1 336.7 L421.2 340 L421.3 342.8 L421.4 345.3 L421.5 347.3 L421.6 349 L421.7 350.1 L421.8 350.9 L421.9 351.1 L422 351 L422.1 350.3 L422.2 349.3 L422.3 347.8 L422.4 345.8 L422.5 343.5 L422.6 340.7 L422.7 337.6 L422.8 334.1 L422.9 330.3 L423 326.1 L423.1 321.7 L423.2 317 L423.3 312 L423.4 306.9 L423.5 301.6 L423.6 296.2 L423.7 290.6 L423.8 285 L423.9 279.4 L424 273.8 L424.1 268.1 L424.2 262.6 L424.3 257.1 L424.4 251.8 L424.5 246.7 L424.6 241.7 L424.7 236.9 L424.8 232.5 L424.9 228.3 L425 224.4 L425.1 220.8 L425.2 217.6 L425.3 214.8 L425.4 212.3 L425.5 210.3 L425.6 208.7 L425.7 207.5 L425.8 206.8 L425.9 206.5 L426.3 207 L426.6 209 L426.8 212.1 L427.1 216.2 L427.3 220.9 L427.6 226.1 L427.8 233 L428.1 241.7 L428.3 251.6 L428.6 262 L428.8 272.3 L429.1 281.9 L429.3 291.7 L429.6 302.1 L429.8 312.3 L430.1 321.8 L430.3 329.9 L430.6 336.1 L430.8 341.5 L431.1 346.8 L431.3 351.4 L431.6 355.1 L431.8 357.4 L432.1 358 L432.3 357 L432.6 355 L432.8 352.1 L433.1 348.7 L433.3 345 L433.6 339.6 L433.8 331.9 L434.1 323.3 L434.3 315.2 L434.6 308.9 L434.8 303.8 L435.1 298.9 L435.3 294.5 L435.6 290.6 L435.8 287.2 L436.1 284.5 L436.3 281.9 L436.6 279.6 L436.8 278 L437.1 277.5 L437.3 277.8 L437.6 278.4 L437.8 279.2 L438.1 280.1 L438.3 281 L438.6 282 L438.8 283.1 L439.1 284.4 L439.3 285.8 L439.6 287.3 L439.8 288.8 L440.1 290.5 L440.3 292.2 L440.6 293.9 L440.8 295.7 L441.1 297.5 L441.3 299.3 L441.6 301.2 L441.8 303.3 L442.1 305.4 L442.3 307.6 L442.6 309.9 L442.8 312.2 L443.1 314.5 L443.3 316.8 L443.6 319.1 L443.8 321.3 L444.1 323.6 L444.3 325.7 L444.6 327.9 L444.8 330.1 L445.1 332.4 L445.3 334.6 L445.6 336.8 L445.8 338.9 L446.1 340.9 L446.3 342.7 L446.6 344.3 L446.8 345.8 L447.1 347.4 L447.3 348.7 L447.6 349.7 L447.8 350.3 L448.1 350.6 L448.3 350.9 L448.6 351.1 L448.8 351.3 L449.1 351.4 L449.3 351.5 L449.6 351.5 L449.8 351.3 L450.1 351 L450.3 350.4 L450.6 349.8 L450.8 349.1 L451.1 348.4 L451.3 347.7 L451.6 347 L451.8 346.1 L452.1 345.1 L452.3 344.1 L452.6 343 L452.8 341.9 L453.1 340.7 L453.3 339.4 L453.6 338.1 L453.8 336.8 L454.1 335.5 L454.3 334.1 L454.6 332.7 L454.8 331.4 L455.1 330 L455.3 328.7 L455.6 327.4 L455.8 326.1 L456.1 324.8 L456.3 323.4 L456.6 322.1 L456.8 320.7 L457.1 319.3 L457.3 317.8 L457.6 316.4 L457.8 315 L458.1 313.5 L458.3 312.1 L458.6 310.7 L458.8 309.2 L459.1 307.8 L459.3 306.5 L459.6 305.1 L459.8 303.8 L460.1 302.5 L460.3 301.2 L460.6 299.9 L460.8 298.6 L461.1 297.3 L461.3 296.1 L461.6 294.8 L461.8 293.5 L462.1 292.3 L462.3 291.1 L462.6 289.9 L462.8 288.8 L463.1 287.7 L463.3 286.8 L463.6 285.8 L463.8 285 L464.1 284.2 L464.3 283.5 L464.6 282.7 L464.8 282.1 L465.1 281.4 L465.3 280.8 L465.6 280.2 L465.8 279.7 L466.1 279.3 L466.3 278.8 L466.6 278.4 L466.8 278 L467.1 277.7 L467.3 277.3 L467.6 277 L467.8 276.7 L468.1 276.4 L468.3 276.1 L468.6 275.9 L468.8 275.7 L469.1 275.5 L469.3 275.3 L469.6 275.2 L469.8 275.1 L470.1 275 L470.3 274.9 L470.6 274.8 L470.8 274.7 L471.1 274.6 L471.3 274.5 L471.6 274.4 L471.8 274.4 L472.1 274.3 L472.3 274.3 L472.6 274.3 L472.8 274.3 L473.1 274.3 L473.3 274.3 L473.6 274.3 L473.8 274.3 L474.1 274.3 L474.3 274.4 L474.6 274.4 L474.8 274.5" fill="none" stroke="#111" stroke-width="1.35" stroke-linejoin="round" clip-path="url(#cbr)"/>
<path d="M261.4 196.5 L261.6 196.5 L261.9 196.5 L262.1 196.5 L262.4 196.5 L262.6 196.5 L262.9 196.5 L263.1 196.5 L263.4 196.5 L263.6 196.5 L263.9 196.5 L264.1 196.5 L264.4 196.5 L264.6 196.5 L264.9 196.5 L265.1 196.5 L265.4 196.5 L265.6 196.5 L265.9 196.5 L266.1 196.5 L266.4 196.5 L266.6 196.5 L266.9 196.5 L267.1 196.5 L267.4 196.5 L267.6 196.5 L267.9 196.6 L268.1 196.6 L268.4 196.6 L268.6 196.6 L268.9 196.6 L269.1 196.7 L269.4 196.7 L269.6 196.7 L269.9 196.7 L270.1 196.8 L270.4 196.8 L270.6 196.8 L270.9 196.9 L271.1 197 L271.4 197.1 L271.6 197.2 L271.9 197.3 L272.1 197.4 L272.4 197.6 L272.6 197.7 L272.9 197.9 L273.1 198 L273.4 198.2 L273.6 198.4 L273.9 198.6 L274.1 198.8 L274.4 199.1 L274.6 199.3 L274.9 199.6 L275.1 199.9 L275.4 200.2 L275.6 200.6 L275.9 201 L276.1 201.4 L276.4 201.8 L276.6 202.2 L276.9 202.6 L277.1 203.1 L277.4 203.6 L277.6 204.1 L277.9 204.6 L278.1 205.2 L278.4 205.8 L278.6 206.4 L278.9 207.1 L279.1 207.8 L279.4 208.6 L279.6 209.3 L279.9 210.1 L280.1 210.9 L280.4 211.8 L280.6 212.6 L280.9 213.5 L281.1 214.3 L281.4 215.2 L281.6 216.1 L281.9 217.1 L282.1 218.1 L282.4 219.1 L282.6 220.1 L282.9 221.1 L283.1 222.2 L283.4 223.3 L283.6 224.3 L283.9 225.4 L284.1 226.5 L284.4 227.6 L284.6 228.8 L284.9 230 L285.1 231.2 L285.4 232.4 L285.6 233.7 L285.9 234.9 L286.1 236.1 L286.4 237.3 L286.6 238.5 L286.9 239.6 L287.1 240.7 L287.4 241.7 L287.6 242.8 L287.9 243.8 L288.1 244.9 L288.4 245.8 L288.6 246.8 L288.9 247.6 L289.1 248.4 L289.4 249.1 L289.6 249.7 L289.9 250.4 L290.1 251.1 L290.4 251.7 L290.6 252.1 L290.9 252.4 L291.1 252.6 L291.4 252.6 L291.6 252.6 L291.9 252.6 L292.1 252.6 L292.4 252.5 L292.6 252.5 L292.9 252.5 L293.1 252.4 L293.4 252.4 L293.6 252.2 L293.9 251.9 L294.1 251.5 L294.4 251.2 L294.6 250.9 L294.9 250.7 L295.1 250.6 L295.4 250.8 L295.6 251.3 L295.9 251.9 L296.1 252.7 L296.4 253.6 L296.6 254.7 L296.9 256.3 L297.1 258.4 L297.4 260.9 L297.6 263.5 L297.9 266.4 L298.1 269.9 L298.4 273.7 L298.6 277.7 L298.9 281.7 L299.1 285.7 L299.4 290 L299.6 294.9 L299.9 301.1 L300.1 308.7 L300.4 316.7 L300.6 323.8 L300.9 329.7 L301.1 335.3 L301.4 340.3 L301.6 344.3 L301.9 346.9 L302.1 349.1 L302.4 350.9 L302.6 352.1 L302.9 352.6 L303.1 352.3 L303.4 351.7 L303.6 350.7 L303.9 349.5 L304.1 348.1 L304.4 345.9 L304.6 343.2 L304.9 340.2 L305.1 337.4 L305.4 334.6 L305.6 331.7 L305.9 328.6 L306.1 325.2 L306.4 321.3 L306.6 316.9 L306.9 311.6 L307.1 304.8 L307.4 296.8 L307.6 288.2 L307.9 278 L308.1 266.7 L308.4 255.6 L308.6 244.7" fill="none" stroke="#111" stroke-width="1.7" stroke-linejoin="round" clip-path="url(#cbr)"/>
<path d="M426.3 207 L426.6 209 L426.8 212.1 L427.1 216.2 L427.3 220.9 L427.6 226.1 L427.8 233 L428.1 241.7 L428.3 251.6 L428.6 262 L428.8 272.3 L429.1 281.9 L429.3 291.7 L429.6 302.1 L429.8 312.3 L430.1 321.8 L430.3 329.9 L430.6 336.1 L430.8 341.5 L431.1 346.8 L431.3 351.4 L431.6 355.1 L431.8 357.4 L432.1 358 L432.3 357 L432.6 355 L432.8 352.1 L433.1 348.7 L433.3 345 L433.6 339.6 L433.8 331.9 L434.1 323.3 L434.3 315.2 L434.6 308.9 L434.8 303.8 L435.1 298.9 L435.3 294.5 L435.6 290.6 L435.8 287.2 L436.1 284.5 L436.3 281.9 L436.6 279.6 L436.8 278 L437.1 277.5 L437.3 277.8 L437.6 278.4 L437.8 279.2 L438.1 280.1 L438.3 281 L438.6 282 L438.8 283.1 L439.1 284.4 L439.3 285.8 L439.6 287.3 L439.8 288.8 L440.1 290.5 L440.3 292.2 L440.6 293.9 L440.8 295.7 L441.1 297.5 L441.3 299.3 L441.6 301.2 L441.8 303.3 L442.1 305.4 L442.3 307.6 L442.6 309.9 L442.8 312.2 L443.1 314.5 L443.3 316.8 L443.6 319.1 L443.8 321.3 L444.1 323.6 L444.3 325.7 L444.6 327.9 L444.8 330.1 L445.1 332.4 L445.3 334.6 L445.6 336.8 L445.8 338.9 L446.1 340.9 L446.3 342.7 L446.6 344.3 L446.8 345.8 L447.1 347.4 L447.3 348.7 L447.6 349.7 L447.8 350.3 L448.1 350.6 L448.3 350.9 L448.6 351.1 L448.8 351.3 L449.1 351.4 L449.3 351.5 L449.6 351.5 L449.8 351.3 L450.1 351 L450.3 350.4 L450.6 349.8 L450.8 349.1 L451.1 348.4 L451.3 347.7 L451.6 347 L451.8 346.1 L452.1 345.1 L452.3 344.1 L452.6 343 L452.8 341.9 L453.1 340.7 L453.3 339.4 L453.6 338.1 L453.8 336.8 L454.1 335.5 L454.3 334.1 L454.6 332.7 L454.8 331.4 L455.1 330 L455.3 328.7 L455.6 327.4 L455.8 326.1 L456.1 324.8 L456.3 323.4 L456.6 322.1 L456.8 320.7 L457.1 319.3 L457.3 317.8 L457.6 316.4 L457.8 315 L458.1 313.5 L458.3 312.1 L458.6 310.7 L458.8 309.2 L459.1 307.8 L459.3 306.5 L459.6 305.1 L459.8 303.8 L460.1 302.5 L460.3 301.2 L460.6 299.9 L460.8 298.6 L461.1 297.3 L461.3 296.1 L461.6 294.8 L461.8 293.5 L462.1 292.3 L462.3 291.1 L462.6 289.9 L462.8 288.8 L463.1 287.7 L463.3 286.8 L463.6 285.8 L463.8 285 L464.1 284.2 L464.3 283.5 L464.6 282.7 L464.8 282.1 L465.1 281.4 L465.3 280.8 L465.6 280.2 L465.8 279.7 L466.1 279.3 L466.3 278.8 L466.6 278.4 L466.8 278 L467.1 277.7 L467.3 277.3 L467.6 277 L467.8 276.7 L468.1 276.4 L468.3 276.1 L468.6 275.9 L468.8 275.7 L469.1 275.5 L469.3 275.3 L469.6 275.2 L469.8 275.1 L470.1 275 L470.3 274.9 L470.6 274.8 L470.8 274.7 L471.1 274.6 L471.3 274.5 L471.6 274.4 L471.8 274.4 L472.1 274.3 L472.3 274.3 L472.6 274.3 L472.8 274.3 L473.1 274.3 L473.3 274.3 L473.6 274.3 L473.8 274.3 L474.1 274.3 L474.3 274.4 L474.6 274.4 L474.8 274.5" fill="none" stroke="#111" stroke-width="1.7" stroke-linejoin="round" clip-path="url(#cbr)"/>
<path d="M261.4 360.9 L261.6 360.9 L261.9 360.9 L262.1 360.9 L262.4 360.9 L262.6 360.9 L262.9 360.9 L263.1 360.9 L263.4 360.8 L263.6 360.8 L263.9 360.8 L264.1 360.8 L264.4 360.8 L264.6 360.8 L264.9 360.8 L265.1 360.8 L265.4 360.8 L265.6 360.7 L265.9 360.7 L266.1 360.7 L266.4 360.7 L266.6 360.7 L266.9 360.7 L267.1 360.6 L267.4 360.6 L267.6 360.6 L267.9 360.6 L268.1 360.5 L268.4 360.5 L268.6 360.5 L268.9 360.4 L269.1 360.4 L269.4 360.3 L269.6 360.3 L269.9 360.2 L270.1 360.2 L270.4 360.1 L270.6 360 L270.9 360 L271.1 359.9 L271.4 359.7 L271.6 359.6 L271.9 359.4 L272.1 359.2 L272.4 359 L272.6 358.8 L272.9 358.6 L273.1 358.3 L273.4 358.1 L273.6 357.9 L273.9 357.6 L274.1 357.3 L274.4 357 L274.6 356.7 L274.9 356.3 L275.1 356 L275.4 355.6 L275.6 355.2 L275.9 354.8 L276.1 354.4 L276.4 354 L276.6 353.5 L276.9 353.1 L277.1 352.6 L277.4 352.1 L277.6 351.5 L277.9 351 L278.1 350.4 L278.4 349.8 L278.6 349.1 L278.9 348.4 L279.1 347.6 L279.4 346.7 L279.6 345.9 L279.9 344.9 L280.1 344 L280.4 343 L280.6 342 L280.9 340.9 L281.1 339.7 L281.4 338.5 L281.6 337.3 L281.9 336 L282.1 334.8 L282.4 333.5 L282.6 332.2 L282.9 330.9 L283.1 329.6 L283.4 328.2 L283.6 326.8 L283.9 325.5 L284.1 324.1 L284.4 322.9 L284.6 321.7 L284.9 320.6 L285.1 319.6 L285.4 318.5 L285.6 317.5 L285.9 316.5 L286.1 315.5 L286.4 314.5 L286.6 313.6 L286.9 312.7 L287.1 311.9 L287.4 311.1 L287.6 310.3 L287.9 309.6 L288.1 308.9 L288.4 308.2 L288.6 307.5 L288.9 306.9 L289.1 306.3 L289.4 305.8 L289.6 305.4 L289.9 305.1 L290.1 304.7 L290.4 304.4 L290.6 304.2 L290.9 304 L291.1 304 L291.4 304.1 L291.6 304.2 L291.9 304.5 L292.1 304.7 L292.4 305 L292.6 305.3 L292.9 305.6 L293.1 306 L293.4 306.4 L293.6 306.8 L293.9 307.1 L294.1 307.4 L294.4 307.5 L294.6 307.6 L294.9 307.7 L295.1 307.8 L295.4 307.9 L295.6 308 L295.9 308 L296.1 307.9 L296.4 307.6 L296.6 306.9 L296.9 306.1 L297.1 305.2 L297.4 304 L297.6 302.3 L297.9 300.1 L298.1 297.5 L298.4 294.6 L298.6 290.9 L298.9 286.4 L299.1 281.2 L299.4 274 L299.6 264.3 L299.9 255 L300.1 246.7 L300.4 238.6 L300.6 231.5 L300.9 226 L301.1 221.4 L301.4 217.5 L301.6 214.2 L301.9 211.4 L302.1 208.9 L302.4 207 L302.6 205.9 L302.9 205.2 L303.1 204.7 L303.4 204.4 L303.6 204.5 L303.9 204.8 L304.1 205.4 L304.4 206 L304.6 206.8 L304.9 208 L305.1 209.4 L305.4 211.1 L305.6 212.9 L305.9 215.1 L306.1 217.9 L306.4 221 L306.6 224.3 L306.9 227.8 L307.1 231.4 L307.4 235.3 L307.6 239.8 L307.9 245.1 L308.1 251.4 L308.4 261.2 L308.6 273.5 L308.9 285.7 L309.1 296.2 L309.4 306.5 L309.6 314.8 L309.9 320.6 L310.1 325.1 L310.4 325.7 L310.6 322.7 L310.9 318 L311.1 310.9 L311.4 300.8 L311.6 289.8 L311.9 277.1 L312.1 263.3 L312.4 249.4 L312.6 234.8 L312.9 222 L313.1 212 L313.4 204 L313.4 196.9 L313.5 196.2 L313.6 196 L313.7 196.2 L313.8 196.9 L313.9 199.1 L314 201.8 L314.1 204.8 L314.2 208.3 L314.3 212.1 L314.4 216.3 L314.5 220.7 L314.6 225.5 L314.7 230.5 L314.8 235.8 L314.9 241.2 L315 246.8 L315.1 252.5 L315.2 258.3 L315.3 264.1 L315.4 269.9 L315.5 275.8 L315.6 281.6 L315.7 287.3 L315.8 292.9 L315.9 298.3 L316 303.6 L316.1 308.8 L316.2 313.7 L316.3 318.4 L316.4 322.8 L316.5 326.9 L316.6 330.8 L316.7 334.3 L316.8 337.4 L316.9 340.1 L317 342.5 L317.1 344.4 L317.2 345.9 L317.3 347 L317.4 347.6 L317.5 347.8 L317.6 347.6 L317.7 346.9 L317.8 345.7 L317.9 344.1 L318 342.1 L318.1 339.7 L318.2 336.8 L318.3 333.6 L318.4 330 L318.5 326.1 L318.6 321.8 L318.7 317.3 L318.8 312.5 L318.9 307.5 L319 302.3 L319.1 297 L319.2 291.6 L319.3 286.1 L319.4 280.7 L319.5 275.2 L319.6 269.9 L319.7 264.6 L319.8 259.6 L319.9 254.7 L320 250.1 L320.1 245.8 L320.2 241.9 L320.3 238.3 L320.4 235.1 L320.5 232.4 L320.6 230.1 L320.7 228.3 L320.8 227 L320.9 226.3 L321 226.1 L321.1 226.4 L321.2 227.3 L321.3 228.8 L321.4 230.8 L321.5 233.3 L321.6 236.3 L321.7 239.8 L321.8 243.7 L321.9 248.1 L322 252.8 L322.1 258 L322.2 263.4 L322.3 269 L322.4 274.9 L322.5 280.9 L322.6 287 L322.7 293.1 L322.8 299.2 L322.9 305.3 L323 311.1 L323.1 316.8 L323.2 322.2 L323.3 327.2 L323.4 331.9 L323.5 336.2 L323.6 340 L323.7 343.3 L323.8 346 L323.9 348.2 L324 349.8 L324.1 350.7 L324.2 351 L324.3 350.7 L324.4 349.8 L324.5 348.2 L324.6 345.9 L324.7 343.1 L324.8 339.7 L324.9 335.8 L325 331.3 L325.1 326.3 L325.2 321 L325.3 315.2 L325.4 309.2 L325.5 302.9 L325.6 296.4 L325.7 289.8 L325.8 283.1 L325.9 276.5 L326 270 L326.1 263.7 L326.2 257.6 L326.3 251.9 L326.4 246.5 L326.5 241.6 L326.6 237.2 L326.7 233.4 L326.8 230.2 L326.9 227.6 L327 225.8 L327.1 224.6 L327.2 224.3 L327.3 224.6 L327.4 225.7 L327.5 227.6 L327.6 230.2 L327.7 233.4 L327.8 237.4 L327.9 241.9 L328 247 L328.1 252.7 L328.2 258.8 L328.3 265.2 L328.4 271.9 L328.5 278.9 L328.6 286 L328.7 293.1 L328.8 300.1 L328.9 307 L329 313.7 L329.1 320.1 L329.2 326 L329.3 331.5 L329.4 336.4 L329.5 340.6 L329.6 344.2 L329.7 347 L329.8 349.1 L329.9 350.4 L330 350.8 L330.1 350.3 L330.2 349.1 L330.3 346.9 L330.4 343.9 L330.5 340.1 L330.6 335.6 L330.7 330.3 L330.8 324.4 L330.9 317.9 L331 310.9 L331.1 303.6 L331.2 295.9 L331.3 288.1 L331.4 280.3 L331.5 272.6 L331.6 265 L331.7 257.8 L331.8 251 L331.9 244.7 L332 239.1 L332.1 234.2 L332.2 230.1 L332.3 227 L332.4 224.7 L332.5 223.5 L332.6 223.2 L332.7 224 L332.8 225.8 L332.9 228.5 L333 232.1 L333.1 236.7 L333.2 242 L333.3 248 L333.4 254.6 L333.5 261.7 L333.6 269.3 L333.7 277.1 L333.8 285 L333.9 292.9 L334 300.8 L334.1 308.4 L334.2 315.6 L334.3 322.4 L334.4 328.6 L334.5 334.2 L334.6 339 L334.7 343.1 L334.8 346.3 L334.9 348.6 L335 349.9 L335.1 350.4 L335.2 349.9 L335.3 348.6 L335.4 346.3 L335.5 343.3 L335.6 339.4 L335.7 334.9 L335.8 329.7 L335.9 324 L336 317.7 L336.1 311.1 L336.2 304.1 L336.3 296.9 L336.4 289.6 L336.5 282.3 L336.6 275 L336.7 267.9 L336.8 260.9 L336.9 254.3 L337 248.2 L337.1 242.4 L337.2 237.3 L337.3 232.7 L337.4 228.8 L337.5 225.6 L337.6 223.1 L337.7 221.5 L337.8 220.6 L337.9 220.6 L338 221.4 L338.1 223 L338.2 225.4 L338.3 228.6 L338.4 232.5 L338.5 237.1 L338.6 242.4 L338.7 248.3 L338.8 254.7 L338.9 261.5 L339 268.6 L339.1 276.1 L339.2 283.7 L339.3 291.3 L339.4 298.9 L339.5 306.4 L339.6 313.6 L339.7 320.5 L339.8 326.8 L339.9 332.6 L340 337.7 L340.1 342.1 L340.2 345.6 L340.3 348.1 L340.4 349.7 L340.5 350.2 L340.6 349.7 L340.7 348 L340.8 345.3 L340.9 341.5 L341 336.7 L341.1 330.9 L341.2 324.2 L341.3 316.8 L341.4 308.7 L341.5 300.1 L341.6 291.2 L341.7 282.2 L341.8 273.1 L341.9 264.3 L342 255.8 L342.1 247.9 L342.2 240.7 L342.3 234.4 L342.4 229.2 L342.5 225.1 L342.6 222.2 L342.7 220.7 L342.8 220.6 L342.9 221.9 L343 224.5 L343.1 228.4 L343.2 233.6 L343.3 239.9 L343.4 247.2 L343.5 255.3 L343.6 264.1 L343.7 273.3 L343.8 282.8 L343.9 292.4 L344 301.8 L344.1 310.8 L344.2 319.3 L344.3 327 L344.4 333.8 L344.5 339.6 L344.6 344.2 L344.7 347.5 L344.8 349.6 L344.9 350.2 L345 349.6 L345.1 347.6 L345.2 344.2 L345.3 339.7 L345.4 334 L345.5 327.3 L345.6 319.6 L345.7 311.3 L345.8 302.4 L345.9 293.1 L346 283.7 L346.1 274.3 L346.2 265.1 L346.3 256.4 L346.4 248.2 L346.5 240.9 L346.6 234.5 L346.7 229.2 L346.8 225.1 L346.9 222.3 L347 220.8 L347.1 220.7 L347.2 222 L347.3 224.7 L347.4 228.7 L347.5 233.8 L347.6 240.1 L347.7 247.4 L347.8 255.5 L347.9 264.2 L348 273.4 L348.1 282.9 L348.2 292.4 L348.3 301.7 L348.4 310.7 L348.5 319.2 L348.6 326.9 L348.7 333.7 L348.8 339.5 L348.9 344.2 L349 347.6 L349.1 349.6 L349.2 350.3 L349.3 349.6 L349.4 347.6 L349.5 344.2 L349.6 339.6 L349.7 333.8 L349.8 327 L349.9 319.3 L350 310.9 L350.1 301.9 L350.2 292.6 L350.3 283.2 L350.4 273.8 L350.5 264.6 L350.6 255.9 L350.7 247.8 L350.8 240.6 L350.9 234.2 L351 229 L351.1 225 L351.2 222.3 L351.3 220.9 L351.4 220.9 L351.5 222.3 L351.6 225 L351.7 229.1 L351.8 234.3 L351.9 240.6 L352 247.9 L352.1 256 L352.2 264.7 L352.3 273.8 L352.4 283.2 L352.5 292.7 L352.6 302 L352.7 310.9 L352.8 319.4 L352.9 327.1 L353 333.9 L353.1 339.7 L353.2 344.3 L353.3 347.7 L353.4 349.7 L353.5 350.4 L353.6 349.7 L353.7 347.7 L353.8 344.3 L353.9 339.7 L354 333.9 L354.1 327.1 L354.2 319.4 L354.3 311 L354.4 302.1 L354.5 292.8 L354.6 283.3 L354.7 273.9 L354.8 264.8 L354.9 256.1 L355 248 L355.1 240.7 L355.2 234.4 L355.3 229.2 L355.4 225.2 L355.5 222.5 L355.6 221.1 L355.7 221.1 L355.8 222.5 L355.9 225.2 L356 229.2 L356.1 234.4 L356.2 240.8 L356.3 248 L356.4 256.1 L356.5 264.8 L356.6 274 L356.7 283.4 L356.8 292.8 L356.9 302.1 L357 311.1 L357.1 319.5 L357.2 327.2 L357.3 334 L357.4 339.8 L357.5 344.4 L357.6 347.8 L357.7 349.9 L357.8 350.6 L357.9 349.9 L358 347.8 L358.1 344.4 L358.2 339.8 L358.3 334 L358.4 327.2 L358.5 319.5 L358.6 311.1 L358.7 302.2 L358.8 292.9 L358.9 283.4 L359 274 L359.1 264.9 L359.2 256.2 L359.3 248.1 L359.4 240.8 L359.5 234.5 L359.6 229.3 L359.7 225.3 L359.8 222.6 L359.9 221.2 L360 221.2 L360.1 222.6 L360.2 225.3 L360.3 229.3 L360.4 234.5 L360.5 240.8 L360.6 248.1 L360.7 256.2 L360.8 264.9 L360.9 274.1 L361 283.5 L361.1 292.9 L361.2 302.2 L361.3 311.2 L361.4 319.6 L361.5 327.3 L361.6 334.1 L361.7 339.9 L361.8 344.6 L361.9 348 L362 350 L362.1 350.7 L362.2 350 L362.3 348 L362.4 344.6 L362.5 340 L362.6 334.2 L362.7 327.4 L362.8 319.7 L362.9 311.2 L363 302.3 L363.1 293 L363.2 283.5 L363.3 274.1 L363.4 264.9 L363.5 256.2 L363.6 248.1 L363.7 240.9 L363.8 234.5 L363.9 229.3 L364 225.3 L364.1 222.6 L364.2 221.2 L364.3 221.2 L364.4 222.6 L364.5 225.3 L364.6 229.3 L364.7 234.5 L364.8 240.9 L364.9 248.1 L365 256.2 L365.1 265 L365.2 274.1 L365.3 283.6 L365.4 293 L365.5 302.3 L365.6 311.3 L365.7 319.8 L365.8 327.5 L365.9 334.3 L366 340.1 L366.1 344.7 L366.2 348.1 L366.3 350.2 L366.4 350.9 L366.5 350.2 L366.6 348.2 L366.7 344.8 L366.8 340.3 L366.9 334.6 L367 327.9 L367.1 320.4 L367.2 312.2 L367.3 303.4 L367.4 294.4 L367.5 285.1 L367.6 275.9 L367.7 266.9 L367.8 258.3 L367.9 250.2 L368 242.9 L368.1 236.4 L368.2 231 L368.3 226.6 L368.4 223.4 L368.5 221.6 L368.6 221 L368.7 221.8 L368.8 223.9 L368.9 227.3 L369 231.9 L369.1 237.7 L369.2 244.5 L369.3 252.2 L369.4 260.7 L369.5 269.7 L369.6 279.2 L369.7 288.8 L369.8 298.4 L369.9 307.8 L370 316.8 L370.1 325.1 L370.2 332.5 L370.3 338.9 L370.4 344.1 L370.5 347.9 L370.6 350.3 L370.7 351.1 L370.8 350.3 L370.9 347.8 L371 343.8 L371.1 338.2 L371.2 331.2 L371.3 322.9 L371.4 313.6 L371.5 303.4 L371.6 292.7 L371.7 281.8 L371.8 270.9 L371.9 260.4 L372 250.7 L372.1 241.9 L372.2 234.4 L372.3 228.3 L372.4 224 L372.5 221.6 L372.6 221.1 L372.7 222.5 L372.8 225.8 L372.9 231 L373 237.8 L373.1 246.1 L373.2 255.6 L373.3 266 L373.4 277 L373.5 288.3 L373.6 299.4 L373.7 310.2 L373.8 320.2 L373.9 329.2 L374 336.8 L374.1 343 L374.2 347.5 L374.3 350.3 L374.4 351.2 L374.5 350.3 L374.6 347.6 L374.7 343.2 L374.8 337.2 L374.9 329.8 L375 321.1 L375.1 311.5 L375.2 301.2 L375.3 290.5 L375.4 279.7 L375.5 269.1 L375.6 258.9 L375.7 249.5 L375.8 241.1 L375.9 234 L376 228.2 L376.1 224.1 L376.2 221.7 L376.3 221 L376.4 222.1 L376.5 225 L376.6 229.5 L376.7 235.5 L376.8 243 L376.9 251.5 L377 261 L377.1 271.2 L377.2 281.8 L377.3 292.5 L377.4 303 L377.5 313.1 L377.6 322.4 L377.7 330.8 L377.8 337.9 L377.9 343.7 L378 347.9 L378.1 350.5 L378.2 351.4 L378.3 350.5 L378.4 347.9 L378.5 343.7 L378.6 337.9 L378.7 330.8 L378.8 322.4 L378.9 313.1 L379 303 L379.1 292.5 L379.2 281.9 L379.3 271.3 L379.4 261.2 L379.5 251.7 L379.6 243.1 L379.7 235.7 L379.8 229.7 L379.9 225.2 L380 222.2 L380.1 221 L380.2 221.5 L380.3 223.8 L380.4 227.6 L380.5 233 L380.6 239.7 L380.7 247.6 L380.8 256.5 L380.9 266.2 L381 276.3 L381.1 286.7 L381.2 297 L381.3 307 L381.4 316.5 L381.5 325.2 L381.6 332.9 L381.7 339.4 L381.8 344.6 L381.9 348.4 L382 350.7 L382.1 351.5 L382.2 350.7 L382.3 348.5 L382.4 344.8 L382.5 339.8 L382.6 333.5 L382.7 326.3 L382.8 318.1 L382.9 309.2 L383 299.9 L383.1 290.2 L383.2 280.6 L383.3 271 L383.4 261.8 L383.5 253.2 L383.6 245.3 L383.7 238.3 L383.8 232.4 L383.9 227.6 L384 224.1 L384.1 221.8 L384.2 221 L384.3 221.5 L384.4 223.4 L384.5 226.6 L384.6 231.1 L384.7 236.7 L384.8 243.3 L384.9 250.8 L385 259 L385.1 267.8 L385.2 276.9 L385.3 286.2 L385.4 295.5 L385.5 304.7 L385.6 313.4 L385.7 321.6 L385.8 329.1 L385.9 335.7 L386 341.3 L386.1 345.7 L386.2 349 L386.3 351 L386.4 351.6 L386.5 351 L386.6 349 L386.7 345.8 L386.8 341.4 L386.9 335.8 L387 329.3 L387.1 322 L387.2 314 L387.3 305.4 L387.4 296.4 L387.5 287.3 L387.6 278.2 L387.7 269.2 L387.8 260.5 L387.9 252.4 L388 244.8 L388.1 238.1 L388.2 232.4 L388.3 227.6 L388.4 224 L388.5 221.5 L388.6 220.3 L388.7 220.4 L388.8 221.6 L388.9 224.2 L389 227.9 L389.1 232.7 L389.2 238.5 L389.3 245.3 L389.4 252.8 L389.5 261 L389.6 269.7 L389.7 278.6 L389.8 287.8 L389.9 296.9 L390 305.8 L390.1 314.3 L390.2 322.3 L390.3 329.6 L390.4 336.1 L390.5 341.5 L390.6 345.9 L390.7 349.1 L390.8 351.1 L390.9 351.8 L391 351.1 L391.1 349.1 L391.2 345.9 L391.3 341.4 L391.4 335.7 L391.5 329.1 L391.6 321.5 L391.7 313.2 L391.8 304.3 L391.9 294.9 L392 285.4 L392.1 275.8 L392.2 266.5 L392.3 257.5 L392.4 249 L392.5 241.3 L392.6 234.5 L392.7 228.7 L392.8 224.1 L392.9 220.7 L393 218.7 L393.1 218 L393.2 218.8 L393.3 220.8 L393.4 224.3 L393.5 228.9 L393.6 234.8 L393.7 241.6 L393.8 249.4 L393.9 257.8 L394 266.8 L394.1 276.2 L394.2 285.8 L394.3 295.3 L394.4 304.6 L394.5 313.4 L394.6 321.7 L394.7 329.3 L394.8 335.9 L394.9 341.5 L395 346 L395.1 349.2 L395.2 351.2 L395.3 351.8 L395.4 351.2 L395.5 349.2 L395.6 346 L395.7 341.5 L395.8 336 L395.9 329.4 L396 321.9 L396.1 313.6 L396.2 304.8 L396.3 295.6 L396.4 286.2 L396.5 276.7 L396.6 267.3 L396.7 258.3 L396.8 249.8 L396.9 242 L397 235.1 L397.1 229.1 L397.2 224.1 L397.3 220.4 L397.4 217.9 L397.5 216.7 L397.6 216.7 L397.7 218.1 L397.8 220.7 L397.9 224.6 L398 229.5 L398.1 235.5 L398.2 242.3 L398.3 249.9 L398.4 258.1 L398.5 266.8 L398.6 275.7 L398.7 284.8 L398.8 293.8 L398.9 302.6 L399 311 L399.1 319 L399.2 326.3 L399.3 332.8 L399.4 338.5 L399.5 343.3 L399.6 347 L399.7 349.7 L399.8 351.3 L399.9 351.9 L400 351.3 L400.1 349.8 L400.2 347.2 L400.3 343.7 L400.4 339.3 L400.5 334.1 L400.6 328.2 L400.7 321.7 L400.8 314.6 L400.9 307.2 L401 299.5 L401.1 291.6 L401.2 283.7 L401.3 275.8 L401.4 268 L401.5 260.5 L401.6 253.3 L401.7 246.6 L401.8 240.5 L401.9 234.9 L402 230 L402.1 225.8 L402.2 222.4 L402.3 219.9 L402.4 218.1 L402.5 217.3 L402.6 217.3 L402.7 218.2 L402.8 219.9 L402.9 222.5 L403 225.8 L403.1 229.9 L403.2 234.7 L403.3 240.1 L403.4 246.1 L403.5 252.6 L403.6 259.5 L403.7 266.7 L403.8 274.1 L403.9 281.7 L404 289.3 L404.1 296.9 L404.2 304.4 L404.3 311.6 L404.4 318.4 L404.5 324.8 L404.6 330.8 L404.7 336.1 L404.8 340.7 L404.9 344.6 L405 347.7 L405.1 350 L405.2 351.4 L405.3 351.9 L405.4 351.4 L405.5 350 L405.6 347.6 L405.7 344.3 L405.8 340.1 L405.9 335.1 L406 329.3 L406.1 322.8 L406.2 315.7 L406.3 308 L406.4 300 L406.5 291.7 L406.6 283.2 L406.7 274.7 L406.8 266.4 L406.9 258.2 L407 250.5 L407.1 243.3 L407.2 236.7 L407.3 230.8 L407.4 225.7 L407.5 221.5 L407.6 218.3 L407.7 216.1 L407.8 214.9 L407.9 214.8 L408 215.8 L408.1 217.7 L408.2 220.7 L408.3 224.5 L408.4 229.3 L408.5 234.8 L408.6 241 L408.7 247.8 L408.8 255 L408.9 262.6 L409 270.5 L409.1 278.4 L409.2 286.4 L409.3 294.3 L409.4 302 L409.5 309.4 L409.6 316.4 L409.7 322.9 L409.8 328.8 L409.9 334.2 L410 338.9 L410.1 342.8 L410.2 346.1 L410.3 348.6 L410.4 350.4 L410.5 351.5 L410.6 351.9 L410.7 351.5 L410.8 350.5 L410.9 348.8 L411 346.6 L411.1 343.7 L411.2 340.3 L411.3 336.4 L411.4 332 L411.5 327.2 L411.6 322 L411.7 316.6 L411.8 310.8 L411.9 304.9 L412 298.8 L412.1 292.6 L412.2 286.4 L412.3 280.2 L412.4 274 L412.5 267.9 L412.6 261.9 L412.7 256.2 L412.8 250.6 L412.9 245.4 L413 240.4 L413.1 235.8 L413.2 231.5 L413.3 227.6 L413.4 224.1 L413.5 221.1 L413.6 218.5 L413.7 216.4 L413.8 214.7 L413.9 213.5 L414 212.8 L414.1 212.5 L414.2 212.7 L414.3 213.4 L414.4 214.6 L414.5 216.2 L414.6 218.2 L414.7 220.7 L414.8 223.5 L414.9 226.8 L415 230.3 L415.1 234.2 L415.2 238.4 L415.3 242.9 L415.4 247.7 L415.5 252.6 L415.6 257.7 L415.7 263 L415.8 268.4 L415.9 273.9 L416 279.5 L416.1 285 L416.2 290.5 L416.3 296 L416.4 301.4 L416.5 306.7 L416.6 311.8 L416.7 316.8 L416.8 321.5 L416.9 326 L417 330.2 L417.1 334.1 L417.2 337.6 L417.3 340.9 L417.4 343.7 L417.5 346.1 L417.6 348.2 L417.7 349.8 L417.8 350.9 L417.9 351.6 L418 351.9 L418.1 351.6 L418.2 350.9 L418.3 349.8 L418.4 348.1 L418.5 346.1 L418.6 343.6 L418.7 340.7 L418.8 337.4 L418.9 333.8 L419 329.8 L419.1 325.5 L419.2 320.9 L419.3 316.1 L419.4 311 L419.5 305.8 L419.6 300.4 L419.7 294.9 L419.8 289.3 L419.9 283.7 L420 278 L420.1 272.4 L420.2 266.9 L420.3 261.5 L420.4 256.2 L420.5 251 L420.6 246.1 L420.7 241.5 L420.8 237 L420.9 232.9 L421 229.1 L421.1 225.7 L421.2 222.6 L421.3 219.9 L421.4 217.6 L421.5 215.7 L421.6 214.3 L421.7 213.2 L421.8 212.7 L421.9 212.5 L422 212.8 L422.4 213 L422.6 216.2 L422.9 220.7 L423.1 226.1 L423.4 232.4 L423.6 239.6 L423.9 249.3 L424.1 260.8 L424.4 273.1 L424.6 285.2 L424.9 296.2 L425.1 305.6 L425.4 315.6 L425.6 325.5 L425.9 334.7 L426.1 342.4 L426.4 347.8 L426.6 350.3 L426.9 351.5 L427.1 352.5 L427.4 353 L427.6 352.5 L427.9 349.9 L428.1 345.5 L428.4 339.9 L428.6 333.6 L428.9 323.7 L429.1 310 L429.4 294.3 L429.6 278.7 L429.9 264.3 L430.1 248.8 L430.4 233.4 L430.6 220.5 L430.9 212 L431.1 204.9 L431.4 199.3 L431.6 196.6 L431.9 197.1 L432.1 199.3 L432.4 202.4 L432.6 205.7 L432.9 209.9 L433.1 215.1 L433.4 221 L433.6 227.1 L433.9 232.9 L434.1 238.2 L434.4 243.7 L434.6 249.3 L434.9 254.6 L435.1 259.5 L435.4 263.6 L435.6 267 L435.9 270.3 L436.1 273.5 L436.4 276.3 L436.6 278.3 L436.9 279.4 L437.1 279.4 L437.4 279.1 L437.6 278.5 L437.9 277.6 L438.1 276.6 L438.4 275.5 L438.6 274.1 L438.9 271.9 L439.1 268.9 L439.4 265.5 L439.6 262 L439.9 258.6 L440.1 255.5 L440.4 252.9 L440.6 250.5 L440.9 248.1 L441.1 245.8 L441.4 243.5 L441.6 241.1 L441.9 238.8 L442.1 236.3 L442.4 233.6 L442.6 230.7 L442.9 227.8 L443.1 225.1 L443.4 222.5 L443.6 220.4 L443.9 218.6 L444.1 216.9 L444.4 215.4 L444.6 214 L444.9 212.8 L445.1 211.7 L445.4 210.9 L445.6 210.1 L445.9 209.3 L446.1 208.6 L446.4 207.9 L446.6 207.2 L446.9 206.7 L447.1 206.2 L447.4 205.8 L447.6 205.5 L447.9 205.4 L448.1 205.4 L448.4 205.6 L448.6 205.8 L448.9 206.1 L449.1 206.5 L449.4 207 L449.6 207.4 L449.9 207.9 L450.1 208.4 L450.4 208.9 L450.6 209.4 L450.9 210 L451.1 210.7 L451.4 211.4 L451.6 212.2 L451.9 213 L452.1 214 L452.4 215 L452.6 216.1 L452.9 217.2 L453.1 218.3 L453.4 219.5 L453.6 220.7 L453.9 222 L454.1 223.3 L454.4 224.7 L454.6 226.2 L454.9 227.7 L455.1 229.2 L455.4 230.7 L455.6 232.3 L455.9 233.9 L456.1 235.6 L456.4 237.5 L456.6 239.3 L456.9 241.3 L457.1 243.2 L457.4 245.1 L457.6 247 L457.9 248.9 L458.1 250.6 L458.4 252.2 L458.6 253.7 L458.9 255 L459.1 256.2 L459.4 257.4 L459.6 258.4 L459.9 259.5 L460.1 260.4 L460.4 261.4 L460.6 262.3 L460.9 263.3 L461.1 264.2 L461.4 265.1 L461.6 265.9 L461.9 266.7 L462.1 267.6 L462.4 268.4 L462.6 269.2 L462.9 270 L463.1 270.9 L463.4 271.8 L463.6 272.7 L463.9 273.6 L464.1 274.4 L464.4 275.2 L464.6 276 L464.9 276.7 L465.1 277.3 L465.4 277.8 L465.6 278.3 L465.9 278.8 L466.1 279.3 L466.4 279.7 L466.6 280.1 L466.9 280.4 L467.1 280.8 L467.4 281.1 L467.6 281.4 L467.9 281.6 L468.1 281.8 L468.4 282.1 L468.6 282.3 L468.9 282.5 L469.1 282.7 L469.4 282.9 L469.6 283.1 L469.9 283.2 L470.1 283.3 L470.4 283.4 L470.6 283.4 L470.9 283.4 L471.1 283.4 L471.4 283.4 L471.6 283.4 L471.9 283.5 L472.1 283.5 L472.4 283.5 L472.6 283.5 L472.9 283.5 L473.1 283.5 L473.4 283.5 L473.6 283.5 L473.9 283.5 L474.1 283.5 L474.4 283.5 L474.6 283.5 L474.9 283.5" fill="none" stroke="#d42020" stroke-width="1.8" stroke-linejoin="round" clip-path="url(#cbr)"/>
<rect x="42.0" y="24.6" width="213.5" height="165.2" fill="none" stroke="#000" stroke-width="1.5"/>
<rect x="261.4" y="24.6" width="213.6" height="165.2" fill="none" stroke="#000" stroke-width="1.5"/>
<rect x="42.0" y="196.5" width="213.5" height="164.4" fill="none" stroke="#000" stroke-width="1.5"/>
<rect x="261.4" y="196.5" width="213.6" height="164.4" fill="none" stroke="#000" stroke-width="1.5"/>
<path d="M74.3 24.6v2.5 M74.3 189.8v2.5 M74.3 196.5v2.5 M74.3 360.9v-2.5 M106.6 24.6v3.5 M106.6 189.8v3.5 M106.6 196.5v3.5 M106.6 360.9v-3.5 M138.9 24.6v2.5 M138.9 189.8v2.5 M138.9 196.5v2.5 M138.9 360.9v-2.5 M171.2 24.6v3.5 M171.2 189.8v3.5 M171.2 196.5v3.5 M171.2 360.9v-3.5 M203.5 24.6v2.5 M203.5 189.8v2.5 M203.5 196.5v2.5 M203.5 360.9v-2.5 M235.8 24.6v3.5 M235.8 189.8v3.5 M235.8 196.5v3.5 M235.8 360.9v-3.5 M42.0 189.8h3.5 M255.5 189.8h-3.5 M42.0 169.2h2.5 M255.5 169.2h-2.5 M42.0 148.5h3.5 M255.5 148.5h-3.5 M42.0 127.9h2.5 M255.5 127.9h-2.5 M42.0 107.2h3.5 M255.5 107.2h-3.5 M42.0 86.5h2.5 M255.5 86.5h-2.5 M42.0 65.9h3.5 M255.5 65.9h-3.5 M42.0 45.2h2.5 M255.5 45.2h-2.5 M42.0 24.6h3.5 M255.5 24.6h-3.5 M42.0 360.9h3.5 M255.5 360.9h-3.5 M42.0 319.8h2.5 M255.5 319.8h-2.5 M42.0 278.7h3.5 M255.5 278.7h-3.5 M42.0 237.6h2.5 M255.5 237.6h-2.5 M42.0 196.5h3.5 M255.5 196.5h-3.5 M293.7 24.6v2.5 M293.7 189.8v-2.5 M293.7 196.5v2.5 M293.7 360.9v-2.5 M326.0 24.6v3.5 M326.0 189.8v-3.5 M326.0 196.5v3.5 M326.0 360.9v-3.5 M358.3 24.6v2.5 M358.3 189.8v-2.5 M358.3 196.5v2.5 M358.3 360.9v-2.5 M390.6 24.6v3.5 M390.6 189.8v-3.5 M390.6 196.5v3.5 M390.6 360.9v-3.5 M422.9 24.6v2.5 M422.9 189.8v-2.5 M422.9 196.5v2.5 M422.9 360.9v-2.5 M455.2 24.6v3.5 M455.2 189.8v-3.5 M455.2 196.5v3.5 M455.2 360.9v-3.5 M261.4 189.8h3.5 M475.0 189.8h-3.5 M261.4 169.2h2.5 M475.0 169.2h-2.5 M261.4 148.5h3.5 M475.0 148.5h-3.5 M261.4 127.9h2.5 M475.0 127.9h-2.5 M261.4 107.2h3.5 M475.0 107.2h-3.5 M261.4 86.5h2.5 M475.0 86.5h-2.5 M261.4 65.9h3.5 M475.0 65.9h-3.5 M261.4 45.2h2.5 M475.0 45.2h-2.5 M261.4 24.6h3.5 M475.0 24.6h-3.5 M261.4 360.9h3.5 M475.0 360.9h-3.5 M261.4 319.8h2.5 M475.0 319.8h-2.5 M261.4 278.7h3.5 M475.0 278.7h-3.5 M261.4 237.6h2.5 M475.0 237.6h-2.5 M261.4 196.5h3.5 M475.0 196.5h-3.5 M42.0 189.8v3.5" stroke="#000" stroke-width="1.3" fill="none"/>
<g style="font-family:'Liberation Sans',Arial,sans-serif;font-weight:bold" fill="#000">
<text x="151.9" y="15" font-size="14.6" text-anchor="middle">Hadamard Gate for Dipole 1</text>
<text x="372.7" y="11.9" font-size="14.7" text-anchor="middle">Hadamard Gate for Dipole 2</text>
<text x="38.6" y="25.8" font-size="10.6" text-anchor="end">2</text>
<text x="38.6" y="67.3" font-size="10.6" text-anchor="end">1</text>
<text x="38.6" y="108.5" font-size="10.6" text-anchor="end">0</text>
<text x="38.6" y="149.7" font-size="10.6" text-anchor="end">-1</text>
<text x="38.6" y="190.8" font-size="10.6" text-anchor="end">-2</text>
<text x="38.6" y="200.9" font-size="10.6" text-anchor="end">1.0</text>
<text x="38.6" y="283.0" font-size="10.6" text-anchor="end">0.5</text>
<text x="38.6" y="366.0" font-size="10.6" text-anchor="end">0.0</text>
<text x="42.3" y="372.6" font-size="10.6" text-anchor="middle">0</text>
<text x="93.5" y="374.6" font-size="10.55">1x10<tspan font-size="6" dx="0.3" dy="-5.4">4</tspan></text>
<text x="158.1" y="374.6" font-size="10.55">2x10<tspan font-size="6" dx="0.3" dy="-5.4">4</tspan></text>
<text x="222.7" y="374.6" font-size="10.55">3x10<tspan font-size="6" dx="0.3" dy="-5.4">4</tspan></text>
<text x="261.7" y="372.6" font-size="10.6" text-anchor="middle">0</text>
<text x="312.9" y="374.6" font-size="10.55">1x10<tspan font-size="6" dx="0.3" dy="-5.4">4</tspan></text>
<text x="377.5" y="374.6" font-size="10.55">2x10<tspan font-size="6" dx="0.3" dy="-5.4">4</tspan></text>
<text x="442.1" y="374.6" font-size="10.55">3x10<tspan font-size="6" dx="0.3" dy="-5.4">4</tspan></text>
<text x="263.7" y="401.9" font-size="18.4" text-anchor="middle">Time (ps)</text>
<text transform="translate(16.4 99.2) rotate(-90)" font-size="15.8" text-anchor="middle">E(t) (kV/cm)</text>
<text transform="translate(10.9 276.7) rotate(-90)" font-size="15.9" text-anchor="middle">Population</text>
<line x1="484.2" y1="209.1" x2="502.5" y2="209.1" stroke="#111" stroke-width="1.3"/>
<text x="505.6" y="213.1" font-size="11.2">00</text>
<line x1="484.2" y1="224.1" x2="502.5" y2="224.1" stroke="#d42020" stroke-width="1.3"/>
<text x="505.6" y="228.1" font-size="11.2">01</text>
<line x1="484.2" y1="239.1" x2="502.5" y2="239.1" stroke="#2a3ac8" stroke-width="1.3"/>
<text x="505.6" y="243.1" font-size="11.2">10</text>
<line x1="484.2" y1="254.1" x2="502.5" y2="254.1" stroke="#238c23" stroke-width="1.3"/>
<text x="505.6" y="258.1" font-size="11.2">11</text>
</g>
</svg>
</body></html>
